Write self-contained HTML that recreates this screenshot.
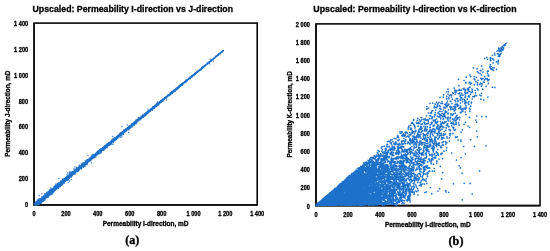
<!DOCTYPE html>
<html lang="en"><head><meta charset="utf-8"><title>Upscaled permeability cross-plots</title>
<style>html,body{margin:0;padding:0;background:#fff}svg{display:block}text{font-family:"Liberation Sans",sans-serif;font-weight:bold;fill:#000;stroke:#000;stroke-width:0.3px}.cap{font-family:"Liberation Serif",serif;font-weight:bold;fill:#000;stroke:#000;stroke-width:0.3px}</style></head><body>
<svg width="550" height="251" viewBox="0 0 550 251">
<rect width="550" height="251" fill="#fff"/>
<defs><clipPath id="ca"><rect x="33.2" y="23.1" width="224.0" height="182.7"/></clipPath><clipPath id="cb"><rect x="315.1" y="23.9" width="224.9" height="182.6"/></clipPath></defs>
<text x="132.8" y="11.6" font-size="9.1" text-anchor="middle" textLength="200.5" lengthAdjust="spacingAndGlyphs">Upscaled: Permeability I-direction vs J-direction</text>
<text x="34.1" y="215.65" font-size="6.4" text-anchor="middle" textLength="3.1" lengthAdjust="spacingAndGlyphs">0</text>
<text x="66.0" y="215.65" font-size="6.4" text-anchor="middle" textLength="9.4" lengthAdjust="spacingAndGlyphs">200</text>
<text x="97.8" y="215.65" font-size="6.4" text-anchor="middle" textLength="9.4" lengthAdjust="spacingAndGlyphs">400</text>
<text x="129.7" y="215.65" font-size="6.4" text-anchor="middle" textLength="9.4" lengthAdjust="spacingAndGlyphs">600</text>
<text x="161.6" y="215.65" font-size="6.4" text-anchor="middle" textLength="9.4" lengthAdjust="spacingAndGlyphs">800</text>
<text x="193.5" y="215.65" font-size="6.4" text-anchor="middle" textLength="14.1" lengthAdjust="spacingAndGlyphs">1 000</text>
<text x="225.3" y="215.65" font-size="6.4" text-anchor="middle" textLength="14.1" lengthAdjust="spacingAndGlyphs">1 200</text>
<text x="257.2" y="215.65" font-size="6.4" text-anchor="middle" textLength="14.1" lengthAdjust="spacingAndGlyphs">1 400</text>
<text x="26.5" y="207.40" font-size="6.4" text-anchor="middle" textLength="3.1" lengthAdjust="spacingAndGlyphs">0</text>
<text x="23.4" y="181.43" font-size="6.4" text-anchor="middle" textLength="9.4" lengthAdjust="spacingAndGlyphs">200</text>
<text x="23.4" y="155.46" font-size="6.4" text-anchor="middle" textLength="9.4" lengthAdjust="spacingAndGlyphs">400</text>
<text x="23.4" y="129.49" font-size="6.4" text-anchor="middle" textLength="9.4" lengthAdjust="spacingAndGlyphs">600</text>
<text x="23.4" y="103.51" font-size="6.4" text-anchor="middle" textLength="9.4" lengthAdjust="spacingAndGlyphs">800</text>
<text x="21.1" y="77.54" font-size="6.4" text-anchor="middle" textLength="14.1" lengthAdjust="spacingAndGlyphs">1 000</text>
<text x="21.1" y="51.57" font-size="6.4" text-anchor="middle" textLength="14.1" lengthAdjust="spacingAndGlyphs">1 200</text>
<text x="21.1" y="25.60" font-size="6.4" text-anchor="middle" textLength="14.1" lengthAdjust="spacingAndGlyphs">1 400</text>
<text x="145.6" y="226.1" font-size="6.8" text-anchor="middle" textLength="85.8" lengthAdjust="spacingAndGlyphs">Permeability I-direction, mD</text>
<text transform="translate(9.7 113.7) rotate(-90)" font-size="6.7" text-anchor="middle" textLength="86.3" lengthAdjust="spacingAndGlyphs">Permeability J-direction, mD</text>
<text class="cap" x="132.3" y="244.0" font-size="12.2" text-anchor="middle">(a)</text>
<rect x="34.1" y="23.1" width="223.1" height="181.8" fill="none" stroke="#000" stroke-width="1.55"/>
<path d="M34.1 23.1V204.9H257.2" fill="none" stroke="#111" stroke-width="1.7"/>
<g clip-path="url(#ca)">
<path d="M34.2 205.1L36.7 201.7L39.8 199.0L43.0 196.4L46.1 193.8L49.2 191.2L52.3 188.5L55.4 185.9L58.6 183.3L61.7 180.7L64.8 178.0L67.9 175.4L71.0 172.8L74.2 170.2L77.4 167.7L80.6 165.1L83.7 162.5L86.9 160.0L90.1 157.4L93.3 154.9L96.4 152.3L99.6 149.8L102.8 147.2L106.0 144.6L109.1 142.1L112.3 139.5L115.5 137.0L118.7 134.4L121.8 131.9L125.0 129.3L128.2 126.7L131.4 124.2L134.5 121.6L137.7 119.1L140.9 116.5L144.1 114.0L147.2 111.4L150.4 108.9L153.6 106.3L156.8 103.7L160.0 101.2L163.1 98.6L166.3 96.1L169.5 93.5L172.7 91.0L175.8 88.4L179.0 85.8L182.2 83.3L185.4 80.7L188.5 78.2L191.7 75.6L194.9 73.1L198.1 70.5L201.2 67.9L204.4 65.4L207.6 62.8L210.8 60.3L213.9 57.7L217.1 55.2L220.3 52.6L223.5 50.0L224.0 50.7L220.9 53.3L217.7 55.9L214.6 58.5L211.4 61.1L208.3 63.7L205.1 66.3L202.0 68.9L198.8 71.4L195.7 74.0L192.5 76.6L189.4 79.2L186.3 81.8L183.1 84.4L180.0 87.0L176.8 89.6L173.7 92.2L170.5 94.8L167.4 97.4L164.2 100.0L161.1 102.6L157.9 105.2L154.8 107.8L151.7 110.4L148.5 113.0L145.4 115.6L142.2 118.1L139.1 120.7L135.9 123.3L132.8 125.9L129.6 128.5L126.5 131.1L123.4 133.7L120.2 136.3L117.1 138.9L113.9 141.5L110.8 144.1L107.6 146.7L104.5 149.3L101.3 151.9L98.2 154.5L95.0 157.1L91.9 159.7L88.8 162.2L85.6 164.8L82.5 167.4L79.3 170.0L76.2 172.6L73.0 175.2L69.9 177.9L66.9 180.5L63.8 183.2L60.7 185.9L57.6 188.5L54.5 191.2L51.4 193.9L48.3 196.5L45.2 199.2L42.2 201.9L39.1 204.5L35.4 206.5Z" fill="#1d71ca"/>
<path d="M128.0 128.7h0M54.4 188.4h0M95.1 155.8h0M58.1 184.5h0M111.5 140.4h0M126.6 128.3h0M47.0 195.9h0M104.0 147.6h0M103.2 146.9h0M52.9 193.2h0M46.0 196.0h0M102.5 147.8h0M154.7 105.5h0M102.4 148.6h0M121.2 132.7h0M68.9 176.4h0M78.8 169.3h0M123.4 132.3h0M44.8 195.4h0M83.1 166.1h0M52.8 189.2h0M188.9 78.5h0M181.6 85.1h0M115.5 138.3h0M203.5 66.7h0M191.7 76.4h0M77.6 168.9h0M36.2 204.6h0M111.5 142.9h0M214.4 57.9h0M107.2 147.8h0M120.2 134.9h0M104.9 147.0h0M45.8 196.5h0M172.6 92.2h0M173.8 91.2h0M168.0 95.7h0M55.1 189.0h0M47.7 192.2h0M116.8 138.3h0M210.5 61.6h0M104.1 147.5h0M155.9 106.5h0M190.0 77.5h0M39.1 204.0h0M210.0 61.6h0M139.4 118.6h0M215.6 56.8h0M51.2 190.5h0M200.0 69.3h0M123.7 133.2h0M135.3 121.8h0M94.4 155.8h0M49.8 193.6h0M160.3 101.2h0M41.5 199.2h0M189.9 77.7h0M36.7 204.2h0M58.3 186.6h0M35.2 203.3h0M139.9 118.6h0M206.6 64.6h0M136.0 123.2h0M116.9 137.9h0M212.8 59.9h0M72.0 175.1h0M128.6 128.7h0M186.2 81.1h0M161.5 101.1h0M116.4 137.7h0M40.7 201.5h0M175.6 89.0h0M150.1 109.7h0M47.1 195.8h0M52.3 188.8h0M78.4 168.8h0M135.5 123.0h0M43.7 197.7h0M76.6 167.5h0M53.1 189.6h0M157.5 103.4h0M38.9 202.5h0M43.9 198.1h0M197.8 71.6h0M178.0 87.2h0M88.4 160.5h0M148.5 113.1h0M164.1 99.5h0M77.1 170.2h0M158.7 102.5h0M109.2 145.0h0M44.2 200.0h0M131.4 123.9h0M206.9 64.5h0M81.3 166.7h0M159.6 102.6h0M90.3 159.0h0M79.6 167.4h0M79.3 169.2h0M79.7 167.5h0M221.7 52.0h0M176.0 88.7h0M41.1 202.7h0M48.2 193.4h0M157.0 104.0h0M53.5 189.5h0M96.0 154.8h0M68.1 179.1h0M200.9 69.9h0M54.0 187.4h0M43.5 199.8h0M97.7 152.5h0M60.5 184.2h0M104.4 147.6h0M81.6 166.8h0M49.0 193.7h0M217.7 54.7h0M215.4 57.4h0M101.4 151.7h0M122.3 133.2h0M94.2 155.9h0M177.3 88.3h0M182.9 84.2h0M66.0 179.9h0M47.1 194.7h0M70.5 176.4h0M104.6 148.5h0M117.0 137.6h0M170.6 94.4h0M209.7 61.5h0M142.5 114.9h0M138.6 120.9h0M161.6 100.2h0M82.7 163.2h0M152.1 107.8h0M112.6 139.8h0M128.9 127.1h0M120.2 133.7h0M190.5 77.9h0M157.1 104.2h0M171.4 92.7h0M174.8 90.5h0M83.5 165.3h0M155.9 105.7h0M158.6 103.5h0M176.7 88.7h0M165.7 96.9h0M117.2 136.1h0M140.1 118.9h0M49.8 193.8h0M87.1 160.5h0M78.2 171.3h0M193.1 75.3h0M192.3 77.0h0M37.7 201.7h0M86.3 163.4h0M95.7 154.3h0M77.7 170.1h0M67.2 176.6h0M36.6 202.7h0M90.2 158.7h0M57.3 186.0h0M130.5 126.3h0M106.1 146.1h0M213.0 59.1h0M58.5 184.6h0M162.3 99.7h0M44.4 197.9h0M98.2 151.6h0M127.0 129.4h0M72.4 173.8h0M98.8 151.8h0M131.2 125.9h0M48.0 193.9h0M35.1 204.6h0M96.2 154.6h0M46.9 195.2h0M48.3 191.8h0M85.4 163.4h0M202.4 67.6h0M37.0 204.2h0M163.2 100.5h0M191.9 75.5h0M124.6 130.6h0M115.9 138.5h0M69.2 172.6h0M143.9 115.8h0M159.0 103.9h0M44.3 198.8h0M91.1 158.9h0M195.4 73.0h0M82.6 165.3h0M57.2 186.1h0M141.0 115.9h0M206.8 64.3h0M44.0 199.0h0M104.7 148.0h0M182.2 84.9h0M161.2 101.9h0M129.1 128.3h0M64.3 180.5h0M154.9 106.4h0M145.5 115.6h0M147.8 111.0h0M61.7 181.8h0M91.3 158.9h0M39.5 203.3h0M47.5 193.5h0M52.8 189.4h0M60.7 182.3h0M39.3 203.3h0M38.9 204.1h0M187.2 80.2h0M76.5 170.2h0M60.5 184.5h0M91.1 156.7h0M36.3 204.3h0M38.9 201.7h0M117.6 136.5h0M115.9 138.2h0M170.4 93.7h0M117.9 135.5h0M126.9 130.2h0M111.5 144.1h0M61.7 184.5h0M141.8 116.7h0M174.5 90.8h0M57.5 185.4h0M198.9 70.8h0M49.3 190.9h0M38.0 202.5h0M106.4 146.8h0M75.2 174.0h0M41.5 198.6h0M165.1 98.2h0M45.9 194.0h0M102.6 148.8h0M62.6 181.1h0M44.9 200.0h0M121.0 137.4h0M158.5 103.5h0M158.3 103.3h0M200.8 68.9h0M58.3 185.3h0M122.2 132.0h0M148.2 112.1h0M215.9 56.5h0M197.9 72.1h0M71.2 176.5h0M124.1 130.1h0M92.6 156.4h0M139.2 117.4h0M172.9 91.4h0M194.2 75.2h0M91.5 157.3h0M77.6 170.1h0M77.6 169.4h0M90.9 158.5h0M45.0 198.0h0M114.7 139.6h0M54.3 187.0h0M66.1 179.3h0M69.1 176.7h0M41.1 200.0h0M65.7 181.1h0M117.4 137.0h0M123.9 130.8h0M147.1 113.5h0M51.7 191.3h0M221.3 52.3h0M221.0 52.4h0M122.3 132.6h0M70.7 177.1h0M37.8 201.4h0M38.4 203.0h0M89.1 161.2h0M130.4 126.7h0M130.3 127.8h0M196.5 72.0h0M40.1 202.4h0M111.8 143.5h0M59.8 185.0h0M174.3 90.9h0M44.1 199.2h0M166.6 97.4h0M35.2 203.7h0M58.6 188.3h0M69.4 181.0h0M52.1 192.5h0M187.7 79.8h0M62.9 182.8h0M40.0 200.5h0M118.0 137.2h0M102.5 150.3h0M209.3 62.0h0M128.1 129.5h0M50.7 187.9h0M51.4 193.0h0M109.4 144.0h0M136.0 122.2h0M101.6 149.3h0M48.4 194.5h0M100.1 151.8h0M64.4 181.6h0M150.6 111.3h0M203.2 67.4h0M109.7 143.2h0M38.1 202.8h0M40.9 201.5h0M218.3 54.8h0M48.1 193.0h0M187.7 79.7h0M106.0 147.4h0M64.0 180.9h0M170.4 94.5h0M50.8 193.6h0M86.9 160.8h0M63.5 180.7h0M197.6 72.5h0M66.6 178.1h0M102.2 149.5h0M40.0 200.9h0M35.2 204.3h0M38.7 200.7h0M69.3 178.5h0M170.5 92.8h0M109.7 143.2h0M186.4 80.9h0M42.4 200.2h0M152.7 108.2h0M149.8 110.4h0M164.3 98.2h0M149.7 110.8h0M94.3 154.5h0M201.5 68.9h0M84.3 165.1h0M34.9 203.9h0M37.5 201.3h0M51.0 194.7h0M123.1 133.2h0M67.6 172.9h0M212.6 59.2h0M64.6 180.6h0M194.9 74.4h0M157.0 104.2h0M103.4 147.4h0M155.9 106.0h0M120.1 133.9h0M41.0 201.6h0M166.3 96.8h0M149.2 111.7h0M68.5 175.4h0M204.5 65.9h0M75.7 171.6h0M103.5 148.2h0M63.1 180.1h0M190.5 77.1h0M89.6 159.9h0M119.0 134.9h0M82.3 163.1h0M146.9 113.5h0M99.2 153.9h0M42.9 198.1h0M182.4 84.8h0M40.0 202.2h0M213.9 58.4h0M43.4 198.6h0M41.9 197.4h0M83.4 164.5h0M169.9 93.9h0M99.0 150.9h0M102.8 147.8h0M60.1 184.9h0M203.0 66.5h0M37.7 199.9h0M196.0 72.8h0M58.9 185.2h0M213.2 58.9h0M145.9 114.0h0M148.8 111.0h0M75.5 172.6h0M44.1 197.6h0M113.6 140.3h0M61.8 180.3h0M43.8 199.4h0M138.4 119.7h0M101.0 150.2h0M153.6 106.9h0M43.3 199.5h0M206.6 64.1h0M111.1 142.8h0M154.4 107.8h0M147.2 113.3h0M49.2 194.8h0M126.1 131.3h0M81.3 167.6h0M84.2 163.6h0M57.1 187.0h0M63.6 179.6h0M71.5 172.8h0M74.5 171.1h0M133.1 123.4h0M213.9 58.2h0M129.9 126.4h0M60.0 184.1h0M52.5 192.5h0M171.9 92.3h0M136.0 123.1h0M117.8 138.2h0M53.9 187.8h0M155.8 105.1h0M110.8 144.3h0M192.7 75.6h0M59.3 184.1h0M67.7 175.4h0M143.9 115.6h0M79.7 168.7h0M123.6 131.4h0M38.7 202.8h0M75.1 173.4h0M43.1 198.4h0M75.7 171.6h0M61.0 182.0h0M75.4 171.0h0M118.1 136.9h0M175.0 89.3h0M63.4 179.6h0M123.9 129.9h0M155.0 106.5h0M75.9 168.9h0M68.2 182.6h0M89.4 158.4h0M135.8 122.3h0M50.4 193.2h0M50.6 193.2h0M55.7 187.5h0M208.0 62.4h0M51.0 194.3h0M156.1 104.6h0M65.7 180.7h0M71.8 175.1h0M99.7 151.9h0M141.4 118.7h0M53.7 189.6h0M79.4 165.2h0M158.8 102.5h0M169.8 95.6h0M103.0 150.1h0M66.8 179.7h0M54.3 187.2h0M214.0 58.1h0M86.5 160.8h0M41.2 200.7h0M109.4 145.3h0M45.8 197.6h0M48.9 191.1h0M93.4 156.4h0M59.3 185.5h0M107.9 143.7h0M221.0 52.8h0M99.3 150.1h0M52.0 193.4h0M183.5 83.2h0M79.6 166.0h0M86.1 162.8h0M61.6 182.3h0M150.7 108.9h0M67.1 178.9h0M221.6 51.6h0M170.8 94.0h0M73.3 173.3h0M186.3 80.6h0M182.8 83.2h0M168.6 95.0h0M82.2 165.4h0M92.0 158.4h0M95.4 156.7h0M38.5 201.4h0M51.8 191.9h0M74.2 169.6h0M171.6 92.5h0M60.8 184.2h0M185.2 82.4h0M134.3 121.7h0M185.5 80.5h0M93.4 156.4h0M71.1 175.0h0M44.4 196.9h0M94.8 157.3h0M214.2 57.7h0M61.0 183.4h0M62.9 184.0h0M71.3 179.4h0M194.8 73.5h0M113.8 140.9h0M159.9 102.3h0M53.5 189.8h0M83.7 165.4h0M78.9 167.6h0M125.8 128.9h0M168.7 95.5h0M148.4 111.8h0M172.5 91.8h0M45.8 195.1h0M57.8 183.3h0M163.6 99.3h0M179.8 86.5h0M61.5 184.9h0M109.7 144.5h0M107.7 145.2h0M146.5 112.6h0M37.5 202.1h0M60.6 182.4h0M104.3 146.8h0M75.9 171.3h0M35.5 203.7h0M109.4 144.7h0M196.0 72.5h0M86.7 164.7h0M135.9 121.4h0M139.4 119.3h0M104.9 148.8h0M91.1 158.3h0M62.4 179.2h0M36.4 203.7h0M46.3 196.6h0M146.3 113.7h0M51.2 190.9h0M59.6 186.3h0M101.4 151.0h0M93.0 155.2h0M92.0 157.2h0M64.7 180.4h0M165.0 97.3h0M105.9 145.1h0M77.4 169.6h0M215.7 56.6h0M91.9 158.3h0M210.1 61.3h0M136.7 122.2h0M206.1 64.8h0M39.8 201.3h0M81.1 166.7h0M197.3 72.3h0M212.6 59.4h0M51.9 191.3h0M38.2 201.8h0M77.2 170.7h0M68.9 175.4h0M126.3 129.0h0M207.5 63.2h0M187.2 79.7h0M115.6 139.6h0M70.0 171.5h0M220.9 53.0h0M215.9 56.8h0M175.8 90.6h0M178.8 87.2h0M112.2 140.4h0M78.6 167.3h0M48.7 194.3h0M75.5 172.1h0M63.1 182.9h0M71.6 173.6h0M64.3 179.1h0M152.9 107.5h0M216.5 55.9h0M62.4 182.7h0M38.4 200.8h0M164.3 98.7h0M57.1 185.5h0M194.8 74.7h0M93.4 155.7h0M171.0 93.1h0M195.1 73.7h0M132.2 127.1h0M123.9 132.4h0M221.0 52.0h0M107.6 145.0h0M86.9 159.4h0M108.8 143.7h0M144.0 115.9h0M165.6 96.8h0M85.4 166.1h0M71.3 176.7h0M87.6 162.5h0M75.1 171.5h0M121.8 134.1h0M195.4 73.6h0M141.9 116.6h0M100.0 149.4h0M173.7 91.0h0M39.5 201.3h0M200.5 69.2h0M80.6 168.2h0M197.5 72.0h0M202.6 67.9h0M94.0 156.1h0M94.1 154.8h0M99.7 153.2h0M176.1 90.0h0M112.1 141.1h0M190.5 77.4h0M130.0 126.6h0M195.1 73.2h0M42.9 198.0h0M67.6 180.6h0M45.1 196.9h0M45.0 196.9h0M199.6 70.7h0M75.8 169.8h0M101.4 152.2h0M79.2 169.3h0M144.1 115.0h0M192.2 76.0h0M90.1 158.8h0M107.4 146.8h0M102.3 148.9h0M177.7 87.8h0M48.8 194.0h0M146.0 113.9h0M54.9 190.4h0M39.0 204.5h0M207.3 63.3h0M104.6 145.7h0M70.3 173.8h0M165.4 97.9h0M36.3 204.0h0M203.5 67.6h0M174.4 90.6h0M47.8 197.4h0M38.6 202.4h0M59.9 184.5h0M102.4 147.8h0M81.3 164.0h0M220.9 52.5h0M55.3 187.1h0M183.1 83.4h0M137.6 120.8h0M154.0 108.0h0M185.4 81.0h0M42.3 199.8h0M48.8 193.5h0M135.5 120.9h0M50.4 190.8h0M60.4 183.0h0M41.3 200.4h0M77.0 170.1h0M105.0 146.0h0M35.9 203.9h0M73.3 174.1h0M134.0 124.0h0M190.3 78.6h0M42.9 198.3h0M71.0 174.9h0M130.2 126.6h0M41.6 197.8h0M179.3 87.5h0M106.8 144.4h0M100.0 150.2h0M53.7 190.1h0M49.3 194.2h0M157.6 104.9h0M93.0 154.3h0M130.2 128.4h0M128.4 128.6h0M60.0 185.8h0M117.0 137.4h0M77.0 168.6h0M149.0 110.1h0M180.2 85.8h0M195.0 74.0h0M110.7 143.5h0M220.4 52.9h0M57.6 187.4h0M46.3 197.7h0M222.3 51.5h0M75.3 170.9h0M163.2 99.9h0M206.1 64.4h0M201.2 68.9h0M145.7 113.2h0M108.6 144.1h0M186.9 80.7h0M162.9 100.2h0M51.7 192.6h0M55.7 185.2h0M163.2 99.5h0M122.7 132.3h0M197.4 71.1h0M47.6 194.4h0M47.1 193.6h0M189.9 77.9h0M196.0 72.6h0M55.1 189.3h0M96.8 152.2h0M64.4 179.4h0M210.6 61.1h0M166.9 96.5h0M53.4 188.4h0M152.9 106.9h0M186.7 80.0h0M60.9 182.0h0M194.5 73.9h0M41.5 200.7h0M50.3 192.8h0M79.3 168.6h0M40.3 203.3h0M142.5 117.4h0M34.8 204.4h0M156.6 104.6h0M39.2 201.8h0M59.9 184.5h0M41.3 203.2h0M171.4 92.5h0M40.9 201.1h0M56.7 188.6h0M72.0 175.9h0M207.8 63.7h0M38.6 204.4h0M85.1 160.6h0M40.3 199.6h0M101.2 151.0h0M205.6 65.1h0M145.8 113.0h0M38.1 201.3h0M84.8 163.8h0M107.7 144.5h0M210.2 61.9h0M107.4 144.7h0M45.4 195.9h0M144.3 114.6h0M126.3 130.9h0M203.5 67.1h0M80.1 167.5h0M188.8 78.6h0M159.1 101.6h0M214.6 57.9h0M44.1 197.7h0M167.2 95.8h0M78.4 170.0h0M43.4 198.1h0M185.5 81.7h0M157.4 105.7h0M196.2 73.6h0M163.6 99.1h0M65.1 180.7h0M93.5 154.9h0M180.2 85.7h0M121.9 134.5h0M51.1 190.9h0M187.4 79.8h0M60.5 185.2h0M183.1 83.6h0M56.0 186.1h0M77.3 171.8h0M114.3 138.3h0M60.5 184.0h0M40.4 200.3h0M90.0 159.0h0M84.2 165.1h0M193.9 74.5h0M178.0 87.0h0M45.5 194.1h0M168.9 94.5h0M178.1 87.4h0M183.2 83.6h0M191.1 77.2h0M106.3 144.9h0M193.5 74.9h0M143.5 115.1h0M97.5 154.2h0M71.4 174.7h0M123.7 131.7h0M137.3 120.9h0M190.3 76.9h0M202.3 68.7h0M86.3 163.9h0M55.1 190.0h0M129.5 126.4h0M135.8 120.2h0M76.8 167.9h0M49.2 193.6h0M184.9 81.3h0M121.2 134.4h0M89.9 158.7h0M148.7 111.5h0M171.1 93.7h0M127.2 124.9h0M147.7 111.9h0M199.7 70.4h0M189.9 77.9h0M146.8 114.0h0M59.5 184.7h0M178.8 87.6h0M57.7 186.4h0M189.3 77.3h0M191.5 76.0h0M211.7 61.0h0M59.0 182.8h0M87.0 164.1h0M126.6 129.6h0M47.1 192.1h0M152.7 106.7h0M49.0 194.0h0M93.4 157.2h0M172.2 92.0h0M185.4 81.4h0M195.5 72.6h0M60.9 182.8h0M86.0 162.1h0M39.3 200.2h0M69.8 177.3h0M127.5 127.5h0M210.9 61.1h0M209.8 62.1h0M50.4 194.1h0M84.2 164.2h0M53.8 189.3h0M55.6 187.6h0M192.5 76.2h0M123.6 132.2h0M122.0 126.6h0M223.2 51.0h0M100.8 153.0h0M68.5 176.5h0M110.9 141.9h0M213.1 59.2h0M95.8 153.3h0M76.9 170.3h0M70.0 176.1h0M67.1 177.3h0M181.7 85.3h0M84.3 166.4h0M93.2 156.9h0M219.6 53.8h0M50.6 192.9h0M190.3 77.8h0M71.3 173.0h0M105.2 147.4h0M42.1 198.2h0M145.8 112.7h0M135.2 123.1h0M150.1 110.6h0M154.6 105.6h0M155.4 106.5h0M59.0 184.1h0M136.2 122.2h0M171.2 93.5h0M187.9 79.8h0M136.7 121.1h0M147.8 112.8h0M95.4 153.6h0M167.0 96.4h0M76.7 169.3h0M83.6 163.4h0M71.0 174.2h0M87.7 161.0h0M216.3 56.0h0M140.8 118.6h0M55.8 184.1h0M114.3 137.6h0M134.6 123.1h0M70.1 174.3h0M108.5 143.3h0M115.0 141.0h0M98.8 150.9h0M68.0 175.6h0M180.5 84.8h0M40.9 200.7h0M62.8 179.4h0M37.0 203.2h0M123.8 130.5h0M34.6 204.2h0M89.6 159.3h0M214.2 57.5h0M118.9 134.6h0M104.4 148.0h0M60.9 183.8h0M40.6 200.0h0M148.1 111.7h0M71.6 174.2h0M136.2 122.2h0M90.6 158.9h0M108.3 145.7h0M127.0 128.4h0M59.4 184.4h0M89.7 159.6h0M147.2 112.2h0M118.6 136.7h0M209.0 62.8h0M40.2 199.2h0M63.5 179.1h0M51.6 190.8h0M87.1 162.9h0M68.3 177.1h0M113.1 139.7h0M124.1 130.4h0M126.9 128.3h0M113.6 140.5h0M66.5 178.6h0M73.4 173.9h0M172.5 91.8h0M143.9 114.8h0M63.8 179.9h0M92.5 157.3h0M179.0 86.4h0M87.6 161.3h0M140.9 118.5h0M161.9 101.3h0M138.0 119.6h0M81.5 166.0h0M37.2 204.2h0M176.3 89.2h0M217.9 55.4h0M138.8 118.6h0M123.1 133.6h0M55.9 186.5h0M162.3 100.6h0M173.5 91.5h0M134.2 124.0h0M176.4 89.3h0M64.6 179.6h0M35.2 202.7h0M40.3 200.4h0M153.7 106.3h0M97.1 154.7h0M75.7 170.7h0M38.6 203.8h0M173.8 91.7h0M194.1 74.6h0M42.9 199.3h0M192.3 75.6h0M134.0 122.9h0M200.4 69.9h0M69.2 175.7h0M42.1 200.4h0M146.8 114.1h0M90.2 160.3h0M173.8 91.9h0M202.9 67.8h0M82.4 165.0h0M120.6 133.2h0M121.9 134.1h0M77.1 167.7h0M151.3 109.7h0M190.5 78.5h0M87.2 161.8h0M90.7 160.1h0M145.8 114.3h0M87.7 159.7h0M100.2 151.4h0M81.3 166.0h0M179.1 86.7h0M161.4 101.4h0M220.9 52.6h0M181.5 84.4h0M120.8 133.7h0M61.8 180.4h0M55.4 188.9h0M41.2 199.1h0M215.9 56.8h0M169.1 94.9h0M129.4 128.1h0M179.6 86.8h0M89.0 160.1h0M87.4 163.2h0M152.4 110.3h0M157.8 104.6h0M54.3 189.2h0M67.0 178.5h0M205.0 65.7h0M40.4 200.7h0M143.8 116.8h0M153.4 108.6h0M66.4 178.8h0M59.9 183.5h0M74.0 169.5h0M108.5 143.2h0M124.5 130.8h0M169.6 94.6h0M103.0 148.9h0M152.7 108.8h0M83.1 164.5h0M132.0 125.5h0M190.2 78.8h0M124.8 132.0h0M138.5 119.7h0M52.0 191.3h0M71.3 177.2h0M52.3 190.9h0M70.2 175.6h0M223.0 51.2h0M55.5 189.7h0M176.2 88.2h0M57.2 186.8h0M101.7 149.8h0M52.0 194.3h0M48.8 191.9h0M43.9 196.9h0M168.3 95.4h0M82.0 164.5h0M170.5 93.5h0M141.6 117.1h0M55.1 188.6h0M196.1 73.4h0M88.7 160.4h0M47.0 194.8h0M126.4 129.7h0M53.6 191.2h0M49.5 194.7h0M212.8 59.2h0M159.8 101.9h0M48.9 193.4h0M158.3 103.0h0M129.3 128.9h0M38.5 203.0h0M87.4 162.6h0M48.8 193.8h0M47.8 192.5h0M79.3 168.4h0M93.9 155.1h0M51.6 191.3h0M98.2 153.3h0M97.5 154.3h0M201.3 69.4h0M134.0 122.7h0M149.5 110.9h0M153.3 107.8h0M64.1 179.4h0M65.6 177.8h0M43.9 198.4h0M208.3 63.0h0M217.0 55.5h0M40.5 201.1h0M191.8 76.6h0M39.5 200.7h0M97.9 152.4h0M48.6 196.2h0M181.3 85.4h0M69.8 174.0h0M44.0 197.8h0M114.9 138.6h0M49.4 195.4h0M51.8 190.4h0M128.8 129.2h0M167.4 95.8h0M157.5 101.9h0M49.4 192.4h0M155.7 106.8h0M140.1 118.4h0M89.2 160.4h0M39.0 199.0h0M156.6 105.4h0M152.2 108.3h0M182.6 83.3h0M169.5 94.3h0M219.7 53.1h0M77.6 168.5h0M93.8 155.7h0M77.7 169.5h0M40.2 201.1h0M101.5 148.9h0M183.4 83.3h0M146.9 113.2h0M211.8 60.0h0M138.4 120.0h0M42.1 197.8h0M37.2 202.1h0M109.3 145.3h0M190.2 77.0h0M79.5 168.5h0M145.0 114.9h0M127.4 128.7h0M81.4 166.5h0M182.3 85.4h0M36.4 204.0h0M61.5 183.4h0M146.4 114.0h0M199.5 70.2h0M78.5 170.1h0M97.4 153.1h0M112.1 139.8h0M177.6 87.4h0M58.1 186.1h0M43.9 197.2h0M64.8 181.1h0M122.8 132.3h0M108.5 144.6h0M107.4 145.4h0M219.9 54.0h0M128.5 132.3h0M56.8 187.5h0M215.0 57.2h0M155.5 105.3h0M215.4 57.7h0M57.6 188.4h0M207.5 63.6h0M48.4 196.3h0M220.2 53.0h0M64.6 178.5h0M60.0 184.2h0M83.1 164.4h0M122.2 136.1h0M42.8 198.5h0M82.6 165.9h0M57.7 185.5h0M71.3 176.4h0M151.4 109.0h0M85.8 162.6h0M74.3 172.6h0M177.1 87.5h0M209.3 62.3h0M166.7 96.4h0M37.5 200.6h0M191.2 77.3h0M217.1 55.9h0M142.5 116.8h0M43.1 198.7h0M205.2 66.2h0M44.6 194.0h0M49.4 190.1h0M167.6 95.6h0M66.0 180.2h0M85.2 165.7h0M65.8 179.1h0M190.1 78.0h0M94.5 157.2h0M127.0 128.3h0M49.8 193.9h0M172.0 91.8h0M60.5 182.6h0M62.8 182.2h0M182.2 84.0h0M135.5 121.9h0M166.5 97.0h0M98.1 152.0h0M177.5 87.3h0M42.1 199.8h0M39.5 203.3h0M223.4 50.5h0M165.7 98.2h0M42.7 197.2h0M59.6 185.6h0M137.6 120.7h0M35.0 204.1h0M72.6 173.3h0M71.3 173.1h0M92.6 157.0h0M79.1 167.7h0M103.3 147.9h0M173.1 91.9h0M205.7 64.5h0M85.8 162.4h0M134.4 122.5h0M42.2 199.5h0M38.7 201.4h0M56.4 187.0h0M63.8 182.2h0M104.2 146.8h0M38.7 204.2h0M209.2 62.7h0M136.3 121.9h0M89.8 159.5h0M51.3 192.4h0M67.9 179.1h0M141.3 118.1h0M87.3 160.7h0M40.2 200.3h0M181.6 84.4h0M74.8 170.6h0M157.9 103.4h0M95.7 153.1h0M62.9 183.9h0M97.1 154.2h0M186.2 81.9h0M163.3 99.3h0M223.1 50.8h0M60.0 184.2h0M122.9 132.0h0M209.7 61.6h0M124.6 131.7h0M102.6 150.2h0M207.0 63.7h0M191.9 76.8h0M210.8 61.3h0M144.0 115.6h0M218.5 53.7h0M117.2 137.9h0M51.8 191.5h0M94.6 155.6h0M100.6 151.9h0M63.2 179.5h0M49.5 194.5h0M187.5 79.7h0M69.8 176.0h0M97.5 153.6h0M145.9 114.2h0M95.2 155.1h0M96.5 152.3h0M56.2 184.7h0M165.9 97.2h0M74.9 171.1h0M57.2 186.9h0M80.5 167.4h0M53.5 191.4h0M213.2 58.8h0M109.4 144.1h0M35.3 204.6h0M135.4 122.0h0M38.4 202.2h0M47.7 195.7h0M88.6 159.6h0M109.0 143.3h0M118.5 135.4h0M109.2 143.5h0M40.5 201.6h0M60.3 181.1h0M60.3 186.0h0M37.2 201.2h0M170.7 93.3h0M118.4 135.8h0M104.1 148.4h0M220.0 53.2h0M193.1 75.8h0M167.2 96.6h0M45.0 198.4h0M113.4 142.5h0M82.7 165.4h0M60.6 184.6h0M70.2 174.2h0M49.9 190.4h0M40.6 200.5h0M56.7 188.8h0M146.9 113.3h0M66.3 176.9h0M130.4 127.0h0M80.3 168.5h0M121.7 134.8h0M151.8 109.2h0M201.5 69.2h0M51.1 192.6h0M195.2 74.3h0M107.1 144.7h0M116.8 138.4h0M42.0 202.2h0M199.4 70.6h0M61.8 180.4h0M72.3 173.6h0M210.8 60.7h0M138.9 119.3h0M51.1 191.1h0M173.0 90.5h0M118.9 135.4h0M71.0 176.1h0M99.4 153.2h0M44.8 196.0h0M184.2 81.8h0M186.0 80.7h0M54.1 189.4h0M113.2 141.5h0M158.8 105.0h0M189.8 78.4h0M44.4 199.0h0M162.7 100.2h0M121.7 134.2h0M95.6 155.6h0M92.0 155.4h0M127.0 128.2h0M119.8 136.7h0M45.7 194.3h0M92.0 156.9h0M137.1 121.2h0M197.8 71.1h0M218.8 54.1h0M90.9 158.4h0M91.2 159.0h0M54.4 189.1h0M64.8 180.4h0M123.6 134.4h0M154.1 108.1h0M38.0 202.8h0M63.0 181.0h0M153.1 107.6h0M57.7 186.3h0M197.5 71.7h0M150.4 108.9h0M64.8 180.7h0M43.3 199.3h0M64.5 179.1h0M106.9 145.8h0M163.6 99.9h0M167.3 96.6h0M89.9 160.1h0M128.8 129.9h0M136.0 123.9h0M61.0 183.8h0M61.9 185.2h0M142.9 116.7h0M93.9 156.0h0M47.6 191.8h0M77.7 171.1h0M120.8 135.9h0M66.6 179.9h0M150.4 110.3h0M69.6 175.3h0M50.6 190.1h0M57.0 187.7h0M57.5 184.7h0M52.1 192.1h0M113.1 140.9h0M186.9 79.7h0M91.5 162.9h0M72.3 174.8h0M179.9 86.6h0M113.0 144.4h0M95.7 153.7h0M110.4 143.3h0M54.8 189.2h0M79.0 166.5h0M52.4 191.2h0M180.7 86.0h0M40.2 198.7h0M99.6 151.1h0M37.0 204.6h0M38.7 204.0h0M37.2 202.9h0M51.5 188.8h0M88.9 160.3h0M44.0 199.0h0M36.8 202.1h0M122.5 132.7h0M61.3 182.0h0M66.0 180.8h0M153.7 107.6h0M55.8 187.3h0M81.7 168.3h0M194.8 73.6h0M83.3 164.9h0M75.1 166.9h0M54.5 188.3h0M47.7 194.2h0M47.5 195.8h0M43.8 195.7h0M132.5 125.6h0M69.7 173.1h0M179.9 86.4h0M44.4 198.7h0M83.1 165.2h0M200.1 70.3h0M103.6 147.6h0M180.7 85.3h0M41.4 199.2h0M155.0 107.0h0M57.1 188.0h0M39.5 202.9h0M182.7 83.0h0M113.6 138.8h0M117.1 137.4h0M75.7 170.1h0M165.0 98.2h0M195.7 74.1h0M48.4 192.5h0M198.7 70.7h0M183.6 83.6h0M43.3 198.6h0M177.8 87.4h0M74.1 172.2h0M134.3 122.3h0M175.1 89.3h0M64.5 181.0h0M57.6 183.8h0M162.1 101.1h0M163.3 100.2h0M141.7 117.9h0M121.6 133.5h0M73.0 172.7h0M49.7 194.7h0M61.2 184.2h0M71.2 175.0h0M38.8 202.2h0M61.7 184.7h0M41.4 198.5h0M67.3 178.7h0M132.9 124.6h0M203.4 66.4h0M204.6 65.4h0M54.2 188.9h0M110.1 142.9h0M190.3 78.1h0M66.6 179.0h0M65.5 178.0h0M59.5 183.4h0M88.0 155.6h0M210.2 60.8h0M104.9 147.5h0M124.7 132.2h0M109.7 144.4h0M39.2 204.3h0M69.7 175.8h0M208.8 61.8h0M93.3 157.2h0M128.6 126.7h0M85.5 163.3h0M87.9 161.6h0M66.9 176.6h0M202.8 67.5h0M37.5 202.5h0M37.9 200.8h0M58.7 182.9h0M190.2 78.5h0M142.6 114.9h0M63.8 181.5h0M140.2 119.9h0M148.0 111.4h0M70.7 174.3h0M125.4 129.6h0M209.6 63.9h0M143.3 115.8h0M107.7 144.5h0M119.2 135.0h0M98.1 150.3h0M73.0 172.4h0M90.2 157.9h0M76.9 170.9h0M148.3 111.7h0M208.9 62.3h0M130.9 125.4h0M106.8 144.1h0M114.8 138.4h0M184.5 82.3h0M69.3 173.7h0M155.3 105.2h0M196.3 73.0h0M97.4 153.1h0M98.7 153.8h0M66.9 176.8h0M74.9 170.6h0M192.0 75.3h0M218.7 55.1h0M39.4 200.9h0M156.5 105.8h0M39.1 195.7h0M56.0 187.1h0M179.8 86.7h0M166.3 97.2h0M74.3 172.2h0M163.9 98.6h0M42.0 198.3h0M58.8 178.7h0M61.7 183.4h0M48.5 195.3h0M52.8 191.4h0M188.5 79.4h0M60.4 183.0h0M116.6 139.4h0M185.5 82.2h0M58.9 185.8h0M47.0 194.2h0M208.2 62.7h0M76.9 169.4h0M49.9 193.6h0M64.4 183.1h0M59.4 183.3h0M47.1 194.7h0M172.2 91.9h0M69.9 175.0h0M177.3 88.8h0M79.1 165.6h0M211.5 60.5h0M60.4 183.6h0M106.3 145.8h0M38.6 203.5h0M59.7 187.1h0M133.2 125.7h0M66.9 174.6h0M35.9 203.1h0M44.3 196.8h0M35.3 203.7h0M44.6 198.5h0M50.3 190.5h0M178.2 88.0h0M66.3 177.2h0M198.3 71.5h0M44.7 197.7h0M133.5 124.9h0M163.4 99.7h0M90.6 157.8h0M186.4 81.6h0M56.3 188.9h0M146.1 112.5h0M47.6 195.7h0M45.4 195.8h0M123.0 132.4h0M55.7 187.2h0M152.7 109.6h0M71.2 175.0h0M54.6 189.7h0M216.6 56.3h0M162.0 101.4h0M76.8 170.3h0M199.8 69.3h0M116.5 136.7h0M50.7 191.8h0M181.9 83.3h0M203.9 66.8h0M162.9 99.0h0M133.7 123.0h0M40.5 199.1h0M198.0 70.8h0M179.3 86.9h0M164.2 97.3h0M62.2 183.6h0M205.8 65.3h0M66.1 179.7h0M112.8 141.6h0M60.5 183.7h0M122.7 133.6h0M203.8 66.7h0M47.9 195.2h0M45.9 195.9h0M38.1 204.3h0M63.2 182.1h0M70.8 172.6h0M34.8 204.6h0M138.7 119.7h0M90.7 160.3h0M55.4 188.7h0M68.2 178.7h0M146.4 113.9h0M55.5 185.2h0M136.3 120.4h0M55.8 189.8h0M207.0 64.5h0M43.2 199.1h0M34.5 204.6h0M211.0 60.8h0M161.7 100.8h0M195.7 73.2h0M91.5 157.3h0M136.8 120.1h0M179.0 86.3h0M47.2 196.3h0M163.7 100.8h0M62.8 180.3h0M110.5 143.3h0M89.2 160.8h0M194.9 73.7h0M79.9 166.7h0M57.6 187.4h0M139.3 119.1h0M160.9 100.9h0M221.7 51.9h0M40.3 200.4h0M215.9 56.9h0M125.0 130.7h0M129.7 126.5h0M147.9 113.2h0M153.8 106.6h0M126.7 129.2h0M215.8 57.1h0M85.9 163.2h0M122.1 132.9h0M70.4 176.4h0M114.0 139.0h0M115.5 139.6h0M43.9 198.0h0M142.6 116.8h0M201.6 67.5h0M93.3 156.6h0M111.3 141.7h0M41.0 200.6h0M107.7 144.6h0M189.3 77.9h0M71.4 174.2h0M101.4 149.2h0M176.2 89.8h0M185.5 82.1h0M185.5 81.7h0M57.2 183.5h0M64.7 181.0h0M87.5 163.3h0M215.4 57.5h0M135.8 121.4h0M121.2 133.8h0M106.5 146.5h0M104.8 149.0h0M140.4 118.3h0M127.1 128.0h0M48.4 196.0h0M162.8 100.7h0M167.1 95.9h0M133.8 122.9h0M222.2 50.9h0M49.4 195.5h0M41.8 200.0h0M40.3 202.8h0M46.5 195.4h0M39.8 201.1h0M35.3 202.8h0M53.0 189.9h0M34.7 204.5h0M46.1 193.7h0M178.2 88.6h0M167.4 96.3h0M79.3 170.1h0M154.9 107.3h0M178.7 87.5h0M120.7 135.2h0M138.6 120.0h0M131.8 126.2h0M37.5 202.7h0M197.7 72.3h0M71.2 174.4h0M39.4 201.7h0M74.5 173.0h0M39.3 200.4h0M39.3 202.3h0M60.5 186.4h0M177.1 88.0h0M156.9 104.1h0M57.6 188.6h0M61.9 182.7h0M139.7 118.5h0M46.7 195.4h0M184.0 83.1h0M146.2 114.6h0M129.7 126.0h0M43.8 198.4h0M48.5 196.1h0M218.3 54.9h0M181.3 85.5h0M37.7 203.4h0M195.1 73.8h0M50.9 190.4h0M210.2 61.1h0M150.1 110.6h0M157.2 105.0h0M75.0 172.4h0M38.8 203.5h0M181.7 83.9h0M98.4 151.4h0M161.4 101.5h0M74.6 171.9h0M148.3 113.1h0M136.6 123.1h0M56.1 187.4h0M152.1 109.0h0M47.7 194.4h0M54.0 186.5h0M71.8 175.9h0M43.3 200.5h0M172.3 91.7h0M147.8 111.3h0M85.8 164.1h0M54.2 191.4h0M63.8 180.9h0M82.3 164.3h0M189.0 78.7h0M213.4 59.1h0M176.2 89.2h0M163.4 99.5h0M72.0 174.6h0M201.9 68.1h0M82.3 165.6h0M138.7 119.9h0M104.9 149.1h0M181.7 85.3h0M208.2 63.0h0M105.7 145.5h0M76.5 170.7h0M43.3 197.1h0M179.9 85.0h0M58.0 185.2h0M100.1 150.7h0M176.6 88.6h0M58.3 184.2h0M55.1 186.5h0M109.6 144.3h0M84.2 164.1h0M215.4 56.9h0M116.9 136.5h0M82.3 165.1h0M175.9 90.1h0M44.0 196.9h0M172.4 92.3h0M104.3 147.9h0M210.1 61.5h0M177.4 89.2h0M221.9 51.6h0M145.6 114.0h0M68.4 178.2h0M128.7 127.0h0M46.0 197.8h0M156.3 104.9h0M38.8 200.6h0M45.9 198.0h0M39.9 200.0h0M49.1 191.1h0M105.3 145.5h0M85.5 163.7h0M182.0 83.7h0M45.7 198.8h0M167.6 95.9h0M211.8 60.1h0M137.4 120.4h0M187.3 80.4h0M95.8 155.3h0M45.6 195.3h0M207.0 63.7h0M101.0 149.9h0M68.1 177.4h0M133.2 123.6h0M164.4 99.3h0M119.0 135.7h0M146.3 112.6h0M37.6 200.6h0M175.1 91.3h0M132.1 124.0h0M35.3 204.3h0M35.6 202.1h0M156.9 104.7h0M96.0 156.9h0M208.8 62.3h0M125.7 131.3h0M132.9 124.0h0M47.5 193.9h0M166.9 96.1h0M63.0 182.5h0M153.0 108.4h0M66.7 176.4h0M44.8 197.8h0M92.8 158.1h0M66.0 178.1h0M212.4 59.4h0M82.9 163.0h0M83.0 164.3h0M77.0 170.9h0M59.3 182.9h0M85.1 165.4h0M74.1 174.2h0M54.0 190.1h0M214.3 57.6h0M39.0 201.5h0M131.9 124.9h0M156.3 103.6h0M50.8 193.3h0M221.2 52.2h0M52.0 191.1h0M156.3 104.9h0M56.3 186.6h0M175.3 90.9h0M102.1 150.4h0M183.8 82.9h0M198.0 71.3h0M84.2 162.9h0M200.5 69.2h0M201.5 68.6h0M89.0 161.1h0M44.0 199.2h0M217.5 55.6h0M135.4 122.3h0M222.4 51.0h0M223.2 50.8h0M182.6 83.4h0M74.1 168.6h0M164.2 99.4h0M138.3 120.4h0M101.0 151.0h0M73.9 172.7h0M217.5 55.9h0M94.1 154.8h0M91.8 155.2h0M190.9 77.1h0M63.4 179.8h0M137.7 119.4h0M143.3 115.3h0M43.6 199.4h0M141.8 116.8h0M210.2 59.2h0M96.9 154.8h0M62.1 181.7h0M198.4 70.9h0M204.9 65.6h0M46.2 196.1h0M185.8 81.6h0M198.3 70.9h0M108.5 145.0h0M109.1 144.7h0M152.1 109.5h0M53.3 191.2h0M43.4 198.6h0M157.5 104.1h0M189.1 78.8h0M183.4 83.5h0M38.6 201.3h0M125.2 130.7h0M51.9 190.7h0M47.5 194.2h0M161.4 102.3h0M103.7 147.1h0M37.4 200.2h0M76.0 170.8h0M48.3 194.2h0M136.2 121.3h0M179.2 85.7h0M141.5 117.4h0M95.5 155.0h0M119.6 134.7h0M217.8 55.3h0M43.1 197.5h0M160.0 101.7h0M67.1 177.7h0M90.5 159.7h0M138.3 118.0h0M109.9 144.1h0M158.1 104.3h0M42.8 199.9h0M68.9 178.8h0M222.3 52.0h0M94.3 157.9h0M147.6 113.3h0M162.9 100.0h0M208.3 62.7h0M124.2 130.8h0M166.7 96.4h0M68.2 179.8h0M50.5 194.1h0M47.6 195.8h0M160.6 101.5h0M134.5 122.0h0M101.9 149.8h0M173.8 90.6h0M38.2 199.4h0M144.2 113.6h0M50.5 191.7h0M154.4 107.6h0M52.0 190.0h0M34.8 203.7h0M54.4 186.9h0M36.0 202.5h0M81.5 168.9h0M185.9 81.4h0M42.6 199.1h0M194.2 75.3h0M94.9 154.9h0M49.5 192.7h0M148.8 110.9h0M59.2 185.5h0M71.6 174.2h0M211.4 60.0h0M91.1 157.8h0M145.1 115.9h0M135.6 124.1h0M202.1 68.1h0M37.2 204.3h0M162.9 100.8h0M112.6 140.4h0M46.4 192.9h0M140.4 118.1h0M123.8 131.4h0M180.9 85.1h0M102.7 148.9h0M43.7 196.4h0M108.3 144.3h0M53.7 192.1h0M134.3 123.1h0M55.0 189.3h0M221.3 52.5h0M149.0 111.3h0M119.2 135.0h0M87.6 162.6h0M89.6 158.5h0M97.9 152.8h0M97.6 153.7h0M131.7 125.4h0M116.6 138.7h0M203.1 67.2h0M57.3 187.2h0M167.8 95.0h0M195.3 73.4h0M179.5 86.7h0M204.2 66.4h0M64.0 178.5h0M216.4 56.6h0M182.3 84.2h0M57.3 186.9h0M160.2 102.9h0M134.6 121.6h0M136.3 123.3h0M129.2 128.6h0M43.3 198.8h0M168.5 95.7h0M74.5 172.3h0M45.7 194.9h0M71.9 171.3h0M64.5 180.1h0M65.7 179.1h0M43.9 200.3h0M91.4 159.5h0M113.8 139.3h0M35.0 203.1h0M139.6 118.4h0M202.7 67.2h0M65.3 177.9h0M211.7 60.8h0M178.3 87.5h0M152.5 107.3h0M103.1 148.6h0M83.3 166.1h0M90.4 160.9h0M203.0 67.4h0M87.0 164.7h0M200.9 70.0h0M67.7 178.4h0M37.5 204.3h0M145.4 114.8h0M72.2 173.6h0M139.4 119.5h0M36.6 204.1h0M41.2 202.4h0M128.7 126.3h0M39.9 200.9h0M219.4 53.9h0M217.4 55.0h0M136.4 122.1h0M132.4 124.0h0M45.7 198.1h0M79.4 168.4h0M40.4 203.5h0M43.8 198.6h0M114.4 139.9h0M108.5 142.3h0M144.7 115.4h0M124.0 131.8h0M172.5 91.5h0M150.0 110.3h0M57.5 187.0h0M125.4 131.8h0M97.5 151.7h0M119.4 135.0h0M201.7 68.4h0M132.6 125.7h0M99.0 151.7h0M48.8 194.6h0M72.4 172.1h0M126.8 128.6h0M48.2 197.3h0M144.7 113.9h0M61.2 183.3h0M62.4 182.5h0M78.8 168.9h0M147.1 112.4h0M73.1 173.5h0M196.3 73.0h0M186.8 81.5h0M61.7 184.8h0M208.4 62.7h0M113.3 140.5h0M59.2 186.5h0M131.8 126.8h0M57.1 186.4h0M103.1 148.9h0M165.1 97.7h0M42.6 199.1h0M93.1 155.4h0M48.8 194.3h0M173.8 90.1h0M84.0 165.2h0M81.3 166.8h0M43.9 197.5h0M51.2 189.1h0M162.7 100.2h0M161.7 100.6h0M158.0 103.6h0M120.4 133.5h0M93.5 157.0h0M195.0 73.3h0M222.3 51.6h0M52.0 190.3h0M55.0 185.3h0M178.9 85.9h0M199.5 69.7h0M98.3 152.8h0M143.5 115.1h0M185.5 80.4h0M114.4 137.8h0M134.4 125.2h0M173.0 91.2h0M47.2 194.1h0M48.0 192.2h0M176.2 90.3h0M206.3 64.4h0M215.6 56.2h0M112.8 136.5h0M112.7 141.3h0M54.3 190.2h0M147.9 109.1h0M89.6 160.7h0M139.6 119.4h0M49.5 193.9h0M44.7 198.8h0M220.6 53.1h0M92.9 158.6h0M74.0 171.5h0M45.8 197.3h0M106.4 147.1h0M133.7 124.4h0M124.7 130.1h0M92.9 156.0h0M185.8 80.1h0M75.6 171.2h0M154.5 108.5h0M54.6 190.3h0M220.7 53.3h0M79.1 167.8h0M143.4 116.4h0M61.0 181.4h0M40.7 199.7h0M216.0 56.8h0M50.0 189.4h0M95.9 155.4h0M51.5 192.7h0M64.1 181.2h0M152.0 109.5h0M53.0 188.2h0M113.5 140.8h0M112.8 140.3h0M72.4 172.2h0M125.7 129.0h0M74.4 172.6h0M100.7 148.7h0M174.4 91.6h0M173.0 92.0h0M113.6 139.3h0M182.7 83.4h0M101.3 149.3h0M75.3 170.0h0M201.0 69.4h0M161.6 100.5h0M194.6 74.1h0M141.6 118.6h0M121.0 135.2h0M158.0 104.4h0M88.5 159.3h0M39.9 200.9h0M111.3 141.0h0M208.7 63.1h0M112.0 139.6h0M145.3 114.0h0M112.1 140.0h0M205.9 64.6h0M130.9 125.9h0M130.4 126.6h0M87.0 162.3h0M185.4 81.1h0M36.0 204.6h0M143.2 117.5h0M112.4 140.9h0M207.2 64.1h0M173.0 91.9h0M36.8 203.9h0M110.3 144.7h0M62.6 184.4h0M36.8 201.9h0M164.6 98.9h0M191.6 76.2h0M214.0 58.3h0M69.7 175.3h0M91.6 156.6h0M179.9 86.0h0M215.9 56.6h0M211.8 60.0h0M185.4 82.1h0M63.0 181.0h0M166.3 98.6h0M110.6 141.9h0M137.8 120.1h0M137.0 122.1h0M201.8 68.0h0M179.1 86.1h0M93.3 155.9h0M163.8 99.1h0M40.2 201.7h0M134.0 124.5h0M119.2 134.8h0M164.8 97.8h0M165.4 98.1h0M174.9 90.0h0M42.0 196.4h0M204.6 66.5h0M149.3 111.7h0M143.2 115.8h0M37.5 202.5h0M182.8 83.7h0M127.0 128.1h0M77.4 168.1h0M59.6 185.9h0M85.8 162.8h0M159.8 102.9h0M60.2 182.3h0M121.0 134.2h0M51.7 190.8h0M80.8 167.6h0M118.5 136.7h0M147.1 111.9h0M135.5 121.3h0M171.7 91.5h0M192.0 76.3h0M57.9 186.1h0M175.0 90.0h0M109.8 142.6h0M156.9 105.1h0M50.3 193.8h0M125.0 130.7h0M176.3 89.1h0M116.7 137.7h0M80.6 168.5h0M201.6 68.2h0M79.8 165.9h0M175.3 89.2h0M216.1 56.7h0M133.5 123.0h0M161.5 100.7h0M73.3 172.2h0M187.5 79.5h0M111.6 141.5h0M69.2 175.0h0M123.6 133.2h0M84.9 164.1h0M119.7 133.6h0M47.1 196.1h0M36.5 204.1h0M88.8 160.4h0M211.1 60.3h0M39.2 202.4h0M58.1 186.2h0M63.0 180.5h0M157.4 103.4h0M64.6 181.7h0M181.3 85.8h0M129.4 125.9h0M107.5 145.3h0M130.9 126.2h0M220.5 53.7h0M104.0 149.2h0M153.9 107.1h0M103.8 150.6h0M114.2 139.1h0M37.9 202.8h0M54.2 188.7h0M211.6 59.9h0M46.1 193.5h0M115.1 138.2h0M105.7 146.0h0M36.7 203.6h0M47.2 194.3h0M129.0 127.5h0M143.8 117.1h0M126.3 131.0h0M79.5 167.1h0M40.9 201.3h0M155.3 105.8h0M106.1 146.8h0M57.3 185.8h0M101.4 149.6h0M205.0 65.8h0M161.1 100.3h0M112.9 141.0h0M63.4 180.7h0M137.9 119.3h0M112.4 140.0h0M137.2 120.1h0M191.0 77.4h0M175.1 90.4h0M185.4 82.2h0M131.3 127.1h0M38.5 201.3h0M180.9 84.5h0M39.4 201.3h0M146.0 112.9h0M141.1 118.2h0M136.7 120.0h0M49.2 193.9h0M51.8 190.4h0M115.9 139.9h0M34.7 204.2h0M142.2 117.0h0M68.7 177.2h0M71.0 174.6h0M153.7 108.1h0M171.7 92.4h0M112.8 138.8h0M63.2 182.8h0M42.8 200.2h0M38.6 203.8h0M66.6 180.4h0M62.3 181.2h0M164.3 98.3h0M35.2 204.2h0M157.0 105.4h0M80.9 167.0h0M35.7 202.8h0M105.6 148.3h0M173.0 91.5h0M42.2 200.3h0M203.1 67.1h0M103.0 147.8h0M208.9 62.6h0M102.7 150.4h0M132.3 123.5h0M213.6 61.1h0M108.6 142.8h0M119.7 136.8h0M157.0 104.5h0M80.8 168.2h0M42.6 198.9h0M48.7 193.3h0M175.1 90.5h0M61.0 185.6h0M118.2 135.6h0M128.2 129.2h0M46.5 195.0h0M59.5 184.7h0M129.3 127.8h0M218.5 55.1h0M64.7 178.1h0M192.8 76.0h0M72.3 175.7h0M211.9 60.4h0M137.0 120.6h0M48.9 191.4h0M60.8 183.9h0M144.2 115.0h0M41.6 200.6h0M214.7 57.7h0M114.5 138.5h0M186.2 81.0h0M42.2 201.5h0M54.0 190.5h0M53.6 191.4h0M41.0 199.7h0M35.5 204.4h0M67.8 178.0h0M56.5 185.5h0M55.9 186.1h0M38.4 201.1h0M35.7 204.4h0M113.8 140.4h0M203.2 66.7h0M202.8 67.9h0M180.0 86.8h0M172.2 92.5h0M146.5 113.0h0M52.4 191.5h0M158.6 103.4h0M175.6 88.8h0M63.5 180.4h0M72.1 175.0h0M204.0 67.0h0M75.5 171.6h0M38.5 204.0h0M46.1 193.8h0M105.4 145.3h0M66.8 178.2h0M37.8 200.9h0M45.7 197.8h0M75.1 171.4h0M95.7 156.6h0M35.1 203.9h0M217.9 55.5h0M194.2 73.3h0M122.4 131.6h0M163.7 99.9h0M60.1 183.5h0M162.5 100.7h0M202.4 67.0h0M60.8 185.1h0M202.5 68.3h0M191.6 76.5h0M53.2 189.8h0M39.3 201.5h0M66.5 179.2h0M36.0 202.9h0M213.6 58.7h0M49.6 193.4h0M42.2 200.4h0M154.2 106.0h0M98.5 151.5h0M41.0 199.5h0M141.2 118.8h0M218.2 55.0h0M166.4 97.8h0M142.6 115.9h0M39.0 202.3h0M96.8 153.1h0M207.4 62.9h0M91.6 158.9h0M117.9 135.6h0M192.4 75.2h0M84.5 163.4h0M186.9 79.9h0M60.6 183.5h0M38.8 203.2h0M53.2 191.1h0M207.6 63.2h0M147.3 113.1h0M92.5 157.3h0M219.1 54.1h0M189.5 77.7h0M69.0 177.3h0M98.9 152.3h0M130.2 125.8h0M157.0 104.8h0M54.7 187.4h0M44.7 197.2h0M42.3 197.3h0M109.2 143.9h0M116.6 138.0h0M88.7 161.0h0M92.6 158.3h0M196.8 72.0h0M69.0 176.7h0M51.6 192.1h0M87.2 161.9h0M49.3 194.0h0M141.5 117.4h0M218.9 54.0h0M108.8 144.3h0M137.2 121.0h0M168.2 95.5h0M41.0 202.4h0M72.6 173.5h0M206.6 64.6h0M123.9 132.8h0M45.3 196.7h0M196.3 73.0h0M71.9 172.9h0M160.5 100.7h0M170.6 93.2h0M216.7 56.1h0M60.0 183.9h0M36.4 201.3h0M129.3 127.4h0M64.5 180.2h0M67.7 178.2h0M223.1 50.7h0M190.2 77.2h0M71.2 174.4h0M77.1 170.2h0M44.8 195.9h0M141.5 117.4h0M42.0 199.3h0M209.3 62.3h0M106.7 144.2h0M124.0 132.1h0M109.2 143.6h0M105.2 147.2h0M116.6 138.2h0M156.3 105.3h0M57.4 187.3h0M151.8 108.1h0M102.9 150.3h0M93.9 154.9h0M57.6 188.4h0M114.0 140.2h0M140.6 118.0h0M84.7 163.6h0M53.5 189.2h0M90.8 157.1h0M56.4 189.1h0M45.3 197.7h0M61.7 183.2h0M131.7 124.4h0M217.8 55.4h0M110.3 142.2h0M163.8 99.2h0M68.5 176.3h0M69.0 176.9h0M210.4 61.1h0M104.7 146.1h0M120.1 133.0h0M61.3 184.9h0M63.3 181.2h0M145.3 114.2h0M89.9 158.7h0M146.5 113.5h0M166.6 99.9h0M125.3 130.8h0M190.4 78.7h0M51.9 189.9h0M87.9 161.7h0M139.0 119.6h0M218.3 55.1h0M62.9 182.6h0M114.4 138.4h0M156.8 103.9h0M35.2 203.4h0M38.6 201.7h0M206.3 64.3h0M36.6 202.2h0M163.7 99.1h0M39.3 202.4h0M146.9 113.1h0M48.2 193.1h0M48.4 194.6h0M174.6 90.5h0M74.8 170.7h0M35.5 203.9h0M38.1 200.4h0M79.3 168.2h0M132.9 123.5h0M130.3 126.1h0M67.2 177.6h0M113.8 139.5h0M207.8 62.7h0M172.1 93.7h0M213.2 59.6h0M35.4 204.5h0M72.6 174.0h0M159.7 102.8h0M171.1 93.1h0M43.3 201.4h0M67.9 178.6h0M200.7 69.1h0M48.4 192.3h0M79.2 166.9h0M176.4 89.8h0M113.4 140.1h0M104.0 149.5h0M41.4 203.1h0M212.4 59.5h0M43.6 198.8h0M203.7 66.3h0M83.4 167.3h0M172.4 92.2h0M118.2 136.5h0M51.1 192.8h0M218.2 55.4h0M193.9 75.6h0M96.0 154.3h0M73.1 171.3h0M62.3 182.4h0M105.9 146.3h0M79.0 169.9h0M203.6 66.2h0M50.3 194.4h0M71.2 177.1h0M155.4 105.6h0M190.2 77.5h0M51.4 189.3h0M37.5 202.5h0M218.6 54.8h0M42.0 193.7h0M69.1 176.6h0M52.5 191.4h0M95.0 154.7h0M67.6 178.0h0M35.4 202.8h0M159.4 102.4h0M172.5 93.3h0M146.5 114.7h0M59.4 183.2h0M158.1 103.5h0M181.0 84.5h0M179.5 86.2h0M106.5 146.5h0M137.0 119.4h0M195.4 73.5h0M40.5 202.2h0M145.5 114.9h0M213.1 59.7h0M175.5 89.5h0M170.9 93.3h0M47.7 196.7h0M103.3 148.2h0M60.2 184.2h0M198.8 70.6h0M72.4 174.9h0M58.4 186.0h0M102.3 150.4h0M63.6 180.8h0M38.1 203.7h0M51.4 190.4h0M56.6 187.4h0M104.5 148.3h0M161.4 100.3h0M90.7 157.8h0M62.6 183.5h0M156.6 106.5h0M178.4 87.4h0M100.2 151.6h0M93.1 156.3h0M65.2 177.9h0M118.9 136.7h0M48.4 195.2h0M41.4 201.7h0M170.3 92.7h0M113.8 140.8h0" fill="none" stroke="#1d71ca" stroke-width="1.3" stroke-linecap="round"/>
</g>
<text x="415.0" y="11.6" font-size="9.1" text-anchor="middle" textLength="203.3" lengthAdjust="spacingAndGlyphs">Upscaled: Permeability I-direction vs K-direction</text>
<text x="316.0" y="216.90" font-size="6.4" text-anchor="middle" textLength="3.1" lengthAdjust="spacingAndGlyphs">0</text>
<text x="348.0" y="216.90" font-size="6.4" text-anchor="middle" textLength="9.4" lengthAdjust="spacingAndGlyphs">200</text>
<text x="380.0" y="216.90" font-size="6.4" text-anchor="middle" textLength="9.4" lengthAdjust="spacingAndGlyphs">400</text>
<text x="412.0" y="216.90" font-size="6.4" text-anchor="middle" textLength="9.4" lengthAdjust="spacingAndGlyphs">600</text>
<text x="444.0" y="216.90" font-size="6.4" text-anchor="middle" textLength="9.4" lengthAdjust="spacingAndGlyphs">800</text>
<text x="476.0" y="216.90" font-size="6.4" text-anchor="middle" textLength="14.1" lengthAdjust="spacingAndGlyphs">1 000</text>
<text x="508.0" y="216.90" font-size="6.4" text-anchor="middle" textLength="14.1" lengthAdjust="spacingAndGlyphs">1 200</text>
<text x="540.0" y="216.90" font-size="6.4" text-anchor="middle" textLength="14.1" lengthAdjust="spacingAndGlyphs">1 400</text>
<text x="308.4" y="208.50" font-size="6.4" text-anchor="middle" textLength="3.1" lengthAdjust="spacingAndGlyphs">0</text>
<text x="305.3" y="190.33" font-size="6.4" text-anchor="middle" textLength="9.4" lengthAdjust="spacingAndGlyphs">200</text>
<text x="305.3" y="172.16" font-size="6.4" text-anchor="middle" textLength="9.4" lengthAdjust="spacingAndGlyphs">400</text>
<text x="305.3" y="153.99" font-size="6.4" text-anchor="middle" textLength="9.4" lengthAdjust="spacingAndGlyphs">600</text>
<text x="305.3" y="135.82" font-size="6.4" text-anchor="middle" textLength="9.4" lengthAdjust="spacingAndGlyphs">800</text>
<text x="302.9" y="117.65" font-size="6.4" text-anchor="middle" textLength="14.1" lengthAdjust="spacingAndGlyphs">1 000</text>
<text x="302.9" y="99.48" font-size="6.4" text-anchor="middle" textLength="14.1" lengthAdjust="spacingAndGlyphs">1 200</text>
<text x="302.9" y="81.31" font-size="6.4" text-anchor="middle" textLength="14.1" lengthAdjust="spacingAndGlyphs">1 400</text>
<text x="302.9" y="63.14" font-size="6.4" text-anchor="middle" textLength="14.1" lengthAdjust="spacingAndGlyphs">1 600</text>
<text x="302.9" y="44.97" font-size="6.4" text-anchor="middle" textLength="14.1" lengthAdjust="spacingAndGlyphs">1 800</text>
<text x="302.9" y="26.80" font-size="6.4" text-anchor="middle" textLength="14.1" lengthAdjust="spacingAndGlyphs">2 000</text>
<text x="427.8" y="226.8" font-size="6.8" text-anchor="middle" textLength="85.8" lengthAdjust="spacingAndGlyphs">Permeability I-direction, mD</text>
<text transform="translate(291.6 114.4) rotate(-90)" font-size="6.7" text-anchor="middle" textLength="86.3" lengthAdjust="spacingAndGlyphs">Permeability K-direction, mD</text>
<text class="cap" x="456.0" y="245.0" font-size="12.2" text-anchor="middle">(b)</text>
<rect x="316.0" y="23.9" width="224.0" height="181.7" fill="none" stroke="#000" stroke-width="1.55"/>
<path d="M316.0 23.9V205.6H540.0" fill="none" stroke="#111" stroke-width="1.7"/>
<g clip-path="url(#cb)">
<path d="M319.7 201.8h0M331.1 200.8h0M328.2 204.4h0M329.4 199.0h0M321.3 204.9h0M330.9 197.1h0M326.6 196.9h0M324.8 197.4h0M321.0 204.2h0M320.6 202.8h0M330.5 205.2h0M331.7 194.8h0M324.9 202.9h0M328.9 197.1h0M328.6 194.8h0M326.0 203.5h0M325.8 199.0h0M326.8 203.5h0M323.8 199.4h0M329.2 200.8h0M324.9 203.5h0M326.1 197.5h0M320.8 204.9h0M331.7 196.4h0M318.4 204.1h0M328.9 194.5h0M328.2 198.6h0M323.7 203.1h0M331.8 196.4h0M317.2 204.6h0M322.5 200.1h0M323.6 201.9h0M328.0 196.0h0M327.3 204.8h0M328.8 200.3h0M330.5 192.8h0M316.7 205.4h0M326.9 197.4h0M324.6 203.4h0M328.5 203.8h0M326.4 202.2h0M323.8 202.1h0M316.2 205.4h0M323.2 204.0h0M325.3 203.0h0M323.6 202.7h0M324.3 205.3h0M328.1 204.2h0M323.6 199.8h0M330.4 201.0h0M324.0 203.9h0M325.1 201.0h0M325.1 204.4h0M331.0 203.3h0M327.5 199.6h0M331.6 195.5h0M331.5 203.8h0M321.0 202.3h0M330.9 195.1h0M317.4 204.5h0M330.5 203.9h0M327.8 195.0h0M328.5 197.9h0M324.5 204.5h0M324.4 204.6h0M320.2 205.5h0M319.9 202.4h0M327.7 203.7h0M323.7 199.1h0M317.0 204.4h0M320.5 201.3h0M320.5 201.7h0M321.0 204.1h0M325.4 201.1h0M331.1 196.0h0M327.2 201.1h0M329.1 199.4h0M319.1 205.2h0M328.6 199.2h0M330.6 199.2h0M331.9 192.9h0M328.8 200.7h0M327.5 204.3h0M331.6 199.6h0M319.6 205.4h0M329.8 201.4h0M328.9 204.4h0M329.0 203.1h0M323.9 199.0h0M318.4 202.8h0M319.9 203.2h0M328.4 203.5h0M323.2 198.9h0M331.5 195.4h0M319.5 205.3h0M330.0 203.5h0M325.8 196.6h0M322.9 200.8h0M322.2 200.6h0M323.9 201.1h0M324.1 203.3h0M321.6 205.1h0M321.5 203.1h0M331.7 198.0h0M324.9 201.4h0M327.7 199.3h0M328.7 197.7h0M323.5 200.5h0M331.3 195.0h0M322.9 199.3h0M321.0 202.2h0M317.4 204.5h0M322.3 199.6h0M317.9 204.7h0M327.8 204.8h0M327.1 203.7h0M316.8 205.0h0M331.5 201.5h0M329.0 195.0h0M326.8 197.2h0M331.4 193.6h0M326.5 195.9h0M320.7 201.2h0M329.6 193.1h0M331.5 191.5h0M317.9 205.2h0M326.1 199.2h0M321.7 203.6h0M331.0 193.1h0M318.8 205.0h0M329.9 205.2h0M321.3 201.7h0M327.9 194.9h0M328.6 204.2h0M329.4 196.0h0M317.7 203.5h0M325.8 203.6h0M319.5 202.6h0M319.6 204.4h0M320.3 202.9h0M320.0 202.8h0M331.3 202.7h0M326.9 196.7h0M322.2 200.0h0M325.9 201.5h0M317.7 203.4h0M321.5 201.7h0M327.8 202.0h0M328.6 198.8h0M327.6 200.2h0M331.8 201.4h0M331.8 194.3h0M330.2 198.0h0M325.6 200.4h0M329.3 195.2h0M322.1 205.2h0M330.6 194.4h0M322.0 204.8h0M331.9 204.8h0M316.5 205.3h0M329.8 196.8h0M326.1 204.6h0M330.0 203.3h0M326.4 205.2h0M330.2 196.5h0M328.8 204.3h0M327.9 202.9h0M331.5 203.6h0M319.4 203.0h0M331.2 205.5h0M326.4 203.6h0M328.8 194.2h0M328.3 196.0h0M324.5 203.7h0M326.4 204.7h0M331.7 201.0h0M325.9 198.7h0M331.1 194.8h0M316.3 204.8h0M327.1 202.2h0M328.5 196.5h0M324.5 198.3h0M318.5 203.0h0M329.7 200.9h0M329.3 195.3h0M324.3 204.2h0M318.9 203.6h0M330.3 202.2h0M329.6 197.1h0M330.2 196.0h0M330.1 195.6h0M322.3 203.6h0M327.7 198.0h0M325.6 198.0h0M324.5 204.1h0M324.8 200.4h0M328.3 204.0h0M332.0 193.9h0M325.7 199.6h0M324.1 202.7h0M327.8 202.6h0M327.8 203.8h0M324.7 202.8h0M328.0 203.5h0M328.1 198.6h0M329.2 199.4h0M320.5 203.0h0M328.1 203.4h0M324.9 198.2h0M330.7 203.2h0M327.7 202.1h0M330.0 198.8h0M330.0 196.2h0M321.4 205.6h0M318.4 205.2h0M329.4 197.5h0M317.8 204.1h0M331.5 197.4h0M328.5 197.3h0M325.0 200.9h0M328.3 196.7h0M319.7 203.4h0M327.9 198.4h0M331.2 204.9h0M331.4 195.7h0M323.2 200.5h0M324.6 198.0h0M331.4 201.3h0M329.8 198.3h0M324.4 200.9h0M331.8 191.9h0M317.1 204.5h0M328.2 196.6h0M326.2 202.6h0M330.8 205.1h0M316.6 205.3h0M323.4 205.4h0M325.8 198.5h0M318.2 205.0h0M328.0 203.6h0M330.4 205.0h0M331.0 199.9h0M320.0 204.1h0M326.2 202.3h0M331.8 203.1h0M318.2 204.7h0M328.7 196.0h0M322.7 202.0h0M331.0 196.2h0M327.5 196.8h0M330.9 203.3h0M317.6 203.9h0M327.5 195.6h0M324.9 199.4h0M319.1 205.1h0M324.7 204.3h0M329.2 204.6h0M327.2 199.4h0M327.3 204.6h0M322.6 199.8h0M326.2 201.8h0M325.3 199.3h0M331.1 197.2h0M330.7 198.3h0M325.2 202.3h0M326.1 198.3h0M322.9 205.2h0M327.0 196.9h0M319.7 202.1h0M331.6 192.9h0M324.8 205.4h0M316.3 205.5h0M322.9 199.2h0M331.5 204.2h0M323.2 201.7h0M324.4 201.8h0M331.7 200.8h0M329.7 197.9h0M324.0 199.0h0M320.4 205.3h0M324.5 198.7h0M324.2 203.2h0M330.9 204.3h0M326.6 200.9h0M331.2 200.3h0M331.9 191.3h0M330.6 203.0h0M324.7 198.1h0M324.5 201.9h0M326.7 198.1h0M328.4 200.5h0M330.4 201.0h0M330.0 199.1h0M323.2 199.5h0M329.1 195.7h0M324.2 202.6h0M329.6 194.6h0M316.5 205.2h0M330.4 201.1h0M328.6 197.9h0M320.0 201.9h0M322.1 199.9h0M323.2 202.5h0M326.3 198.4h0M331.0 197.0h0M331.7 192.7h0M327.5 200.0h0M319.2 203.1h0M331.8 202.2h0M331.6 193.2h0M318.6 203.1h0M328.2 200.3h0M328.3 205.1h0M328.2 196.6h0M329.0 196.1h0M316.2 204.8h0M323.1 203.7h0M323.6 202.8h0M328.0 195.9h0M318.8 202.6h0M322.6 199.5h0M320.6 202.0h0M317.5 204.3h0M325.7 196.7h0M321.2 203.8h0M325.8 198.1h0M321.3 204.0h0M329.7 195.5h0M319.2 202.4h0M329.5 201.0h0M328.1 195.6h0M320.3 204.1h0M324.3 198.9h0M324.3 202.1h0M325.4 198.8h0M328.4 202.5h0M316.5 204.8h0M320.4 202.7h0M328.6 198.7h0M318.8 205.0h0M330.3 201.8h0M324.1 197.9h0M317.2 204.3h0M329.5 194.4h0M322.0 204.8h0M332.0 197.0h0M331.2 201.8h0M330.8 196.2h0M330.8 194.1h0M318.3 203.1h0M316.9 204.2h0M324.6 203.8h0M324.9 205.0h0M324.7 197.8h0M327.4 195.7h0M329.7 199.3h0M329.7 204.9h0M331.3 200.8h0M328.4 199.7h0M330.7 198.0h0M318.7 204.4h0M316.9 204.6h0M325.4 199.6h0M330.8 194.1h0M324.4 201.3h0M319.2 203.7h0M319.6 203.1h0M321.7 204.8h0M330.6 199.6h0M323.6 202.7h0M330.5 201.7h0M331.4 201.7h0M329.5 199.9h0M331.2 198.4h0M322.2 201.5h0M321.0 204.7h0M321.9 201.5h0M316.6 204.8h0M331.3 202.9h0M321.3 204.4h0M327.8 198.2h0M322.7 200.7h0M326.6 198.5h0M325.1 205.5h0M328.9 201.8h0M321.2 204.9h0M322.8 200.4h0M319.8 205.4h0M323.4 202.1h0M330.2 195.4h0M331.6 199.6h0M316.5 205.1h0M330.3 194.0h0M329.1 201.8h0M318.4 204.2h0M320.3 203.8h0M330.6 194.9h0M321.0 203.8h0M331.0 195.8h0M326.6 198.1h0M331.8 203.6h0M326.1 204.4h0M319.7 203.3h0M327.5 199.2h0M325.3 203.4h0M318.2 205.3h0M330.0 204.1h0M330.9 204.2h0M331.6 194.9h0M328.0 197.1h0M327.2 201.4h0M321.0 200.9h0M331.6 192.4h0M329.1 197.3h0M328.3 197.3h0M328.6 200.9h0M330.3 193.6h0M323.7 203.9h0M334.4 191.9h0M347.9 205.2h0M332.7 195.2h0M337.4 202.6h0M341.0 190.4h0M332.9 195.3h0M338.0 204.4h0M346.3 195.1h0M343.0 188.1h0M342.4 204.4h0M332.4 193.7h0M340.0 198.3h0M334.6 194.5h0M339.3 185.2h0M339.4 193.9h0M339.9 194.7h0M338.1 187.8h0M345.2 180.3h0M340.6 194.9h0M346.8 181.9h0M338.6 195.0h0M335.0 196.2h0M338.8 188.1h0M346.4 203.6h0M338.9 201.1h0M345.7 183.4h0M344.0 198.6h0M337.1 190.0h0M335.9 188.3h0M334.4 193.0h0M340.3 204.3h0M344.0 188.5h0M337.8 202.5h0M347.4 199.5h0M332.3 198.0h0M345.2 182.1h0M335.5 192.8h0M348.0 184.9h0M334.1 189.8h0M347.0 189.0h0M339.6 202.7h0M337.6 193.7h0M332.9 201.6h0M336.4 203.5h0M339.3 186.8h0M347.2 178.6h0M347.6 198.9h0M333.7 202.6h0M342.1 193.7h0M332.7 197.5h0M334.2 199.5h0M342.9 188.7h0M341.5 199.0h0M346.7 178.8h0M346.8 182.1h0M335.3 194.2h0M343.1 205.0h0M345.5 185.1h0M345.0 195.9h0M342.1 189.1h0M341.3 192.9h0M342.2 200.6h0M339.8 186.0h0M342.1 182.9h0M346.6 187.4h0M338.7 191.1h0M340.2 192.8h0M340.2 198.9h0M346.3 188.9h0M336.9 203.8h0M340.2 193.7h0M344.8 202.2h0M339.4 188.5h0M346.2 186.0h0M341.7 185.9h0M334.1 196.1h0M339.0 197.9h0M335.0 202.7h0M340.2 186.6h0M339.0 199.5h0M338.5 200.2h0M345.8 182.6h0M346.7 199.7h0M344.8 185.5h0M345.0 201.5h0M346.6 180.6h0M347.0 184.6h0M335.6 202.8h0M346.7 203.0h0M335.3 190.0h0M337.4 193.8h0M345.3 204.2h0M335.0 202.6h0M347.6 195.0h0M347.1 197.9h0M332.0 191.7h0M343.1 201.8h0M347.1 204.5h0M341.7 186.6h0M341.7 186.5h0M342.4 205.1h0M341.9 191.3h0M342.4 184.3h0M343.8 185.7h0M347.5 201.9h0M333.8 195.3h0M336.7 196.8h0M332.1 194.7h0M333.4 202.5h0M336.1 194.3h0M346.8 199.5h0M338.1 201.3h0M342.6 198.4h0M338.1 197.0h0M347.8 187.7h0M335.9 199.8h0M339.5 194.3h0M339.0 201.6h0M336.3 204.7h0M333.6 202.7h0M339.4 188.6h0M336.1 197.1h0M332.5 202.2h0M346.5 190.3h0M338.6 199.7h0M332.3 203.2h0M342.9 198.6h0M340.8 191.8h0M343.9 202.5h0M338.9 188.0h0M334.9 198.9h0M343.2 188.7h0M339.5 187.6h0M346.4 185.8h0M338.3 195.3h0M336.5 200.5h0M335.8 189.8h0M337.1 200.9h0M336.8 201.8h0M341.5 200.3h0M339.1 191.0h0M347.6 188.3h0M336.1 203.0h0M347.2 200.7h0M338.5 200.6h0M340.9 195.0h0M347.5 190.2h0M345.2 185.1h0M347.3 178.0h0M341.7 185.5h0M338.2 194.5h0M343.7 199.2h0M343.8 201.5h0M332.9 204.0h0M334.3 199.4h0M347.3 190.9h0M344.3 181.3h0M345.7 198.6h0M335.8 198.7h0M347.7 199.7h0M337.9 198.5h0M334.9 191.0h0M338.9 203.7h0M338.7 185.3h0M333.3 204.5h0M346.0 201.0h0M346.3 191.2h0M336.0 195.1h0M341.9 204.9h0M346.4 202.8h0M339.2 195.2h0M341.3 197.4h0M336.9 196.2h0M340.6 197.7h0M338.1 200.2h0M345.7 199.9h0M335.3 200.9h0M332.7 192.0h0M346.7 183.1h0M335.5 188.8h0M341.9 183.2h0M344.2 196.9h0M338.3 190.2h0M347.1 201.3h0M338.5 203.2h0M336.0 188.7h0M333.4 202.5h0M346.7 188.7h0M336.4 205.3h0M346.7 200.7h0M340.4 190.8h0M347.2 193.0h0M333.9 203.3h0M346.2 183.1h0M347.7 203.1h0M344.2 204.5h0M334.8 197.2h0M348.0 177.2h0M345.4 199.7h0M336.3 200.2h0M347.6 193.1h0M333.8 203.9h0M334.7 188.6h0M332.3 202.8h0M342.5 190.9h0M339.6 194.4h0M333.8 202.4h0M341.0 202.0h0M346.5 189.2h0M334.0 200.1h0M343.2 187.0h0M335.5 196.4h0M341.3 188.1h0M338.6 198.4h0M337.4 200.6h0M332.3 204.9h0M342.3 198.2h0M340.2 191.7h0M343.9 195.7h0M335.8 200.1h0M347.8 194.1h0M332.4 193.8h0M336.0 203.1h0M343.2 204.3h0M334.8 189.9h0M337.2 195.6h0M341.1 204.6h0M344.8 184.0h0M346.3 191.5h0M338.2 186.6h0M343.5 185.4h0M332.5 195.4h0M346.6 182.8h0M343.7 198.9h0M346.8 186.5h0M336.3 199.5h0M341.1 191.2h0M344.7 186.9h0M332.6 192.9h0M346.0 202.7h0M344.2 188.2h0M345.3 204.2h0M335.4 205.1h0M345.1 179.9h0M342.1 185.4h0M335.1 200.8h0M334.8 200.6h0M346.2 179.0h0M339.5 190.3h0M337.4 199.8h0M339.0 198.2h0M343.8 191.7h0M334.9 192.8h0M335.3 191.4h0M343.3 186.4h0M346.7 182.9h0M343.7 181.4h0M347.3 201.3h0M337.6 202.8h0M338.8 186.6h0M339.1 196.8h0M338.9 205.0h0M337.3 200.4h0M345.3 196.8h0M337.6 199.7h0M339.8 190.1h0M340.7 192.8h0M348.0 199.5h0M338.4 203.9h0M343.9 183.3h0M338.3 197.8h0M345.4 186.3h0M339.3 187.5h0M332.5 200.8h0M341.5 198.9h0M338.5 196.5h0M337.2 194.5h0M337.7 202.2h0M332.0 205.2h0M344.5 182.0h0M341.8 186.5h0M343.1 183.8h0M342.2 191.1h0M339.2 189.4h0M340.5 183.9h0M340.8 184.2h0M347.0 196.9h0M338.7 186.8h0M335.2 201.4h0M333.8 202.3h0M338.5 189.2h0M342.2 195.3h0M342.4 192.7h0M344.4 203.6h0M343.5 181.8h0M333.8 192.1h0M339.4 192.1h0M339.1 185.7h0M334.4 200.7h0M342.5 190.0h0M345.1 195.6h0M332.9 204.9h0M341.6 186.6h0M334.5 198.3h0M345.1 191.9h0M342.0 189.3h0M333.4 204.3h0M341.4 198.9h0M336.8 190.1h0M336.2 203.9h0M343.6 198.5h0M339.6 193.9h0M347.1 197.5h0M346.9 182.5h0M346.1 196.4h0M339.7 184.3h0M346.8 179.3h0M333.6 194.5h0M345.1 197.2h0M338.9 196.7h0M346.3 200.7h0M332.7 201.1h0M342.3 186.5h0M333.5 190.0h0M337.8 188.5h0M342.1 200.8h0M334.9 191.3h0M344.0 184.3h0M341.3 204.0h0M336.5 200.9h0M341.7 189.2h0M340.3 196.6h0M332.7 193.7h0M344.2 187.7h0M344.3 203.9h0M346.9 192.0h0M347.3 196.9h0M339.1 186.0h0M343.2 182.5h0M342.7 187.1h0M333.1 193.9h0M344.4 195.6h0M337.4 190.2h0M339.9 186.1h0M342.9 183.6h0M341.2 204.2h0M337.5 190.2h0M346.4 191.0h0M334.0 200.2h0M342.7 193.6h0M335.8 191.9h0M347.1 188.8h0M347.2 196.0h0M344.2 183.5h0M346.5 186.0h0M345.0 196.4h0M343.4 187.5h0M344.7 181.8h0M346.9 201.1h0M336.4 196.0h0M344.5 199.4h0M335.7 194.1h0M340.5 184.9h0M338.5 193.4h0M343.1 185.2h0M343.2 200.2h0M346.8 198.6h0M345.9 188.3h0M333.4 195.7h0M335.6 203.5h0M333.0 194.1h0M344.2 191.8h0M338.7 187.1h0M347.7 200.5h0M336.3 188.0h0M347.5 184.0h0M344.8 198.3h0M344.9 203.9h0M342.7 201.3h0M346.5 181.4h0M336.7 197.0h0M346.3 194.0h0M346.5 189.8h0M342.7 201.1h0M343.5 192.4h0M336.6 201.6h0M341.0 195.3h0M342.4 193.2h0M338.1 198.3h0M332.9 194.0h0M347.4 188.8h0M345.5 202.6h0M339.0 185.5h0M341.6 184.4h0M342.5 200.0h0M347.5 204.3h0M342.0 195.4h0M344.4 183.9h0M345.5 199.4h0M334.1 192.9h0M342.4 196.2h0M347.1 186.5h0M345.7 180.5h0M347.0 196.8h0M335.4 195.7h0M345.1 198.5h0M337.5 188.6h0M346.4 190.9h0M345.2 193.9h0M339.1 200.2h0M342.3 198.4h0M340.6 197.0h0M347.3 202.4h0M341.9 204.4h0M333.7 200.8h0M341.7 187.1h0M332.4 205.1h0M334.8 204.9h0M341.0 202.3h0M340.5 187.6h0M333.5 200.0h0M338.6 202.9h0M337.6 189.5h0M337.6 190.0h0M340.2 202.4h0M332.8 201.5h0M332.7 205.4h0M336.7 194.7h0M344.3 187.1h0M347.2 199.4h0M344.8 199.9h0M333.7 202.1h0M345.8 183.2h0M345.7 188.4h0M346.0 202.7h0M344.4 196.0h0M337.2 187.0h0M341.0 199.5h0M340.2 192.7h0M332.8 195.1h0M341.7 196.3h0M337.2 201.8h0M347.4 183.3h0M343.6 195.0h0M345.6 182.8h0M332.7 200.6h0M344.2 202.4h0M345.5 182.5h0M340.5 194.1h0M337.0 197.8h0M340.9 188.4h0M341.9 194.3h0M340.1 201.4h0M338.2 190.0h0M343.6 197.6h0M346.6 193.1h0M337.3 192.2h0M346.5 199.1h0M333.2 190.1h0M343.9 197.9h0M338.6 187.3h0M341.5 203.5h0M338.8 199.3h0M333.7 201.1h0M335.4 194.9h0M347.8 203.1h0M339.8 185.5h0M347.4 205.1h0M341.4 194.5h0M346.7 200.3h0M340.3 186.5h0M347.9 194.4h0M340.8 190.8h0M337.1 202.3h0M335.6 188.4h0M333.6 205.3h0M334.3 203.1h0M343.8 186.5h0M338.9 190.0h0M346.4 192.3h0M336.0 192.8h0M347.2 186.5h0M335.9 204.1h0M337.3 201.9h0M338.5 189.2h0M337.2 200.0h0M339.8 204.3h0M345.5 181.1h0M333.5 197.2h0M336.9 198.3h0M333.2 193.9h0M345.1 196.1h0M334.5 195.6h0M341.3 203.4h0M346.3 199.6h0M338.1 195.1h0M334.4 198.3h0M337.3 203.7h0M347.2 181.1h0M334.0 194.7h0M346.3 200.5h0M334.5 204.7h0M335.4 190.0h0M345.0 195.8h0M343.2 201.3h0M338.2 194.1h0M344.1 195.2h0M335.1 190.4h0M346.5 184.4h0M342.3 200.7h0M347.3 198.0h0M342.6 195.3h0M342.2 190.4h0M346.2 198.3h0M342.4 188.3h0M333.9 191.1h0M342.8 191.5h0M337.8 189.2h0M343.2 204.6h0M348.0 192.0h0M342.8 183.8h0M345.9 186.7h0M338.8 188.2h0M332.3 197.1h0M333.0 200.9h0M332.4 196.4h0M336.4 190.7h0M337.4 200.9h0M338.2 205.0h0M343.4 186.1h0M344.7 195.2h0M345.0 189.9h0M344.8 186.4h0M346.1 195.6h0M344.3 203.5h0M340.5 194.1h0M339.8 185.1h0M333.8 201.6h0M332.3 198.7h0M346.2 182.2h0M335.1 199.3h0M346.3 186.2h0M339.5 200.1h0M333.3 191.5h0M345.8 195.7h0M344.3 184.0h0M348.0 197.9h0M341.8 198.1h0M347.1 189.8h0M341.2 190.9h0M337.2 203.5h0M339.6 203.3h0M343.5 203.3h0M346.6 180.6h0M345.6 192.3h0M347.1 194.6h0M341.7 196.9h0M340.5 202.6h0M341.5 192.7h0M347.2 187.8h0M339.0 191.0h0M333.3 192.0h0M339.4 194.1h0M343.3 186.7h0M345.9 180.1h0M347.3 197.3h0M343.9 197.5h0M345.6 199.4h0M345.6 197.9h0M345.5 188.9h0M342.6 181.9h0M347.3 195.4h0M346.6 182.9h0M332.2 198.7h0M334.6 198.9h0M347.9 200.6h0M343.6 183.1h0M334.9 190.7h0M346.9 192.9h0M333.9 196.0h0M341.7 201.9h0M339.3 205.0h0M337.7 193.2h0M336.8 187.8h0M333.9 196.4h0M339.2 198.8h0M334.1 190.6h0M343.0 198.1h0M338.2 187.1h0M345.0 185.8h0M347.2 194.6h0M346.6 204.1h0M344.6 203.9h0M345.2 190.0h0M334.0 191.2h0M347.7 186.4h0M342.3 198.4h0M341.8 198.7h0M343.7 195.6h0M335.8 190.2h0M340.7 199.0h0M334.6 201.4h0M347.0 183.2h0M341.1 202.0h0M334.8 194.2h0M347.6 186.9h0M342.3 189.7h0M344.8 198.7h0M345.5 202.1h0M344.0 204.5h0M340.2 187.5h0M337.5 193.2h0M333.1 191.1h0M343.0 203.5h0M334.3 198.1h0M339.0 193.2h0M346.6 194.1h0M346.8 188.8h0M345.7 202.3h0M335.9 201.2h0M347.3 201.9h0M334.9 197.6h0M347.0 197.5h0M344.7 184.4h0M347.6 193.3h0M347.8 178.3h0M341.5 191.1h0M338.1 200.6h0M347.0 186.0h0M338.1 191.7h0M338.4 194.4h0M342.2 203.0h0M335.0 195.7h0M340.4 187.0h0M334.9 198.0h0M340.4 196.3h0M346.8 179.4h0M347.0 182.2h0M347.5 201.0h0M344.4 189.3h0M344.7 185.4h0M340.0 191.7h0M346.7 186.3h0M334.8 189.4h0M335.4 191.2h0M334.5 190.9h0M339.7 198.6h0M333.3 202.2h0M344.1 191.6h0M335.7 199.4h0M343.9 194.7h0M342.1 204.6h0M343.9 188.4h0M344.1 193.7h0M345.2 189.7h0M340.8 186.1h0M342.2 196.1h0M337.0 190.8h0M341.1 186.9h0M333.9 204.8h0M347.4 187.9h0M347.1 182.8h0M333.6 193.8h0M332.2 205.3h0M339.5 200.2h0M341.5 200.8h0M340.8 183.6h0M338.5 198.5h0M342.9 196.6h0M339.6 195.4h0M339.6 189.0h0M332.7 191.1h0M342.5 188.8h0M333.8 198.4h0M346.2 194.2h0M340.8 186.3h0M338.8 204.8h0M343.5 190.7h0M346.5 204.3h0M335.5 190.1h0M339.6 186.0h0M347.7 193.2h0M346.3 204.0h0M339.4 204.6h0M338.9 193.6h0M345.6 204.6h0M333.8 196.1h0M334.5 193.7h0M342.2 196.0h0M342.2 190.6h0M342.2 195.8h0M344.9 202.8h0M346.5 182.4h0M339.5 196.2h0M338.3 203.5h0M346.1 189.1h0M336.9 204.7h0M346.4 187.4h0M344.2 203.5h0M346.0 190.0h0M343.2 193.2h0M334.3 195.9h0M344.3 190.6h0M341.1 192.4h0M335.8 202.4h0M334.2 205.3h0M337.2 192.1h0M334.6 193.6h0M334.8 196.0h0M346.0 184.9h0M347.4 190.8h0M347.9 183.1h0M342.0 189.8h0M342.1 182.3h0M333.3 204.3h0M334.5 203.4h0M345.0 198.9h0M342.2 188.5h0M342.1 197.7h0M344.8 202.0h0M345.6 182.5h0M344.2 186.8h0M332.2 192.7h0M341.8 193.2h0M345.9 181.1h0M345.7 200.3h0M347.4 183.4h0M341.4 185.1h0M341.5 191.9h0M332.5 198.6h0M341.3 203.6h0M342.1 185.7h0M347.0 196.0h0M346.5 180.6h0M333.4 205.0h0M335.0 202.1h0M339.3 193.0h0M345.1 201.3h0M335.4 203.4h0M345.1 189.6h0M342.5 193.3h0M346.4 187.1h0M338.6 200.9h0M339.6 196.6h0M333.3 197.2h0M341.4 185.0h0M345.1 184.3h0M341.3 201.7h0M341.5 195.3h0M346.9 203.0h0M345.0 202.4h0M338.1 203.5h0M347.3 199.3h0M344.4 195.4h0M337.9 190.1h0M336.3 201.7h0M343.7 184.9h0M341.2 185.6h0M342.6 193.8h0M334.7 198.1h0M345.0 183.1h0M346.2 194.1h0M339.9 185.2h0M337.9 193.3h0M347.7 181.3h0M347.7 177.4h0M334.6 203.5h0M341.7 192.3h0M340.1 196.3h0M337.5 190.2h0M341.4 189.4h0M343.6 183.9h0M339.0 185.0h0M338.0 201.1h0M346.3 187.9h0M343.5 184.6h0M338.0 194.6h0M335.2 203.5h0M339.3 204.5h0M347.2 194.3h0M345.8 193.6h0M336.3 203.3h0M342.7 191.3h0M332.1 203.1h0M346.8 198.8h0M347.3 194.4h0M336.4 190.2h0M338.6 196.3h0M337.9 186.0h0M335.8 193.4h0M343.8 201.3h0M339.2 188.5h0M332.1 204.0h0M336.4 203.4h0M343.5 183.5h0M344.1 186.6h0M332.4 203.8h0M341.9 187.1h0M343.2 188.7h0M343.2 200.0h0M343.4 191.3h0M345.2 195.1h0M338.5 205.0h0M346.1 196.7h0M340.2 203.4h0M333.3 203.2h0M343.4 202.1h0M338.6 187.4h0M343.1 188.6h0M339.1 202.7h0M341.1 184.6h0M342.0 191.0h0M344.2 204.5h0M337.8 199.7h0M343.6 190.6h0M336.7 194.3h0M345.3 188.9h0M336.6 191.9h0M333.6 195.8h0M332.8 191.8h0M342.6 205.0h0M338.3 186.7h0M342.2 197.0h0M338.0 186.8h0M340.2 196.6h0M346.3 190.3h0M347.0 195.4h0M332.9 196.4h0M347.3 179.9h0M341.2 184.8h0M344.6 190.8h0M347.1 185.6h0M335.9 189.6h0M339.2 198.4h0M346.6 178.2h0M341.4 187.3h0M346.7 181.0h0M345.9 201.2h0M348.0 181.5h0M343.5 193.4h0M333.5 190.9h0M346.8 202.9h0M335.8 197.5h0M335.2 192.2h0M339.0 199.5h0M336.2 192.4h0M334.9 197.4h0M343.2 190.8h0M346.9 200.8h0M337.2 197.3h0M339.1 199.0h0M343.2 198.7h0M337.9 203.6h0M341.0 203.2h0M346.9 199.2h0M334.5 190.3h0M341.7 185.9h0M336.3 204.7h0M345.1 191.9h0M336.2 204.2h0M345.6 188.7h0M339.6 188.6h0M347.1 195.9h0M338.9 186.4h0M341.0 185.9h0M334.3 198.5h0M337.5 203.8h0M339.8 188.6h0M346.6 183.6h0M342.4 196.5h0M345.5 205.3h0M346.1 183.4h0M333.9 201.2h0M338.1 199.8h0M345.8 199.6h0M344.8 188.1h0M342.1 204.7h0M339.6 203.3h0M341.1 197.5h0M332.3 205.1h0M334.7 201.0h0M338.8 197.3h0M334.9 205.2h0M336.6 194.4h0M345.5 201.1h0M345.0 184.5h0M344.5 202.5h0M342.1 204.9h0M347.0 196.7h0M336.6 193.9h0M342.9 189.6h0M339.9 191.6h0M347.3 199.1h0M338.6 203.7h0M336.8 204.8h0M345.0 198.0h0M345.6 203.2h0M344.3 202.2h0M345.2 183.0h0M335.9 197.3h0M342.7 183.2h0M341.7 191.8h0M346.9 186.4h0M339.5 190.3h0M336.9 194.8h0M338.0 193.6h0M341.3 186.5h0M347.8 179.0h0M344.0 185.6h0M344.3 204.8h0M340.6 200.6h0M339.5 193.2h0M347.1 185.1h0M340.4 193.1h0M334.6 196.9h0M345.2 188.6h0M336.1 197.8h0M339.4 185.8h0M342.8 197.0h0M345.8 187.9h0M332.2 203.1h0M343.4 195.1h0M334.9 199.6h0M343.1 195.7h0M342.7 197.5h0M341.4 195.7h0M340.0 204.2h0M341.7 184.8h0M347.5 188.8h0M338.8 185.4h0M340.7 190.2h0M335.1 194.2h0M339.4 194.7h0M333.1 192.6h0M346.9 187.7h0M338.6 186.8h0M347.2 184.6h0M334.8 195.6h0M343.5 195.5h0M342.7 193.9h0M343.5 182.7h0M345.4 205.4h0M333.6 194.7h0M344.6 186.0h0M332.6 193.7h0M337.9 196.2h0M346.0 189.7h0M342.2 204.3h0M347.1 185.1h0M346.2 202.9h0M339.9 185.0h0M337.5 197.8h0M336.1 198.2h0M332.9 202.8h0M344.3 199.9h0M345.5 201.9h0M333.0 192.6h0M341.0 190.6h0M345.8 205.1h0M343.2 196.5h0M339.8 196.2h0M347.4 189.2h0M339.9 201.6h0M338.1 191.7h0M341.1 197.6h0M338.7 197.5h0M339.4 197.0h0M341.1 193.3h0M333.7 196.6h0M342.7 204.3h0M342.4 183.1h0M344.2 190.4h0M336.9 204.4h0M332.9 201.5h0M344.2 185.2h0M339.0 198.6h0M342.6 193.9h0M337.4 190.2h0M338.7 199.1h0M337.2 200.8h0M341.0 199.4h0M343.3 184.3h0M336.7 195.6h0M338.1 189.5h0M340.5 193.6h0M344.0 197.7h0M339.0 192.2h0M333.3 198.3h0M341.4 186.4h0M340.4 186.9h0M348.0 186.6h0M342.3 201.0h0M333.0 204.4h0M343.3 195.5h0M333.8 189.8h0M339.1 192.4h0M332.8 199.7h0M342.6 184.8h0M335.6 199.8h0M347.3 183.7h0M335.9 188.2h0M347.6 184.4h0M346.9 199.2h0M341.4 186.0h0M340.6 189.7h0M339.4 186.1h0M344.7 184.3h0M335.8 193.3h0M338.8 186.8h0M333.3 190.6h0M340.0 193.6h0M335.9 195.1h0M347.0 178.0h0M340.4 205.3h0M336.5 205.3h0M337.4 192.8h0M335.7 197.5h0M333.9 193.0h0M333.2 199.1h0M344.3 199.9h0M334.2 203.4h0M346.0 183.8h0M347.6 205.2h0M346.9 200.6h0M335.6 201.5h0M345.3 204.7h0M342.6 190.9h0M347.3 180.9h0M337.7 192.2h0M342.7 187.0h0M342.9 202.9h0M335.9 200.7h0M342.6 194.7h0M344.4 202.5h0M345.5 204.1h0M346.2 205.3h0M332.6 200.6h0M344.9 199.0h0M338.3 200.2h0M345.0 183.5h0M335.1 189.6h0M339.2 187.8h0M339.6 187.4h0M344.0 187.1h0M342.9 182.8h0M345.6 202.5h0M332.1 195.2h0M337.6 189.5h0M344.5 200.5h0M336.8 204.0h0M361.6 179.5h0M353.1 175.2h0M358.8 187.3h0M348.9 203.7h0M362.7 182.7h0M349.9 194.4h0M354.7 193.4h0M354.4 180.8h0M353.0 198.1h0M356.7 197.5h0M356.5 177.1h0M360.8 200.1h0M363.6 200.7h0M360.9 200.4h0M359.7 178.3h0M351.3 183.3h0M351.5 199.6h0M348.2 184.1h0M349.5 182.0h0M360.6 201.9h0M348.9 204.9h0M352.4 192.4h0M354.3 186.6h0M350.6 182.6h0M353.6 196.5h0M352.1 176.2h0M354.7 179.5h0M350.9 182.8h0M348.4 201.4h0M362.6 185.9h0M360.0 181.0h0M360.4 189.9h0M352.2 175.1h0M363.1 189.9h0M361.4 177.1h0M354.7 184.6h0M352.8 202.6h0M360.8 184.6h0M348.3 184.8h0M357.3 194.5h0M362.0 197.6h0M362.6 180.0h0M362.8 204.1h0M355.0 198.5h0M348.3 197.4h0M353.7 189.0h0M352.4 186.5h0M357.4 172.7h0M359.7 205.4h0M363.7 168.2h0M353.2 203.2h0M353.9 183.9h0M349.4 176.5h0M361.4 181.8h0M356.1 189.7h0M351.8 192.5h0M356.2 198.6h0M355.9 176.5h0M361.2 202.1h0M351.8 191.6h0M356.3 196.3h0M355.3 171.1h0M349.7 197.0h0M350.3 189.0h0M352.0 188.4h0M355.1 201.8h0M357.0 203.1h0M360.0 200.3h0M362.6 187.5h0M349.5 189.9h0M363.6 176.2h0M354.7 185.4h0M360.6 176.1h0M353.4 177.7h0M359.8 181.0h0M359.1 172.6h0M348.3 177.6h0M362.0 166.3h0M348.7 184.1h0M356.0 199.8h0M351.6 194.0h0M357.6 189.9h0M351.0 192.6h0M357.9 205.0h0M360.4 182.8h0M357.6 199.0h0M361.5 173.8h0M354.2 202.2h0M358.8 182.2h0M355.3 174.2h0M362.7 167.4h0M349.6 191.6h0M362.0 190.0h0M348.2 198.9h0M361.8 195.3h0M349.4 188.6h0M359.3 171.3h0M349.7 191.8h0M360.6 202.6h0M351.7 180.1h0M349.2 200.3h0M362.0 201.4h0M357.4 196.4h0M361.6 186.9h0M360.8 185.1h0M349.6 192.0h0M349.6 203.6h0M359.6 179.8h0M361.6 191.2h0M351.0 180.9h0M362.2 192.8h0M348.4 205.2h0M360.4 197.6h0M358.2 187.4h0M354.3 195.3h0M354.3 203.3h0M353.0 177.1h0M355.8 193.6h0M356.2 174.4h0M350.7 200.4h0M348.2 183.2h0M356.6 170.9h0M351.1 202.4h0M349.6 184.7h0M352.1 197.6h0M350.4 184.3h0M361.9 196.6h0M352.8 189.4h0M358.5 175.6h0M348.2 198.9h0M358.7 191.6h0M363.3 187.2h0M360.2 170.1h0M360.3 188.8h0M354.8 187.2h0M355.8 185.6h0M362.5 178.3h0M351.9 183.9h0M356.2 204.5h0M359.8 190.4h0M353.5 189.0h0M355.7 199.0h0M348.6 199.4h0M359.0 186.5h0M350.8 195.9h0M352.3 183.3h0M351.7 173.6h0M359.6 175.0h0M354.5 178.5h0M363.9 162.9h0M360.9 187.8h0M362.8 201.2h0M359.1 189.7h0M351.8 202.3h0M353.3 199.6h0M354.0 193.1h0M351.3 192.0h0M355.6 184.2h0M360.8 174.3h0M356.5 170.8h0M350.7 199.9h0M359.8 203.2h0M363.5 193.9h0M355.7 202.5h0M350.3 181.0h0M359.8 183.4h0M356.8 197.8h0M361.0 189.4h0M357.8 180.0h0M362.0 181.5h0M348.2 186.7h0M358.5 195.4h0M357.8 202.4h0M360.6 170.7h0M351.6 175.9h0M357.5 192.8h0M352.4 186.9h0M360.2 186.8h0M349.3 181.8h0M350.6 198.6h0M363.2 165.2h0M359.9 205.0h0M352.1 203.5h0M353.1 193.8h0M355.1 196.2h0M351.8 187.4h0M350.3 181.7h0M363.5 165.5h0M351.5 201.8h0M360.1 177.5h0M359.6 172.7h0M359.9 184.5h0M353.0 198.7h0M351.7 187.9h0M358.0 193.7h0M363.9 189.1h0M354.4 186.6h0M351.6 194.4h0M356.3 183.5h0M351.1 186.5h0M353.7 190.5h0M359.9 183.5h0M352.0 193.3h0M355.3 184.9h0M358.4 192.9h0M350.6 201.8h0M350.4 199.9h0M363.5 170.0h0M361.9 177.2h0M362.2 198.4h0M357.3 174.4h0M356.2 185.3h0M349.8 192.7h0M351.9 177.8h0M349.9 189.6h0M356.7 202.1h0M355.1 196.5h0M350.8 177.0h0M349.6 193.5h0M357.3 198.5h0M350.3 186.5h0M348.2 177.3h0M351.7 195.4h0M360.9 171.9h0M358.7 184.4h0M356.4 171.5h0M351.7 197.8h0M355.6 184.1h0M348.2 190.1h0M353.3 196.7h0M355.8 199.5h0M349.5 186.6h0M357.4 192.1h0M355.2 191.7h0M348.9 180.6h0M350.4 175.1h0M356.0 202.0h0M362.4 178.3h0M348.9 177.3h0M357.1 200.2h0M352.7 186.2h0M354.4 204.0h0M362.8 182.3h0M358.2 194.6h0M352.7 192.6h0M355.4 171.6h0M363.7 169.9h0M361.9 202.1h0M355.0 192.3h0M356.6 182.5h0M355.5 173.4h0M350.5 199.3h0M363.5 193.8h0M351.8 202.3h0M351.6 195.0h0M349.8 184.6h0M363.1 191.4h0M362.7 177.7h0M358.3 182.6h0M356.6 186.7h0M357.4 189.4h0M354.1 182.3h0M362.3 195.6h0M357.1 174.3h0M361.8 198.4h0M359.2 172.5h0M359.0 176.8h0M358.9 186.4h0M360.5 200.3h0M361.1 193.2h0M359.1 182.6h0M353.3 197.3h0M352.3 199.1h0M351.2 203.5h0M361.8 204.5h0M355.9 203.3h0M348.0 180.0h0M357.7 197.0h0M361.9 181.0h0M362.7 181.8h0M363.0 183.0h0M362.0 182.6h0M350.9 204.7h0M356.4 203.5h0M359.5 179.9h0M358.4 194.9h0M353.9 183.5h0M348.6 187.6h0M362.3 181.8h0M360.5 180.7h0M361.9 201.3h0M354.3 194.2h0M352.1 196.1h0M361.6 187.8h0M358.6 194.5h0M358.8 203.9h0M348.6 200.3h0M349.8 188.1h0M360.4 203.5h0M362.2 184.2h0M353.8 204.1h0M362.0 205.2h0M351.0 193.3h0M357.4 178.0h0M353.7 198.4h0M356.7 179.2h0M351.2 190.6h0M354.3 189.9h0M355.5 175.6h0M357.4 192.3h0M351.4 186.5h0M357.8 199.6h0M351.5 190.8h0M363.6 200.8h0M352.0 187.3h0M349.8 181.3h0M352.5 191.7h0M357.2 176.5h0M355.3 186.8h0M358.7 181.2h0M349.8 184.5h0M354.7 175.9h0M357.0 199.9h0M363.6 200.9h0M362.2 191.9h0M357.3 195.6h0M352.9 188.3h0M349.9 189.5h0M358.3 186.7h0M357.2 181.0h0M355.7 173.9h0M359.6 179.5h0M355.6 182.5h0M360.6 183.0h0M352.7 200.2h0M353.4 189.8h0M362.6 187.9h0M357.4 187.7h0M363.3 202.6h0M349.0 181.8h0M362.8 198.4h0M349.0 190.7h0M360.1 187.4h0M357.4 175.9h0M350.0 191.8h0M353.0 176.3h0M355.8 204.5h0M357.1 202.3h0M355.9 190.8h0M348.5 181.3h0M363.9 188.7h0M353.8 172.6h0M359.7 184.3h0M362.9 170.5h0M363.6 179.9h0M351.0 198.8h0M362.3 191.8h0M356.3 197.8h0M358.6 202.4h0M352.0 204.9h0M350.4 195.5h0M357.4 177.0h0M362.5 190.4h0M354.8 180.8h0M363.3 192.6h0M359.4 191.4h0M348.3 204.0h0M363.0 186.4h0M349.9 185.2h0M351.7 175.5h0M357.1 180.0h0M363.1 199.9h0M350.2 180.6h0M352.9 193.0h0M348.8 190.2h0M349.5 176.1h0M355.0 174.0h0M357.4 192.0h0M356.3 170.1h0M348.8 181.2h0M355.0 193.0h0M355.2 176.4h0M363.0 168.9h0M353.4 194.7h0M358.3 192.5h0M356.0 194.3h0M360.6 178.4h0M357.8 184.5h0M363.9 197.9h0M358.3 204.8h0M353.6 178.2h0M354.9 187.6h0M361.8 189.0h0M354.0 195.7h0M362.9 179.0h0M355.2 198.4h0M363.1 199.3h0M350.5 190.7h0M360.6 184.9h0M355.3 180.7h0M351.7 178.0h0M357.6 174.0h0M349.0 184.4h0M351.3 194.9h0M361.6 167.1h0M356.5 202.7h0M353.5 201.2h0M350.4 197.9h0M350.6 184.7h0M351.8 176.2h0M355.5 175.3h0M348.3 199.3h0M351.4 187.9h0M355.0 200.7h0M362.2 199.0h0M361.9 202.8h0M363.0 195.5h0M351.7 175.8h0M350.1 177.2h0M361.7 180.9h0M359.3 202.0h0M352.1 187.7h0M355.1 183.6h0M362.8 171.7h0M361.2 205.2h0M363.0 187.9h0M356.0 190.4h0M351.2 201.4h0M356.8 176.2h0M349.9 186.4h0M349.9 175.9h0M349.5 203.4h0M352.1 199.0h0M350.7 184.8h0M352.2 179.0h0M359.2 174.6h0M358.9 204.5h0M348.4 181.8h0M361.8 201.6h0M361.2 175.8h0M363.1 202.4h0M351.6 205.3h0M359.8 184.3h0M357.1 172.8h0M359.4 179.5h0M362.5 191.5h0M349.3 189.1h0M361.5 203.8h0M361.8 201.9h0M358.5 193.0h0M354.6 191.6h0M356.8 204.6h0M350.3 182.2h0M360.0 186.0h0M357.0 183.2h0M357.3 195.3h0M359.5 176.1h0M349.7 200.4h0M348.8 199.3h0M350.0 200.6h0M349.3 178.3h0M360.9 191.7h0M350.2 186.3h0M354.2 179.7h0M358.6 175.9h0M352.2 178.9h0M362.6 202.4h0M362.7 201.4h0M354.4 195.1h0M357.5 204.1h0M360.7 180.4h0M363.7 190.3h0M359.2 199.5h0M355.3 175.3h0M348.7 176.4h0M358.4 170.5h0M358.7 194.0h0M359.2 194.5h0M353.7 193.4h0M361.9 203.8h0M357.6 194.9h0M354.2 198.6h0M352.0 183.6h0M348.5 179.2h0M359.5 195.6h0M353.2 173.2h0M361.7 203.2h0M353.3 203.9h0M353.0 180.2h0M360.6 191.3h0M354.2 189.7h0M363.8 197.3h0M357.2 192.7h0M363.0 183.0h0M350.0 193.7h0M348.8 179.5h0M348.2 177.1h0M362.1 176.8h0M355.8 203.0h0M359.8 188.6h0M356.5 200.4h0M363.5 183.9h0M361.0 168.7h0M355.8 196.3h0M351.0 180.3h0M354.3 173.6h0M354.4 195.8h0M353.9 196.9h0M359.6 203.7h0M361.5 194.6h0M361.4 196.4h0M351.2 192.8h0M350.8 183.3h0M358.9 193.1h0M359.8 188.9h0M360.6 173.3h0M362.5 204.9h0M353.5 194.8h0M349.1 190.1h0M354.1 175.6h0M353.3 202.3h0M349.8 203.0h0M359.0 177.7h0M356.3 199.7h0M358.1 190.9h0M362.0 194.2h0M357.4 181.9h0M362.3 185.4h0M361.1 197.2h0M356.6 192.4h0M358.0 182.0h0M355.7 180.3h0M354.3 184.4h0M359.8 204.6h0M357.8 198.4h0M354.1 195.4h0M358.6 172.1h0M356.7 202.1h0M349.8 189.1h0M360.0 167.7h0M356.1 186.8h0M362.9 198.0h0M362.4 189.8h0M349.9 175.9h0M352.4 192.4h0M359.3 188.9h0M351.3 201.7h0M361.3 177.8h0M358.9 190.1h0M363.2 197.4h0M353.8 193.7h0M359.1 172.2h0M357.8 190.4h0M359.0 174.8h0M363.2 177.7h0M353.8 187.0h0M351.8 180.9h0M361.0 201.3h0M350.5 187.3h0M357.0 171.0h0M362.9 182.9h0M361.6 185.3h0M359.2 187.8h0M348.2 183.6h0M363.7 176.8h0M355.4 203.5h0M352.8 193.3h0M349.1 176.6h0M350.4 179.1h0M348.8 198.6h0M357.1 195.8h0M354.2 176.8h0M352.8 182.7h0M361.2 196.5h0M349.3 202.8h0M354.9 203.9h0M360.9 169.7h0M361.4 178.5h0M359.5 194.5h0M356.5 200.5h0M350.6 202.2h0M354.5 187.9h0M359.8 177.8h0M360.6 169.0h0M357.9 184.1h0M362.4 179.2h0M357.2 175.5h0M361.6 181.0h0M362.5 175.9h0M350.8 197.5h0M350.4 187.1h0M363.8 195.6h0M352.9 175.5h0M355.3 196.0h0M354.9 185.6h0M361.6 174.5h0M348.2 190.3h0M356.0 193.4h0M355.5 204.5h0M349.6 202.7h0M355.3 171.2h0M362.1 196.1h0M348.9 192.3h0M352.1 176.7h0M357.9 200.3h0M356.8 181.7h0M360.3 185.3h0M353.6 179.5h0M350.0 188.8h0M354.1 186.9h0M361.4 187.5h0M355.1 192.2h0M354.5 194.8h0M360.6 187.4h0M357.5 171.8h0M350.3 194.9h0M354.2 193.5h0M362.6 195.2h0M348.5 189.2h0M360.3 188.9h0M353.1 184.6h0M360.1 185.6h0M350.7 192.4h0M358.6 180.9h0M361.8 204.4h0M349.1 205.1h0M363.3 168.4h0M349.8 193.7h0M348.2 200.5h0M361.2 191.2h0M356.3 197.3h0M348.6 181.3h0M358.6 193.7h0M356.3 197.8h0M363.9 173.4h0M363.6 197.7h0M362.1 180.9h0M356.5 176.4h0M361.2 177.0h0M359.9 181.0h0M352.5 185.6h0M360.1 189.2h0M352.9 183.4h0M354.9 203.9h0M349.3 192.9h0M350.3 194.6h0M356.2 179.1h0M361.5 186.1h0M360.8 166.4h0M350.6 175.6h0M356.8 195.7h0M353.0 183.1h0M351.4 193.0h0M354.0 204.7h0M359.0 187.0h0M362.8 192.5h0M349.6 198.6h0M352.8 174.9h0M360.1 187.8h0M356.1 203.3h0M354.3 197.0h0M360.9 169.1h0M348.3 185.9h0M363.2 194.8h0M352.5 199.5h0M361.6 176.5h0M361.4 192.9h0M361.5 200.1h0M358.0 183.6h0M358.5 188.5h0M348.8 183.2h0M355.0 172.2h0M358.1 188.7h0M352.5 178.3h0M359.0 188.2h0M357.0 204.5h0M358.8 202.4h0M361.8 204.6h0M353.5 201.2h0M358.1 188.5h0M348.8 204.7h0M360.9 178.1h0M361.1 193.4h0M359.1 195.7h0M359.2 192.2h0M357.1 176.4h0M353.3 186.2h0M360.8 180.4h0M350.2 201.7h0M357.4 168.5h0M349.8 183.2h0M360.0 179.1h0M356.2 202.5h0M358.3 181.8h0M350.8 194.9h0M354.8 172.6h0M358.7 202.8h0M355.2 174.2h0M359.7 201.3h0M349.4 199.8h0M353.9 179.0h0M349.8 199.9h0M359.9 198.7h0M354.5 194.3h0M360.1 193.4h0M360.2 177.8h0M348.6 193.4h0M358.1 184.0h0M361.0 177.1h0M362.7 172.4h0M349.5 190.5h0M349.5 182.1h0M355.2 202.2h0M360.1 168.4h0M349.8 186.4h0M364.0 186.8h0M359.5 193.1h0M348.2 179.1h0M360.0 190.7h0M355.0 195.9h0M350.9 193.3h0M358.7 184.1h0M359.6 175.1h0M358.1 178.6h0M352.2 198.5h0M351.0 188.5h0M349.0 181.0h0M350.8 187.5h0M353.9 178.1h0M353.5 196.0h0M349.2 203.5h0M361.6 181.0h0M351.1 192.5h0M349.3 193.2h0M351.4 189.4h0M355.2 178.4h0M358.1 186.2h0M349.3 190.9h0M350.5 202.1h0M348.4 176.6h0M354.5 184.9h0M364.0 177.8h0M360.6 194.6h0M361.7 200.2h0M362.7 186.4h0M351.6 186.5h0M358.5 196.8h0M354.8 199.9h0M353.9 176.3h0M360.2 168.7h0M357.1 183.5h0M358.1 177.6h0M352.4 177.3h0M363.1 177.4h0M358.6 186.5h0M358.2 175.9h0M360.3 196.2h0M362.7 191.3h0M350.9 204.4h0M352.3 186.0h0M363.6 187.3h0M358.9 174.3h0M362.3 191.4h0M353.4 180.1h0M363.8 182.7h0M355.0 202.3h0M361.0 175.3h0M362.6 191.9h0M356.4 177.4h0M354.8 186.6h0M356.1 187.5h0M350.1 188.2h0M349.2 190.4h0M363.2 187.2h0M358.6 190.5h0M349.4 199.7h0M357.6 199.5h0M352.1 184.5h0M361.5 187.7h0M353.9 182.0h0M348.3 186.2h0M358.8 176.6h0M363.9 176.2h0M359.9 197.8h0M363.4 199.0h0M349.7 182.3h0M352.8 190.1h0M360.5 203.9h0M355.5 179.3h0M350.9 202.6h0M353.6 205.1h0M352.7 195.8h0M359.4 185.8h0M360.5 170.2h0M359.9 169.9h0M358.8 202.7h0M360.1 169.2h0M362.8 190.8h0M352.3 192.8h0M352.6 183.3h0M363.7 182.9h0M362.1 197.5h0M358.8 178.5h0M360.8 177.5h0M358.4 184.9h0M353.1 204.7h0M357.2 178.9h0M352.0 192.7h0M349.6 187.4h0M353.6 199.8h0M361.0 169.7h0M350.3 197.9h0M348.8 195.8h0M351.9 177.5h0M360.6 203.8h0M362.2 176.3h0M352.5 194.4h0M363.4 198.2h0M355.8 181.2h0M359.1 189.6h0M358.8 182.0h0M355.3 197.1h0M361.5 195.1h0M362.4 198.1h0M355.7 195.8h0M352.9 192.0h0M363.0 178.2h0M359.3 175.2h0M354.0 179.9h0M350.7 199.4h0M354.5 186.5h0M355.2 181.0h0M361.1 201.7h0M359.3 177.2h0M356.3 201.5h0M362.6 169.5h0M357.5 194.3h0M361.9 198.1h0M349.1 201.0h0M349.3 178.5h0M361.8 171.8h0M359.9 180.3h0M352.3 200.8h0M350.0 191.5h0M349.2 187.2h0M353.2 187.0h0M362.2 185.8h0M351.2 192.5h0M352.1 191.6h0M361.4 199.1h0M351.0 201.0h0M351.9 189.0h0M360.1 180.7h0M361.8 188.3h0M363.1 180.3h0M348.7 177.5h0M353.4 174.2h0M357.9 170.4h0M353.4 179.3h0M360.0 175.3h0M351.7 204.3h0M357.8 201.2h0M350.7 196.2h0M350.5 189.5h0M360.9 171.0h0M358.2 182.4h0M357.2 191.8h0M354.2 180.3h0M358.9 183.0h0M363.3 193.8h0M354.1 203.7h0M348.8 183.6h0M352.2 190.7h0M360.6 189.7h0M352.9 197.4h0M360.2 192.9h0M351.4 195.2h0M357.7 173.4h0M354.0 185.9h0M356.7 196.4h0M354.1 178.8h0M357.6 177.8h0M359.9 184.2h0M359.3 167.9h0M355.0 175.3h0M348.6 180.0h0M361.3 189.2h0M349.8 204.0h0M354.2 178.4h0M360.7 190.6h0M363.7 175.6h0M359.7 189.2h0M349.9 178.9h0M363.5 176.1h0M348.8 201.6h0M348.6 193.1h0M359.9 205.3h0M362.7 166.8h0M358.4 181.2h0M362.1 179.2h0M358.5 193.8h0M349.4 186.3h0M358.0 191.7h0M360.4 194.9h0M356.0 188.4h0M359.5 172.0h0M355.6 174.5h0M349.7 182.2h0M361.9 182.4h0M351.4 198.0h0M351.4 175.9h0M350.1 190.0h0M353.7 191.4h0M354.6 183.4h0M351.3 183.0h0M350.7 200.0h0M355.4 172.0h0M348.2 187.8h0M356.0 183.1h0M349.8 178.0h0M350.2 185.5h0M350.0 180.9h0M361.6 170.7h0M361.1 174.5h0M363.8 190.7h0M361.0 172.4h0M356.2 184.5h0M354.4 197.0h0M357.5 192.9h0M358.2 181.0h0M363.8 173.8h0M353.5 194.7h0M362.5 204.1h0M363.2 182.5h0M363.3 191.2h0M358.1 185.8h0M358.0 188.8h0M363.9 169.6h0M354.8 194.9h0M360.5 202.1h0M349.3 185.2h0M351.9 179.8h0M356.2 202.7h0M359.9 177.3h0M351.0 189.3h0M361.2 188.0h0M357.3 178.4h0M350.2 189.3h0M348.6 192.8h0M354.5 198.7h0M361.2 198.7h0M363.6 203.8h0M360.3 192.1h0M351.7 182.3h0M362.4 188.6h0M350.6 182.5h0M354.5 186.4h0M358.8 180.6h0M353.5 175.8h0M353.4 189.8h0M355.1 184.5h0M362.5 198.8h0M355.6 177.1h0M349.4 193.4h0M353.8 175.0h0M357.5 198.6h0M356.8 189.7h0M363.3 165.9h0M356.3 184.5h0M360.7 197.4h0M360.1 181.8h0M355.6 183.0h0M354.8 185.0h0M355.5 176.8h0M350.0 183.8h0M349.4 196.8h0M349.9 187.4h0M350.2 204.2h0M349.4 188.7h0M354.5 190.3h0M350.5 182.2h0M363.7 201.3h0M354.6 178.5h0M348.1 198.4h0M358.7 182.3h0M359.6 205.4h0M363.2 200.3h0M352.0 177.4h0M353.2 193.3h0M360.1 178.7h0M358.1 195.5h0M358.1 200.6h0M363.0 180.9h0M363.9 175.1h0M348.1 180.5h0M354.3 192.5h0M363.1 195.2h0M348.3 195.2h0M353.6 203.6h0M360.3 186.1h0M349.2 184.8h0M357.5 187.6h0M362.8 180.9h0M356.7 189.6h0M348.1 187.1h0M349.9 188.6h0M354.7 198.3h0M348.2 188.6h0M358.7 182.4h0M352.4 193.8h0M353.6 176.7h0M360.6 175.0h0M359.9 200.6h0M360.9 202.6h0M351.1 203.1h0M353.6 188.0h0M358.3 168.2h0M356.2 194.5h0M361.0 199.2h0M354.8 192.6h0M362.6 185.2h0M351.6 204.3h0M358.6 184.4h0M360.9 178.0h0M363.8 192.4h0M354.2 188.6h0M362.2 184.2h0M357.8 173.1h0M358.4 185.3h0M352.2 203.4h0M362.1 183.8h0M349.1 193.7h0M363.9 194.4h0M357.2 188.1h0M357.5 191.1h0M350.9 175.5h0M358.9 186.2h0M350.6 191.3h0M361.4 168.5h0M360.1 167.5h0M350.8 196.0h0M360.7 179.9h0M358.3 187.6h0M352.9 197.1h0M358.7 176.6h0M359.2 171.6h0M356.1 203.0h0M359.2 181.8h0M360.8 203.8h0M362.3 186.8h0M361.4 188.3h0M349.8 194.1h0M361.8 188.6h0M363.2 189.4h0M355.9 202.0h0M362.5 204.6h0M351.7 178.8h0M348.7 188.7h0M355.3 191.1h0M350.0 199.9h0M350.2 190.2h0M355.2 175.4h0M363.6 186.8h0M356.5 201.8h0M363.8 204.4h0M356.3 198.0h0M355.6 197.2h0M348.3 203.5h0M349.4 195.0h0M362.0 200.4h0M359.1 182.5h0M357.2 199.9h0M362.3 191.6h0M358.5 188.2h0M352.6 175.3h0M361.9 174.0h0M359.8 171.0h0M349.3 202.4h0M361.4 169.3h0M354.0 200.7h0M361.6 201.0h0M361.3 201.1h0M362.6 168.8h0M349.9 175.3h0M359.9 174.1h0M353.1 189.3h0M361.8 178.1h0M349.9 200.2h0M362.1 204.3h0M363.6 189.1h0M356.4 181.7h0M356.9 197.4h0M357.9 203.3h0M362.4 199.2h0M349.5 193.1h0M361.7 183.0h0M353.7 177.0h0M354.6 180.0h0M362.0 182.1h0M350.0 203.2h0M350.4 175.2h0M359.0 180.1h0M359.8 204.5h0M351.7 202.0h0M359.2 170.9h0M353.8 200.9h0M348.5 184.4h0M352.3 203.0h0M350.7 192.4h0M355.4 198.5h0M355.4 198.5h0M354.3 176.9h0M362.6 203.0h0M354.3 188.0h0M351.2 202.4h0M363.2 204.3h0M358.4 198.0h0M363.3 199.7h0M355.4 195.3h0M357.8 180.9h0M353.4 188.0h0M363.4 178.8h0M352.5 204.5h0M362.9 165.4h0M353.6 172.6h0M360.4 174.9h0M358.5 199.5h0M360.5 189.8h0M351.4 203.4h0M364.0 185.9h0M356.1 184.5h0M349.2 185.1h0M359.0 180.5h0M349.3 177.4h0M358.5 178.7h0M359.6 199.5h0M351.4 176.3h0M349.9 182.6h0M350.2 205.0h0M358.6 177.1h0M360.1 183.6h0M362.8 193.3h0M353.3 189.9h0M349.6 189.3h0M358.2 173.6h0M361.5 175.3h0M359.7 200.0h0M356.0 174.6h0M352.4 179.3h0M359.8 182.6h0M361.8 167.9h0M351.6 178.6h0M359.5 204.4h0M360.4 178.1h0M364.0 199.8h0M354.1 200.6h0M354.4 177.2h0M348.7 200.2h0M350.6 200.7h0M360.0 192.6h0M352.5 187.8h0M362.6 188.3h0M353.2 178.1h0M360.8 183.6h0M353.9 196.8h0M360.2 203.9h0M355.2 184.5h0M351.5 200.6h0M351.4 175.5h0M352.7 181.6h0M350.0 202.8h0M361.9 182.7h0M362.8 191.1h0M360.8 179.6h0M348.1 188.3h0M362.2 204.2h0M360.8 194.2h0M361.5 195.7h0M358.2 199.9h0M351.4 203.5h0M352.9 190.3h0M354.4 197.9h0M351.0 177.6h0M348.5 202.1h0M363.3 170.7h0M354.4 187.2h0M357.9 200.9h0M349.8 194.8h0M361.8 173.8h0M360.1 190.4h0M348.7 183.6h0M351.3 200.1h0M360.0 169.0h0M348.9 202.4h0M348.4 179.5h0M350.0 195.3h0M350.3 205.1h0M360.5 204.6h0M360.6 199.3h0M357.3 204.0h0M353.0 177.3h0M360.6 177.3h0M358.3 198.0h0M349.0 199.8h0M351.1 194.7h0M359.2 197.0h0M357.2 192.1h0M354.4 190.7h0M356.6 195.7h0M352.0 179.1h0M357.5 183.5h0M350.3 185.6h0M363.8 203.9h0M361.3 186.8h0M356.1 176.3h0M363.7 194.7h0M359.0 184.2h0M357.4 204.3h0M358.5 180.3h0M359.4 182.3h0M363.8 195.7h0M360.6 171.5h0M351.9 176.2h0M349.0 204.9h0M362.8 196.8h0M359.9 176.4h0M357.5 179.1h0M356.0 192.1h0M363.2 176.9h0M348.7 182.1h0M350.6 199.8h0M353.2 196.4h0M364.0 201.8h0M359.2 196.4h0M357.8 185.7h0M353.6 191.8h0M350.6 202.7h0M348.3 200.1h0M350.3 185.7h0M350.9 188.0h0M356.3 181.8h0M354.0 201.9h0M363.7 200.0h0M362.8 172.3h0M357.0 194.5h0M350.7 179.1h0M353.2 182.3h0M348.4 188.6h0M358.7 182.5h0M354.3 179.5h0M362.9 180.4h0M353.2 184.6h0M361.7 182.9h0M354.4 185.9h0M358.6 169.4h0M353.8 191.8h0M361.0 202.7h0M351.7 204.9h0M350.6 185.6h0M348.9 188.8h0M354.2 181.5h0M359.9 203.5h0M355.5 179.5h0M361.6 171.5h0M357.5 196.1h0M356.7 174.4h0M356.1 191.0h0M348.7 190.2h0M357.6 180.4h0M351.1 198.3h0M349.4 176.6h0M349.7 198.0h0M350.7 192.7h0M358.1 178.3h0M352.7 184.9h0M352.8 202.1h0M354.8 178.9h0M363.3 168.8h0M352.2 204.7h0M352.9 188.8h0M352.1 192.1h0M353.2 191.5h0M352.9 177.1h0M361.4 178.2h0M363.7 181.5h0M354.4 194.4h0M361.9 176.0h0M349.8 203.9h0M355.9 199.2h0M361.2 196.6h0M349.5 195.0h0M364.0 200.2h0M354.5 180.8h0M356.1 201.6h0M363.2 169.5h0M362.8 196.3h0M351.4 194.7h0M355.4 199.2h0M359.9 199.6h0M355.5 196.3h0M363.1 165.7h0M351.3 191.9h0M363.6 178.6h0M358.1 183.4h0M358.0 173.4h0M359.1 191.9h0M352.4 204.9h0M355.2 173.4h0M351.6 191.6h0M361.0 170.4h0M353.4 200.8h0M350.4 186.1h0M362.3 197.8h0M353.6 175.2h0M363.2 172.1h0M355.3 204.6h0M358.5 197.1h0M360.7 181.6h0M356.4 188.1h0M363.1 189.5h0M361.0 173.1h0M362.3 204.0h0M356.7 197.8h0M350.1 190.9h0M350.9 199.1h0M350.4 176.3h0M356.7 176.5h0M363.2 175.6h0M357.0 200.8h0M355.0 177.2h0M349.9 190.6h0M354.1 187.6h0M351.0 200.3h0M355.4 196.1h0M355.5 181.0h0M363.0 175.6h0M354.5 193.6h0M362.2 200.8h0M348.7 196.0h0M353.7 202.3h0M359.7 179.6h0M355.3 187.4h0M349.3 182.1h0M353.8 173.1h0M357.0 184.5h0M363.3 180.6h0M351.9 183.3h0M349.5 177.1h0M360.2 201.2h0M358.0 190.3h0M353.7 175.3h0M354.4 196.4h0M353.4 197.8h0M358.7 185.7h0M361.9 188.7h0M352.9 180.5h0M362.6 182.1h0M354.8 172.3h0M356.0 174.3h0M352.2 190.3h0M349.4 176.6h0M351.3 180.8h0M352.1 175.8h0M355.1 200.6h0M356.0 187.6h0M361.6 203.3h0M353.9 196.2h0M360.4 182.2h0M352.2 199.1h0M355.8 187.4h0M349.3 176.6h0M362.3 203.8h0M353.8 177.2h0M358.4 198.1h0M357.1 201.2h0M356.0 183.8h0M351.9 204.2h0M361.3 169.9h0M355.7 184.5h0M350.2 201.9h0M349.7 196.8h0M356.2 175.0h0M357.2 186.7h0M352.5 185.1h0M351.9 202.6h0M361.4 177.3h0M359.1 175.1h0M350.4 200.8h0M361.0 169.7h0M349.0 203.8h0M361.6 174.9h0M361.5 173.1h0M350.0 177.2h0M363.9 166.1h0M362.5 192.8h0M350.9 192.9h0M358.6 203.8h0M355.6 171.7h0M350.4 199.5h0M351.4 202.8h0M351.4 194.4h0M358.9 202.8h0M357.3 177.7h0M363.5 197.3h0M353.0 185.6h0M355.8 205.3h0M354.1 195.7h0M354.3 205.0h0M357.5 185.5h0M360.7 173.0h0M359.1 191.4h0M349.9 197.3h0M352.5 204.5h0M358.2 173.0h0M360.3 185.7h0M361.9 183.5h0M353.9 175.2h0M355.5 181.6h0M348.8 180.9h0M356.4 191.7h0M353.0 203.0h0M356.6 184.4h0M357.7 173.3h0M350.8 175.6h0M349.3 177.9h0M359.5 202.4h0M359.7 185.4h0M363.8 199.6h0M356.2 197.3h0M349.1 189.0h0M349.3 203.9h0M363.5 196.6h0M359.9 198.5h0M350.7 179.1h0M354.9 190.9h0M351.2 180.0h0M360.5 169.6h0M359.8 173.8h0M362.9 182.1h0M358.6 172.1h0M354.6 181.0h0M362.6 196.3h0M354.3 202.2h0M359.9 180.4h0M351.6 176.5h0M352.5 198.0h0M357.8 177.5h0M352.8 183.9h0M361.8 190.5h0M356.4 180.1h0M362.9 185.0h0M357.8 200.4h0M357.4 203.7h0M356.3 189.0h0M351.2 195.9h0M353.7 176.6h0M362.4 183.9h0M359.0 190.6h0M360.4 190.8h0M354.8 185.8h0M351.3 199.9h0M360.8 194.5h0M354.8 175.8h0M360.6 187.6h0M349.1 197.4h0M353.8 203.0h0M358.5 178.8h0M362.9 198.3h0M351.3 197.0h0M363.7 194.0h0M358.9 191.5h0M351.3 203.3h0M348.2 189.5h0M362.9 186.8h0M358.9 172.1h0M359.7 171.1h0M354.8 183.8h0M349.5 197.3h0M355.8 203.2h0M358.4 200.7h0M352.6 192.6h0M363.4 184.5h0M360.5 182.1h0M348.3 181.6h0M352.8 185.5h0M362.5 193.5h0M360.1 186.7h0M360.9 170.2h0M351.1 195.0h0M362.2 203.9h0M358.7 180.2h0M354.6 182.0h0M359.1 170.4h0M352.0 204.4h0M362.4 182.3h0M349.3 193.5h0M352.4 174.9h0M359.6 201.1h0M354.8 182.4h0M362.2 194.1h0M361.3 198.4h0M359.0 191.0h0M353.9 201.4h0M355.2 180.3h0M353.4 196.6h0M353.1 183.5h0M348.2 197.9h0M352.3 199.3h0M359.3 182.1h0M356.8 176.8h0M353.4 185.9h0M353.3 195.1h0M351.0 191.8h0M349.3 189.0h0M350.6 202.2h0M358.1 183.2h0M362.9 171.8h0M359.1 194.1h0M353.7 202.4h0M357.1 202.2h0M350.2 178.9h0M349.4 204.1h0M349.0 187.1h0M357.2 183.2h0M357.5 172.0h0M350.6 201.6h0M363.1 200.8h0M350.3 182.8h0M356.3 193.7h0M358.5 192.4h0M348.5 189.4h0M352.5 189.4h0M356.7 183.7h0M359.0 181.5h0M359.0 192.1h0M358.7 196.4h0M349.2 176.3h0M349.0 199.1h0M361.8 178.9h0M350.4 183.8h0M353.9 199.5h0M361.5 173.9h0M348.7 190.3h0M361.8 195.4h0M358.6 199.2h0M354.3 176.0h0M352.0 193.0h0M356.5 195.2h0M361.3 186.2h0M351.3 193.2h0M352.1 196.3h0M356.1 201.2h0M361.0 169.6h0M354.8 189.8h0M354.7 187.2h0M363.4 201.0h0M356.7 191.4h0M360.7 190.1h0M358.9 169.9h0M356.9 182.3h0M355.1 188.6h0M358.6 198.8h0M361.4 173.3h0M350.4 178.2h0M352.4 186.0h0M351.5 200.6h0M361.1 168.0h0M353.3 193.6h0M355.3 195.4h0M356.4 172.3h0M363.3 177.8h0M348.1 196.5h0M351.0 181.5h0M362.0 175.5h0M355.5 181.1h0M354.0 178.3h0M363.1 174.0h0M349.8 198.9h0M348.3 190.8h0M362.6 178.9h0M361.2 191.7h0M356.7 190.8h0M352.4 187.5h0M360.5 199.8h0M350.6 195.6h0M355.0 183.9h0M350.8 182.3h0M354.7 199.8h0M348.1 185.7h0M355.5 180.7h0M355.4 188.0h0M363.7 198.1h0M354.2 176.2h0M356.7 183.1h0M350.5 191.9h0M352.6 188.6h0M351.8 179.7h0M363.6 194.3h0M350.1 177.4h0M358.4 170.8h0M377.0 186.4h0M379.0 156.7h0M374.8 177.9h0M366.6 200.3h0M378.6 200.5h0M371.7 194.3h0M371.9 170.1h0M378.1 199.0h0M364.2 190.5h0M375.1 187.5h0M375.8 189.1h0M374.2 204.1h0M366.8 203.3h0M378.4 162.6h0M367.5 181.1h0M368.8 200.4h0M377.0 188.5h0M378.6 200.0h0M367.8 190.3h0M371.2 189.3h0M377.3 202.3h0M372.1 194.5h0M367.3 195.3h0M369.5 160.9h0M373.6 174.4h0M375.1 187.9h0M368.5 203.4h0M366.7 166.1h0M376.1 202.8h0M368.4 178.1h0M367.6 201.2h0M368.2 186.9h0M367.4 195.6h0M365.9 190.2h0M369.7 167.5h0M366.7 190.1h0M373.9 178.6h0M365.5 202.4h0M369.3 204.6h0M379.1 174.9h0M370.8 176.6h0M378.1 201.1h0M367.3 164.0h0M376.2 172.0h0M365.2 186.6h0M379.1 184.2h0M379.3 203.5h0M374.6 181.8h0M366.9 171.7h0M375.7 165.2h0M376.5 190.8h0M374.0 175.9h0M376.0 160.0h0M367.7 201.0h0M376.1 189.1h0M367.3 182.5h0M371.6 169.9h0M369.8 180.1h0M367.1 184.9h0M367.8 169.1h0M377.9 196.1h0M364.9 198.9h0M371.4 179.0h0M371.2 183.0h0M365.6 171.6h0M365.2 184.9h0M370.5 177.3h0M369.3 178.0h0M367.8 203.3h0M367.7 195.2h0M367.3 196.6h0M373.7 200.5h0M379.6 188.7h0M368.5 201.3h0M369.9 171.3h0M374.7 202.8h0M368.5 199.9h0M365.8 191.2h0M373.9 200.6h0M369.2 199.8h0M364.1 181.8h0M368.8 188.4h0M377.8 178.4h0M364.8 192.3h0M378.0 153.4h0M373.3 164.8h0M377.0 171.4h0M372.5 180.5h0M374.9 183.2h0M378.0 192.2h0M366.5 186.3h0M365.6 174.3h0M372.6 187.0h0M371.2 204.1h0M371.8 160.2h0M369.3 182.6h0M379.6 196.8h0M373.2 189.0h0M373.3 174.8h0M364.4 203.5h0M368.0 197.9h0M368.1 192.1h0M379.9 185.6h0M366.0 170.3h0M371.6 200.8h0M375.3 196.5h0M373.4 204.9h0M375.8 166.6h0M369.3 202.6h0M366.3 198.7h0M367.3 198.6h0M372.3 158.0h0M371.8 166.8h0M370.0 173.1h0M378.5 194.3h0M369.9 159.3h0M367.1 166.4h0M373.1 177.3h0M372.8 201.5h0M376.2 159.8h0M372.4 180.2h0M364.1 179.0h0M371.2 202.4h0M366.7 162.0h0M367.4 178.2h0M375.9 160.9h0M379.3 203.1h0M377.7 186.3h0M367.4 172.5h0M370.3 201.3h0M377.5 163.2h0M377.2 163.8h0M364.8 191.4h0M368.1 174.4h0M373.0 166.9h0M366.8 167.5h0M364.3 195.9h0M367.2 172.2h0M372.1 176.4h0M375.0 203.4h0M375.4 202.3h0M372.5 170.5h0M373.1 166.4h0M371.8 177.5h0M376.3 197.5h0M373.9 166.9h0M374.5 198.1h0M378.2 177.7h0M365.7 176.8h0M364.5 198.6h0M372.0 183.6h0M370.6 203.2h0M378.3 170.7h0M368.5 184.6h0M374.4 186.6h0M374.7 198.7h0M367.5 182.7h0M364.1 178.8h0M370.2 197.4h0M366.9 179.4h0M366.8 182.0h0M370.9 191.5h0M366.6 179.7h0M372.4 181.9h0M373.4 182.5h0M371.0 204.6h0M372.5 197.5h0M366.9 200.6h0M372.7 187.5h0M377.4 201.0h0M377.3 198.5h0M365.6 189.8h0M368.8 178.3h0M375.0 197.8h0M372.9 161.0h0M369.7 175.6h0M377.0 182.5h0M378.1 203.1h0M372.5 169.3h0M367.6 186.5h0M379.3 191.9h0M371.2 173.3h0M369.1 182.6h0M365.8 182.2h0M379.0 190.9h0M374.6 187.0h0M365.0 165.3h0M366.6 175.5h0M378.6 197.7h0M365.1 204.3h0M374.3 155.9h0M372.6 198.3h0M371.5 202.6h0M374.6 159.1h0M368.9 168.5h0M373.5 170.7h0M377.8 202.5h0M372.6 178.3h0M371.9 179.6h0M373.3 177.2h0M366.7 203.4h0M368.9 172.8h0M375.0 190.6h0M372.6 191.9h0M365.7 192.8h0M377.6 174.5h0M370.1 199.4h0M367.6 199.6h0M366.2 189.6h0M378.6 184.6h0M375.3 179.6h0M368.5 163.8h0M366.8 199.1h0M377.3 197.8h0M366.1 174.3h0M371.8 194.7h0M374.2 194.5h0M378.9 159.4h0M374.5 183.8h0M365.5 184.3h0M371.8 164.2h0M378.4 162.9h0M367.9 185.7h0M365.3 173.8h0M364.8 174.9h0M377.0 169.6h0M378.8 191.3h0M370.9 202.7h0M368.5 176.5h0M369.9 180.0h0M366.6 203.8h0M370.5 167.7h0M371.0 196.7h0M372.0 173.6h0M365.5 187.5h0M379.5 194.0h0M373.5 194.3h0M372.7 178.2h0M376.9 189.3h0M364.7 203.6h0M372.9 163.4h0M369.4 196.1h0M373.8 198.9h0M378.9 177.7h0M365.0 189.4h0M366.5 194.2h0M369.2 200.1h0M372.0 173.8h0M376.9 187.8h0M375.3 185.7h0M372.3 162.9h0M366.8 189.4h0M371.5 192.3h0M370.5 203.7h0M365.6 184.6h0M378.5 178.3h0M377.2 199.5h0M373.3 180.0h0M367.6 199.4h0M372.7 184.3h0M368.7 192.0h0M373.9 201.2h0M364.5 163.3h0M373.1 197.4h0M372.4 203.5h0M378.6 198.4h0M372.6 200.5h0M376.1 196.3h0M367.2 169.5h0M372.3 182.5h0M368.8 202.0h0M379.7 199.1h0M379.2 182.6h0M367.6 174.1h0M373.5 190.1h0M365.0 197.4h0M372.3 190.0h0M379.7 187.8h0M366.0 192.0h0M375.2 165.3h0M371.7 195.5h0M379.9 174.8h0M370.1 190.5h0M376.9 183.6h0M373.0 170.1h0M376.4 197.8h0M377.4 152.7h0M373.9 201.0h0M369.1 201.9h0M373.0 179.7h0M376.3 195.4h0M376.8 198.1h0M373.6 173.2h0M370.8 186.8h0M365.2 195.3h0M365.7 181.4h0M373.8 171.9h0M369.9 181.8h0M374.4 204.1h0M371.8 166.1h0M369.9 177.6h0M367.0 204.5h0M377.3 195.6h0M368.0 183.5h0M373.6 163.9h0M365.5 179.3h0M379.3 190.9h0M366.2 192.1h0M371.5 175.8h0M376.7 200.5h0M367.4 187.1h0M373.8 186.0h0M370.0 195.6h0M379.3 168.5h0M365.9 193.9h0M366.8 163.0h0M372.2 189.8h0M374.4 188.7h0M372.7 203.3h0M366.6 186.8h0M371.3 186.2h0M364.9 184.5h0M374.3 201.4h0M368.8 197.8h0M379.3 193.2h0M369.9 195.2h0M364.7 180.5h0M364.2 204.0h0M368.8 168.5h0M367.8 175.3h0M379.1 169.6h0M376.1 188.8h0M369.4 190.0h0M367.8 178.7h0M365.0 189.6h0M365.8 193.7h0M375.5 180.2h0M364.8 200.0h0M376.2 204.6h0M369.8 195.0h0M374.5 197.4h0M373.4 201.6h0M365.6 195.6h0M375.7 166.4h0M377.8 201.5h0M365.6 187.5h0M379.5 191.1h0M376.6 167.9h0M373.2 197.6h0M374.7 175.2h0M364.7 199.4h0M367.3 202.4h0M378.3 171.5h0M377.5 191.7h0M367.2 178.1h0M372.2 191.9h0M369.1 195.8h0M366.7 199.4h0M376.1 198.9h0M374.3 203.3h0M365.0 170.8h0M374.2 169.3h0M364.2 200.5h0M365.4 192.0h0M370.1 195.2h0M364.5 190.7h0M371.8 171.3h0M374.5 181.0h0M367.8 181.5h0M374.7 198.6h0M365.0 191.6h0M365.3 197.1h0M371.5 170.2h0M364.4 193.5h0M375.7 195.1h0M378.0 202.6h0M364.1 191.4h0M376.4 190.1h0M372.6 197.5h0M379.5 172.9h0M376.5 190.0h0M378.3 168.9h0M377.4 192.3h0M377.4 199.8h0M375.7 201.3h0M378.3 185.8h0M365.2 185.8h0M376.5 155.0h0M374.4 194.8h0M369.3 200.4h0M370.5 198.1h0M365.6 180.4h0M368.6 201.8h0M375.0 201.4h0M372.3 187.0h0M378.7 175.3h0M367.7 172.9h0M367.3 184.2h0M375.4 200.3h0M379.2 155.1h0M369.4 164.0h0M369.8 168.2h0M364.8 164.9h0M367.4 185.7h0M378.4 191.0h0M379.6 202.2h0M371.3 180.7h0M377.4 187.9h0M367.1 187.4h0M373.9 167.9h0M378.4 158.4h0M369.1 166.2h0M373.7 183.5h0M375.5 180.7h0M366.0 181.2h0M367.8 168.7h0M373.0 187.7h0M367.8 170.1h0M366.3 178.3h0M366.3 200.2h0M376.1 168.7h0M370.9 157.3h0M372.4 177.0h0M373.7 179.1h0M368.8 200.0h0M374.0 190.4h0M370.7 186.6h0M365.3 203.8h0M371.9 176.8h0M371.5 179.0h0M374.6 196.2h0M379.3 156.9h0M364.7 204.4h0M373.4 197.2h0M374.8 179.4h0M371.2 168.6h0M370.4 183.5h0M374.9 175.6h0M372.1 192.3h0M370.2 185.2h0M374.0 199.8h0M373.2 184.5h0M365.3 197.5h0M369.3 205.3h0M378.1 150.4h0M366.3 195.6h0M371.8 180.4h0M373.7 168.5h0M365.7 183.1h0M366.9 188.8h0M368.7 187.3h0M373.1 179.4h0M365.8 190.9h0M375.9 180.0h0M374.4 177.9h0M376.5 203.3h0M367.5 200.1h0M372.2 181.1h0M377.5 199.9h0M370.5 162.4h0M372.6 184.8h0M370.1 187.0h0M375.4 179.7h0M373.6 188.7h0M375.6 162.5h0M379.4 178.6h0M376.1 170.1h0M372.6 176.3h0M367.7 175.2h0M371.7 171.1h0M379.0 182.2h0M379.7 173.5h0M365.8 168.7h0M374.3 170.0h0M364.3 166.1h0M365.5 171.8h0M369.5 170.6h0M365.4 181.9h0M373.9 202.1h0M371.5 201.6h0M369.7 192.9h0M377.3 195.2h0M369.2 166.5h0M367.6 202.0h0M368.1 184.4h0M364.3 199.7h0M375.1 196.5h0M373.8 190.9h0M370.2 180.9h0M376.7 180.7h0M368.9 197.3h0M367.1 171.7h0M364.5 176.6h0M366.6 200.3h0M370.7 170.1h0M368.9 189.9h0M370.6 200.5h0M364.8 198.7h0M364.4 193.8h0M374.3 195.8h0M370.2 185.6h0M376.2 203.8h0M377.2 204.8h0M369.3 196.4h0M370.8 198.3h0M375.8 175.6h0M365.9 180.4h0M376.5 189.7h0M369.4 184.0h0M367.6 172.7h0M371.0 173.4h0M373.9 199.5h0M377.1 194.3h0M376.8 194.6h0M364.5 200.4h0M366.4 176.0h0M369.0 199.9h0M364.9 177.9h0M370.7 161.4h0M370.7 186.3h0M371.9 159.7h0M369.1 161.1h0M367.5 197.9h0M372.9 182.4h0M364.8 203.6h0M364.6 196.1h0M375.5 163.7h0M366.8 182.0h0M366.3 199.4h0M367.6 202.8h0M372.7 177.7h0M367.5 164.5h0M374.1 182.4h0M373.7 186.8h0M370.0 202.4h0M378.7 180.0h0M375.7 185.2h0M366.0 177.4h0M367.3 166.8h0M365.6 171.2h0M374.9 190.0h0M366.8 178.2h0M370.7 179.5h0M365.3 164.9h0M377.8 203.1h0M375.5 192.2h0M374.2 168.7h0M374.7 194.1h0M369.3 169.5h0M366.7 204.4h0M364.3 168.8h0M370.1 186.4h0M378.3 186.0h0M364.4 167.9h0M366.8 168.4h0M371.9 167.6h0M365.1 179.1h0M368.3 192.7h0M375.6 193.9h0M367.1 193.1h0M368.5 181.2h0M368.1 160.4h0M367.0 193.6h0M376.6 165.0h0M379.1 201.5h0M372.9 193.6h0M367.7 169.1h0M367.5 201.2h0M374.6 187.0h0M375.1 187.7h0M376.7 159.8h0M366.0 191.0h0M366.9 190.9h0M369.0 173.1h0M370.4 198.1h0M376.7 165.8h0M365.2 179.6h0M368.4 176.5h0M365.7 180.3h0M376.5 180.9h0M374.9 177.1h0M376.6 169.0h0M368.7 166.4h0M371.9 186.4h0M378.0 183.0h0M364.3 188.7h0M376.4 161.7h0M375.9 198.0h0M370.5 188.0h0M376.0 192.5h0M375.7 196.1h0M366.6 164.1h0M379.4 185.0h0M378.9 181.7h0M367.7 166.2h0M379.2 191.5h0M372.2 204.3h0M371.6 186.4h0M376.0 184.2h0M378.5 202.2h0M367.7 192.7h0M365.7 175.5h0M377.1 171.5h0M370.6 195.3h0M372.3 195.1h0M371.2 159.5h0M377.8 183.6h0M372.6 188.9h0M374.8 184.7h0M375.9 176.0h0M364.0 169.6h0M372.5 202.4h0M373.2 193.9h0M365.5 181.2h0M366.4 197.9h0M365.0 189.3h0M370.1 177.8h0M376.0 156.2h0M367.6 180.4h0M377.7 177.2h0M365.0 198.8h0M369.1 182.4h0M367.4 202.3h0M379.2 179.0h0M366.4 179.2h0M377.3 192.9h0M371.8 176.1h0M367.9 192.3h0M370.2 162.6h0M365.9 188.0h0M373.2 176.7h0M374.2 181.4h0M370.6 202.1h0M376.3 181.6h0M375.9 162.7h0M374.3 166.0h0M375.6 178.3h0M370.4 171.2h0M366.2 189.0h0M371.9 188.5h0M370.9 175.4h0M366.1 187.8h0M374.7 200.5h0M370.6 178.6h0M374.3 170.6h0M366.8 204.3h0M367.4 170.7h0M365.3 194.4h0M378.3 187.2h0M374.6 194.7h0M368.5 173.9h0M364.7 163.4h0M368.9 197.2h0M376.1 202.2h0M378.2 176.0h0M366.4 189.8h0M378.6 204.3h0M366.9 183.8h0M364.5 174.0h0M365.9 184.6h0M364.3 205.1h0M367.5 189.9h0M375.9 156.6h0M371.2 188.5h0M376.3 172.0h0M365.3 195.8h0M375.6 166.7h0M366.0 197.6h0M368.7 162.9h0M378.8 189.2h0M375.3 172.1h0M375.3 191.5h0M373.8 172.2h0M369.4 174.1h0M373.5 186.9h0M370.4 178.6h0M376.3 183.4h0M374.3 181.9h0M378.0 156.2h0M377.1 191.4h0M377.1 203.7h0M365.4 198.0h0M364.3 179.8h0M369.6 183.7h0M379.0 174.1h0M373.2 171.9h0M372.7 192.7h0M376.9 179.0h0M373.6 172.1h0M365.6 192.5h0M371.1 198.3h0M377.6 193.7h0M376.6 162.7h0M364.9 198.4h0M380.0 200.6h0M371.8 199.3h0M368.2 178.8h0M370.4 204.5h0M379.0 172.6h0M378.1 174.3h0M369.2 174.0h0M373.7 158.4h0M365.0 199.6h0M376.3 191.3h0M365.1 204.7h0M375.0 176.5h0M368.6 194.3h0M366.2 184.6h0M366.1 180.6h0M379.5 201.7h0M367.2 185.5h0M371.0 198.8h0M366.2 189.1h0M371.3 196.0h0M376.8 186.6h0M367.6 170.9h0M375.0 199.3h0M369.2 166.8h0M365.8 181.7h0M376.7 199.3h0M369.1 169.3h0M373.7 201.4h0M379.1 166.7h0M375.1 198.1h0M368.9 189.8h0M373.3 191.8h0M375.6 178.8h0M367.1 184.8h0M379.2 174.6h0M367.3 176.2h0M364.5 189.8h0M372.0 161.9h0M371.1 176.4h0M366.2 189.0h0M371.2 176.2h0M368.0 170.4h0M376.7 174.2h0M371.4 203.6h0M371.9 190.8h0M366.1 200.7h0M379.0 168.3h0M367.7 179.1h0M372.8 203.8h0M376.0 157.0h0M371.8 189.5h0M368.7 170.2h0M373.8 168.5h0M375.0 174.0h0M366.0 201.5h0M367.7 190.6h0M366.6 192.6h0M364.3 183.2h0M373.4 158.3h0M380.0 190.4h0M368.0 181.6h0M378.9 159.8h0M369.7 189.8h0M378.4 175.6h0M365.3 194.9h0M368.7 197.3h0M377.3 174.7h0M378.3 193.3h0M376.5 198.8h0M374.4 193.7h0M368.5 201.4h0M379.7 177.7h0M372.7 161.3h0M376.8 170.0h0M369.9 191.3h0M378.9 196.2h0M373.5 204.3h0M374.9 181.5h0M366.1 167.4h0M370.1 200.0h0M365.4 188.0h0M369.2 184.5h0M372.6 197.7h0M368.2 170.0h0M364.1 197.8h0M370.4 189.6h0M375.7 184.9h0M369.6 169.4h0M376.1 199.4h0M369.7 164.4h0M372.3 202.5h0M368.4 168.5h0M365.2 168.3h0M376.1 178.9h0M371.7 197.9h0M376.3 173.7h0M376.2 187.7h0M376.1 195.4h0M369.6 170.2h0M368.3 171.3h0M367.3 190.4h0M371.0 187.4h0M373.1 195.8h0M377.5 159.1h0M380.0 188.2h0M375.2 198.0h0M372.6 173.0h0M368.2 186.5h0M372.8 195.7h0M368.1 167.8h0M377.7 192.1h0M367.3 169.4h0M370.1 188.6h0M367.3 185.8h0M367.2 181.5h0M375.8 162.3h0M366.9 174.2h0M368.7 191.1h0M364.6 190.1h0M378.4 186.3h0M378.2 200.2h0M369.5 168.3h0M378.6 182.0h0M367.3 177.0h0M367.7 184.0h0M372.4 205.1h0M367.1 184.9h0M378.3 154.7h0M379.5 169.9h0M365.8 198.9h0M370.7 182.1h0M370.3 183.6h0M379.8 173.5h0M379.7 196.8h0M364.9 164.2h0M379.2 151.4h0M373.9 199.0h0M371.0 201.6h0M370.5 183.8h0M377.4 179.8h0M365.8 187.3h0M369.9 192.2h0M365.4 175.8h0M369.9 169.3h0M376.4 186.8h0M377.0 197.0h0M366.0 185.0h0M367.6 196.2h0M374.8 170.4h0M366.5 193.4h0M364.7 199.2h0M377.6 176.1h0M364.3 185.9h0M378.0 161.8h0M373.1 195.3h0M369.8 163.7h0M368.4 201.3h0M369.8 190.8h0M378.1 186.4h0M372.8 167.8h0M366.1 186.9h0M372.5 175.3h0M368.6 191.4h0M378.2 191.7h0M366.3 184.6h0M371.4 182.7h0M364.3 190.1h0M367.8 187.7h0M374.9 168.3h0M373.3 199.3h0M378.5 203.5h0M366.2 194.0h0M370.9 169.2h0M365.5 200.9h0M374.7 188.4h0M365.5 194.6h0M378.6 166.6h0M371.3 162.2h0M372.1 203.8h0M369.4 198.2h0M369.9 181.0h0M377.7 199.2h0M375.7 183.9h0M369.7 168.2h0M376.7 197.5h0M369.6 171.7h0M365.2 203.1h0M367.3 193.7h0M370.3 174.0h0M370.6 192.3h0M366.5 204.6h0M374.8 174.8h0M367.5 201.1h0M373.9 190.8h0M371.9 192.5h0M373.9 162.3h0M378.1 170.0h0M374.9 156.3h0M373.3 186.7h0M374.5 165.0h0M371.8 181.1h0M379.9 198.9h0M376.7 203.0h0M366.3 195.1h0M366.2 185.4h0M370.5 178.6h0M378.6 189.9h0M366.1 168.3h0M367.5 202.5h0M380.0 176.0h0M375.5 173.3h0M372.2 191.7h0M366.4 183.3h0M364.5 178.0h0M368.9 169.5h0M366.7 189.3h0M377.9 160.6h0M371.8 200.0h0M371.6 179.3h0M373.3 165.8h0M371.4 203.0h0M367.5 192.5h0M375.3 204.3h0M375.4 203.1h0M378.4 164.6h0M371.3 180.8h0M365.9 178.8h0M379.3 191.1h0M364.2 165.4h0M366.3 186.9h0M374.9 169.7h0M377.5 191.4h0M379.0 170.4h0M373.0 194.5h0M368.0 162.9h0M364.4 201.2h0M375.3 167.7h0M373.8 187.0h0M365.7 171.9h0M375.5 190.4h0M379.1 202.9h0M366.7 189.9h0M373.1 178.8h0M370.2 187.9h0M373.3 178.1h0M365.7 182.0h0M378.2 204.3h0M368.3 196.3h0M373.8 185.0h0M367.4 189.0h0M366.6 176.0h0M379.2 167.8h0M367.8 190.4h0M379.2 199.2h0M377.5 185.0h0M372.4 201.1h0M372.5 201.5h0M364.4 169.2h0M375.9 202.3h0M374.5 195.7h0M372.9 180.1h0M376.7 189.9h0M371.0 189.5h0M369.6 176.7h0M375.4 168.7h0M371.4 203.0h0M373.2 176.8h0M366.2 176.1h0M366.9 172.1h0M366.6 202.9h0M376.5 194.5h0M379.9 197.2h0M379.5 173.2h0M372.3 164.4h0M376.2 175.5h0M365.7 197.2h0M368.8 161.7h0M378.9 172.7h0M368.3 179.2h0M366.3 179.3h0M370.4 170.5h0M375.9 193.9h0M379.8 175.7h0M364.5 200.0h0M373.7 162.2h0M377.1 174.9h0M376.7 199.2h0M378.5 191.0h0M373.9 186.8h0M377.3 195.6h0M370.0 165.6h0M372.9 181.3h0M372.3 199.6h0M370.6 202.0h0M370.7 174.9h0M374.9 202.4h0M366.2 194.6h0M377.0 172.4h0M374.9 204.0h0M366.9 182.4h0M369.1 175.9h0M377.2 187.9h0M370.3 177.0h0M377.3 202.4h0M369.9 178.5h0M379.9 192.3h0M369.8 184.7h0M379.7 166.0h0M369.7 174.6h0M370.2 177.9h0M366.5 178.8h0M376.2 204.3h0M365.1 162.5h0M376.1 173.4h0M371.5 183.8h0M377.5 200.3h0M373.4 169.4h0M379.0 194.3h0M371.7 200.4h0M367.3 199.4h0M378.6 184.8h0M378.1 203.9h0M377.1 194.1h0M373.1 175.7h0M367.8 187.3h0M364.2 196.9h0M376.7 197.9h0M374.1 202.6h0M370.6 202.5h0M371.7 167.7h0M376.2 171.3h0M367.4 162.8h0M364.3 183.8h0M365.4 193.3h0M379.8 181.2h0M367.0 163.4h0M379.6 193.1h0M364.4 166.0h0M374.3 172.7h0M371.9 201.0h0M371.4 193.5h0M364.0 188.5h0M372.6 184.3h0M373.4 184.8h0M377.0 177.8h0M377.0 197.7h0M376.6 195.1h0M364.8 197.0h0M377.8 203.6h0M371.9 188.6h0M377.6 184.5h0M378.3 201.6h0M365.2 202.8h0M370.1 191.9h0M371.6 164.9h0M373.1 196.3h0M378.9 169.4h0M364.5 192.0h0M373.1 200.3h0M371.4 190.4h0M365.9 194.7h0M374.5 175.9h0M375.2 166.6h0M365.6 171.7h0M365.5 182.4h0M371.3 201.9h0M379.2 179.3h0M377.0 163.1h0M374.2 188.4h0M369.9 158.6h0M379.1 171.1h0M371.1 182.4h0M366.0 191.3h0M373.1 170.5h0M365.3 181.8h0M377.6 190.1h0M371.5 188.0h0M375.4 177.8h0M377.3 189.7h0M376.3 202.9h0M376.3 156.1h0M376.2 157.0h0M369.7 181.1h0M364.4 175.4h0M367.7 202.0h0M373.9 203.4h0M368.6 182.7h0M379.7 195.2h0M368.6 192.3h0M374.9 187.6h0M365.8 169.7h0M370.8 204.7h0M376.5 180.5h0M378.4 171.0h0M365.0 200.2h0M376.5 197.4h0M379.4 203.5h0M364.3 201.1h0M376.7 164.8h0M364.6 192.5h0M374.4 180.4h0M379.8 174.4h0M365.2 188.5h0M375.5 163.6h0M365.6 177.7h0M372.8 197.0h0M369.1 197.5h0M372.4 193.0h0M375.7 203.7h0M366.8 204.5h0M368.4 202.6h0M365.7 177.9h0M370.0 174.1h0M365.2 181.4h0M364.4 181.5h0M375.3 191.3h0M374.8 203.0h0M364.4 182.2h0M374.0 199.8h0M374.3 162.9h0M369.1 161.4h0M368.3 173.8h0M367.3 167.2h0M373.1 204.8h0M365.9 194.4h0M372.3 165.4h0M370.0 186.7h0M371.7 173.9h0M375.7 181.3h0M367.3 201.5h0M368.6 204.8h0M371.2 171.9h0M368.8 181.2h0M374.5 186.6h0M366.0 202.3h0M378.5 187.9h0M379.0 172.9h0M365.8 181.0h0M371.3 204.5h0M369.1 182.7h0M369.1 190.6h0M366.9 181.4h0M372.1 157.6h0M376.5 191.3h0M367.4 190.0h0M376.2 160.4h0M375.6 196.8h0M373.6 187.6h0M378.0 200.9h0M373.1 194.8h0M376.4 196.7h0M379.2 158.2h0M377.4 184.8h0M372.7 168.1h0M368.3 185.5h0M373.2 188.0h0M375.1 158.2h0M375.1 179.6h0M369.9 187.9h0M375.6 191.1h0M368.9 167.8h0M365.8 184.2h0M379.2 201.0h0M378.5 198.8h0M370.3 201.5h0M372.3 205.1h0M364.2 166.8h0M379.1 164.2h0M369.2 173.8h0M373.3 182.3h0M365.9 164.6h0M366.0 180.4h0M372.9 172.5h0M374.3 199.8h0M379.6 192.1h0M374.7 183.0h0M373.3 190.6h0M373.2 174.7h0M368.0 204.6h0M369.5 180.2h0M373.5 168.3h0M366.0 162.4h0M368.4 181.9h0M366.4 175.1h0M364.5 201.3h0M370.7 174.6h0M369.5 170.7h0M372.4 197.2h0M369.9 198.0h0M365.0 195.5h0M377.5 163.6h0M364.6 174.2h0M364.3 164.4h0M364.3 184.8h0M376.3 194.5h0M369.4 184.5h0M379.0 177.4h0M368.6 170.8h0M370.1 167.9h0M374.7 204.9h0M379.0 195.9h0M378.4 193.7h0M369.5 189.1h0M374.4 166.9h0M364.9 180.8h0M372.6 176.8h0M373.8 186.9h0M368.0 166.3h0M374.0 196.2h0M368.5 201.5h0M375.9 174.7h0M365.0 180.6h0M371.8 190.0h0M379.1 180.5h0M373.6 172.0h0M378.9 180.1h0M379.0 180.2h0M375.8 179.7h0M376.5 196.6h0M375.3 189.1h0M371.7 171.9h0M376.3 164.8h0M376.2 188.2h0M377.5 188.5h0M364.1 176.8h0M364.5 199.9h0M370.9 186.8h0M375.0 187.3h0M370.2 178.9h0M369.6 187.2h0M364.3 196.0h0M373.2 157.4h0M379.2 171.4h0M373.4 173.7h0M367.6 192.1h0M373.7 189.1h0M369.5 162.9h0M369.4 178.1h0M364.8 199.5h0M375.0 199.4h0M364.0 181.0h0M377.1 197.7h0M364.1 166.3h0M376.1 174.6h0M369.1 189.9h0M369.1 179.7h0M371.3 185.7h0M366.7 198.9h0M367.0 200.0h0M375.0 176.7h0M378.3 178.2h0M366.0 196.1h0M368.0 191.0h0M379.7 162.5h0M374.5 168.6h0M378.5 201.9h0M385.6 184.8h0M391.9 200.2h0M390.9 142.4h0M391.4 142.9h0M387.1 193.4h0M384.2 170.6h0M385.3 183.5h0M382.0 151.2h0M381.1 170.2h0M385.6 150.6h0M393.4 178.6h0M384.8 195.9h0M388.4 174.7h0M392.8 197.2h0M381.5 192.7h0M385.4 197.2h0M385.4 197.6h0M390.9 152.6h0M394.2 162.5h0M380.1 201.6h0M388.1 196.1h0M380.0 188.0h0M384.4 198.5h0M385.9 194.4h0M384.1 151.7h0M386.1 184.3h0M385.3 172.3h0M387.4 153.2h0M383.6 171.7h0M385.7 193.1h0M383.1 175.0h0M386.2 202.1h0M390.8 185.3h0M380.4 199.8h0M396.0 190.0h0M382.1 204.6h0M392.3 166.4h0M384.2 192.4h0M381.0 198.3h0M392.2 149.5h0M388.5 187.1h0M383.8 176.0h0M385.6 189.7h0M393.5 194.9h0M390.8 193.3h0M384.0 193.4h0M383.4 177.4h0M388.5 196.3h0M381.7 173.6h0M383.3 203.5h0M392.5 152.0h0M391.1 193.2h0M380.4 198.4h0M386.6 169.1h0M385.8 169.9h0M391.3 174.3h0M386.3 196.8h0M383.3 180.3h0M393.1 177.4h0M382.8 194.3h0M389.8 177.9h0M384.1 192.3h0M389.3 188.2h0M382.5 184.8h0M393.7 180.3h0M385.4 187.8h0M390.4 179.0h0M391.5 202.0h0M386.9 180.6h0M388.1 174.7h0M381.7 185.0h0M388.1 170.3h0M387.9 178.1h0M394.1 168.7h0M385.1 204.4h0M382.2 181.5h0M386.0 195.9h0M392.1 177.2h0M380.2 164.8h0M380.5 171.4h0M396.0 183.9h0M388.3 180.6h0M391.0 164.5h0M386.9 144.3h0M382.8 159.1h0M390.1 179.6h0M383.5 203.4h0M386.7 195.8h0M383.0 196.5h0M394.3 193.1h0M385.8 148.5h0M390.6 182.2h0M382.6 168.4h0M389.2 197.1h0M384.3 173.7h0M381.7 181.0h0M384.6 167.6h0M380.9 176.4h0M389.1 170.9h0M388.3 199.5h0M393.3 162.1h0M380.4 170.4h0M386.0 180.3h0M395.7 158.1h0M385.1 180.9h0M380.8 181.2h0M392.4 147.7h0M381.3 178.4h0M390.9 200.1h0M387.8 175.0h0M393.8 203.5h0M387.6 156.5h0M390.3 201.9h0M383.7 169.3h0M395.7 182.2h0M383.0 181.6h0M393.0 182.2h0M390.4 143.0h0M387.1 197.2h0M385.5 150.1h0M381.2 186.7h0M392.3 146.2h0M383.3 189.0h0M393.7 201.6h0M394.0 179.3h0M383.0 152.9h0M384.2 182.7h0M390.9 190.3h0M391.8 178.5h0M380.7 155.7h0M392.9 171.9h0M392.7 192.5h0M389.4 198.2h0M394.0 167.6h0M395.6 166.5h0M382.9 172.1h0M394.9 179.6h0M393.5 184.3h0M388.8 178.6h0M381.6 191.5h0M395.3 166.4h0M391.4 194.5h0M385.4 180.9h0M384.7 168.1h0M395.1 191.5h0M383.3 172.5h0M392.8 174.9h0M386.5 152.8h0M390.6 140.2h0M392.8 197.5h0M381.4 202.7h0M383.8 178.2h0M381.6 169.2h0M385.9 177.8h0M382.0 181.5h0M394.4 176.8h0M392.2 189.9h0M388.7 186.2h0M382.7 191.1h0M383.0 168.7h0M388.9 200.5h0M394.3 144.5h0M394.8 161.5h0M394.7 193.3h0M384.7 170.1h0M390.7 188.4h0M387.7 187.7h0M388.3 182.5h0M390.3 171.7h0M384.3 165.8h0M383.9 200.2h0M386.1 180.6h0M383.4 189.6h0M393.5 148.6h0M385.3 161.5h0M380.5 197.6h0M389.6 179.2h0M395.7 153.8h0M388.2 172.4h0M384.1 188.9h0M394.2 204.3h0M389.5 183.2h0M389.4 182.0h0M386.8 166.3h0M391.9 169.4h0M390.2 188.0h0M388.2 173.9h0M384.9 202.8h0M392.1 202.7h0M394.4 149.8h0M381.3 201.1h0M380.4 195.4h0M381.4 183.2h0M393.7 190.2h0M389.3 193.0h0M385.8 165.3h0M395.5 174.5h0M395.0 184.4h0M386.2 165.7h0M385.4 191.6h0M388.0 168.7h0M388.9 157.8h0M393.1 165.4h0M393.8 183.1h0M384.1 171.6h0M393.4 181.9h0M381.1 198.2h0M383.0 195.0h0M386.2 186.3h0M381.1 176.1h0M385.1 157.7h0M380.4 165.0h0M392.5 154.3h0M390.3 186.4h0M383.8 189.1h0M387.8 164.5h0M385.7 169.2h0M392.7 167.1h0M384.3 204.8h0M383.4 204.5h0M392.0 167.2h0M391.6 204.1h0M390.8 149.8h0M380.9 154.4h0M380.6 188.9h0M394.7 179.4h0M395.5 177.4h0M382.9 165.9h0M387.3 197.9h0M386.9 164.8h0M384.1 183.4h0M381.1 199.1h0M383.6 170.8h0M395.3 190.8h0M386.5 185.8h0M383.0 164.8h0M381.1 192.1h0M389.8 193.9h0M393.1 178.2h0M383.6 178.0h0M391.6 163.5h0M380.3 190.2h0M381.8 163.7h0M389.7 190.0h0M381.3 179.0h0M386.9 159.0h0M387.2 182.2h0M380.4 192.2h0M392.8 160.0h0M391.3 201.1h0M392.2 197.1h0M389.9 172.5h0M384.1 178.2h0M390.6 172.8h0M388.6 198.9h0M389.4 197.7h0M391.6 178.7h0M384.2 146.2h0M394.4 187.0h0M386.8 189.1h0M384.6 160.7h0M387.9 182.3h0M395.5 170.0h0M390.8 178.8h0M381.3 174.1h0M384.0 165.7h0M390.2 142.0h0M395.2 189.2h0M388.0 186.7h0M388.1 177.0h0M380.0 200.0h0M382.2 182.2h0M392.5 161.6h0M383.5 191.8h0M388.0 187.5h0M390.4 177.0h0M389.0 197.4h0M391.8 169.0h0M389.8 200.6h0M384.5 153.5h0M388.8 181.7h0M390.6 182.3h0M381.0 164.4h0M395.4 192.9h0M389.4 202.4h0M395.5 143.6h0M393.5 200.7h0M380.4 170.0h0M381.2 158.6h0M393.4 165.6h0M383.5 185.2h0M394.4 176.4h0M395.6 175.8h0M391.9 175.9h0M389.4 175.8h0M386.5 193.8h0M394.3 173.0h0M389.5 185.8h0M381.3 201.6h0M391.1 190.1h0M384.8 188.9h0M381.9 199.8h0M385.4 197.4h0M393.4 193.9h0M391.4 168.3h0M385.6 171.9h0M392.8 171.7h0M388.4 170.9h0M384.9 167.4h0M381.4 191.8h0M390.4 176.8h0M383.6 187.0h0M387.5 170.8h0M383.4 184.9h0M389.5 177.9h0M380.8 161.6h0M384.0 195.8h0M389.5 171.5h0M393.2 198.8h0M391.2 182.3h0M384.2 202.5h0M385.8 186.9h0M387.5 186.1h0M395.0 165.1h0M382.5 202.6h0M392.2 192.3h0M381.6 194.2h0M393.1 182.8h0M381.6 181.7h0M385.6 166.8h0M385.4 180.5h0M390.1 190.2h0M384.6 195.0h0M392.5 154.9h0M395.7 185.2h0M391.0 168.3h0M380.3 172.5h0M381.4 164.8h0M392.5 192.0h0M386.0 189.5h0M387.6 184.5h0M393.2 197.5h0M390.9 162.4h0M387.9 178.2h0M384.4 171.0h0M381.1 182.5h0M381.6 186.0h0M380.7 172.6h0M385.9 168.1h0M395.0 185.9h0M381.6 167.2h0M387.7 203.4h0M389.3 197.3h0M394.9 185.9h0M395.9 170.6h0M390.0 186.9h0M388.7 203.0h0M390.8 173.1h0M386.4 159.8h0M392.1 184.5h0M393.0 165.4h0M383.1 155.2h0M387.9 176.2h0M384.5 202.6h0M381.8 203.6h0M386.2 194.7h0M389.1 180.1h0M387.7 176.1h0M385.6 196.0h0M388.3 184.3h0M387.5 151.5h0M380.4 197.9h0M390.5 153.9h0M392.2 196.1h0M386.8 166.8h0M389.9 173.7h0M383.5 191.1h0M391.2 199.4h0M386.7 146.1h0M389.7 188.7h0M390.2 197.2h0M386.4 202.7h0M382.7 175.3h0M394.9 183.6h0M392.9 198.1h0M385.6 195.4h0M385.5 196.1h0M393.2 158.7h0M391.6 144.3h0M384.0 199.8h0M392.8 202.7h0M384.9 203.0h0M393.1 174.2h0M381.6 197.5h0M395.0 168.8h0M385.3 162.4h0M394.5 158.6h0M383.6 169.1h0M385.5 156.9h0M383.7 162.8h0M388.8 204.1h0M383.7 157.5h0M390.3 154.5h0M390.4 190.9h0M391.8 194.1h0M386.7 156.0h0M386.3 154.3h0M383.6 203.5h0M387.2 177.1h0M387.9 167.9h0M384.0 176.0h0M388.4 180.4h0M382.5 170.6h0M386.2 194.7h0M384.7 183.9h0M388.0 166.3h0M392.0 155.7h0M380.4 171.1h0M386.5 180.2h0M381.4 148.1h0M385.2 189.2h0M391.3 148.2h0M389.6 182.7h0M391.0 202.0h0M392.6 170.3h0M385.0 187.2h0M385.5 202.0h0M382.7 188.8h0M384.8 153.5h0M389.3 191.7h0M390.2 149.9h0M390.9 167.7h0M388.0 174.5h0M380.7 163.1h0M389.8 195.2h0M393.2 169.5h0M393.7 168.1h0M380.3 155.3h0M385.5 194.6h0M387.3 172.4h0M389.4 189.5h0M392.3 179.2h0M380.4 199.5h0M394.2 192.0h0M386.4 154.0h0M395.4 203.6h0M392.2 200.1h0M385.8 150.1h0M395.1 191.5h0M386.9 157.4h0M381.5 203.6h0M382.9 185.8h0M388.0 167.2h0M391.7 184.9h0M384.5 170.5h0M394.9 182.7h0M383.7 203.9h0M395.6 179.1h0M389.8 187.8h0M391.3 192.5h0M385.7 174.5h0M387.9 187.9h0M385.1 165.8h0M387.5 169.1h0M393.1 185.8h0M391.8 193.9h0M392.8 197.8h0M386.1 198.5h0M384.3 195.1h0M388.9 141.2h0M395.1 189.9h0M390.8 162.5h0M383.3 188.6h0M392.3 191.4h0M393.9 201.1h0M391.3 171.2h0M391.1 159.6h0M390.3 190.8h0M388.5 188.6h0M385.8 174.6h0M391.0 159.1h0M386.2 181.0h0M382.5 149.5h0M394.1 178.6h0M394.5 181.2h0M381.8 198.4h0M392.5 202.6h0M389.4 199.0h0M384.8 182.4h0M384.8 182.7h0M382.1 164.5h0M386.6 193.3h0M383.0 198.5h0M390.2 153.6h0M395.0 164.9h0M384.3 174.1h0M383.7 196.9h0M387.8 190.3h0M381.6 190.1h0M382.0 155.9h0M382.5 205.3h0M392.9 194.0h0M387.5 181.1h0M392.2 149.6h0M393.0 194.2h0M384.4 177.2h0M382.5 185.8h0M380.9 202.6h0M391.3 199.9h0M388.0 203.4h0M393.3 150.0h0M390.0 180.8h0M382.4 191.8h0M387.2 166.2h0M386.0 204.3h0M381.7 198.2h0M382.0 177.8h0M390.8 198.5h0M390.0 190.6h0M386.2 159.7h0M381.8 173.0h0M383.7 175.7h0M386.5 167.1h0M391.4 170.8h0M386.1 202.4h0M391.6 203.1h0M385.3 200.9h0M389.1 168.1h0M391.5 160.4h0M386.2 188.8h0M386.9 203.4h0M380.8 187.9h0M381.6 181.2h0M390.4 161.6h0M381.4 182.9h0M382.7 195.0h0M387.2 146.8h0M394.7 187.0h0M395.9 138.7h0M392.0 195.0h0M385.3 153.3h0M382.5 185.5h0M386.0 191.3h0M380.9 159.8h0M384.1 196.7h0M390.8 188.6h0M389.4 178.8h0M394.7 195.6h0M384.6 204.1h0M386.1 148.6h0M391.3 185.7h0M383.6 204.0h0M383.4 196.0h0M395.6 177.6h0M385.1 201.1h0M393.7 155.4h0M385.9 196.8h0M394.2 162.2h0M392.9 192.2h0M384.2 170.4h0M380.7 202.9h0M390.1 185.1h0M385.0 194.9h0M384.8 177.2h0M391.0 178.1h0M386.0 177.5h0M384.0 164.9h0M393.5 172.1h0M392.3 187.2h0M392.5 189.6h0M384.7 198.3h0M395.6 200.9h0M387.6 199.8h0M384.6 196.9h0M382.0 159.9h0M392.6 194.6h0M390.8 165.5h0M394.8 188.5h0M381.3 186.6h0M380.8 182.3h0M394.0 169.8h0M383.6 195.6h0M384.8 180.2h0M381.8 162.1h0M387.5 186.5h0M383.0 171.4h0M380.8 177.1h0M395.2 182.0h0M382.0 178.7h0M385.4 149.2h0M382.9 197.4h0M392.8 189.4h0M392.1 177.4h0M394.5 169.9h0M387.0 192.2h0M392.2 193.8h0M392.6 200.2h0M393.1 203.8h0M382.2 184.6h0M387.3 154.4h0M389.9 163.7h0M384.4 171.6h0M392.1 200.4h0M389.6 194.1h0M392.5 161.6h0M391.4 178.6h0M386.4 149.7h0M381.7 190.2h0M383.5 199.4h0M387.4 141.6h0M395.1 169.0h0M383.0 167.4h0M392.7 159.2h0M383.7 173.9h0M388.8 180.2h0M394.2 184.1h0M386.6 195.4h0M383.2 171.0h0M384.5 203.0h0M391.5 186.0h0M390.2 188.3h0M389.5 149.9h0M383.1 202.6h0M391.6 191.5h0M393.1 160.1h0M386.8 184.7h0M384.0 182.5h0M389.2 177.9h0M392.2 154.3h0M386.7 177.9h0M388.4 177.1h0M391.5 185.1h0M394.5 174.5h0M381.1 184.7h0M390.5 183.1h0M380.9 197.2h0M383.9 165.5h0M390.4 185.9h0M382.5 178.8h0M390.1 149.1h0M392.1 199.3h0M390.4 204.0h0M392.8 177.1h0M389.2 173.8h0M387.5 151.5h0M395.7 162.0h0M385.0 158.8h0M382.5 158.9h0M387.4 179.0h0M388.8 194.9h0M385.3 181.6h0M395.1 158.2h0M384.8 166.8h0M382.7 152.7h0M388.0 161.1h0M383.2 196.1h0M389.5 187.5h0M384.2 186.6h0M385.4 183.1h0M390.5 164.0h0M390.3 176.9h0M380.7 196.0h0M388.5 150.5h0M388.5 181.6h0M385.2 191.4h0M385.4 158.5h0M389.1 195.8h0M392.1 168.5h0M392.1 139.6h0M393.2 195.5h0M387.9 189.2h0M383.7 156.1h0M391.2 169.1h0M382.3 172.1h0M380.3 166.9h0M382.0 176.2h0M380.8 199.8h0M386.2 189.0h0M385.8 155.6h0M395.3 142.6h0M393.3 178.7h0M392.9 161.4h0M391.3 161.8h0M382.6 172.1h0M382.2 171.0h0M392.7 154.1h0M391.8 162.3h0M380.7 199.4h0M386.1 164.5h0M383.9 158.1h0M388.3 151.6h0M386.7 196.8h0M386.9 201.6h0M389.4 177.3h0M392.0 179.0h0M394.0 143.6h0M387.2 202.1h0M385.5 158.7h0M393.4 193.8h0M380.3 197.5h0M391.9 182.8h0M380.8 187.1h0M384.3 172.9h0M394.6 168.8h0M384.5 170.9h0M380.7 195.4h0M381.8 197.6h0M395.2 148.1h0M386.0 197.0h0M385.4 148.6h0M394.3 148.2h0M393.3 198.4h0M383.6 184.6h0M381.7 200.0h0M394.1 164.1h0M385.6 203.9h0M386.8 197.4h0M382.2 182.9h0M386.0 192.3h0M394.1 189.4h0M394.3 138.4h0M382.7 185.4h0M389.7 174.5h0M382.0 190.8h0M387.5 196.5h0M392.1 159.5h0M383.7 180.9h0M388.9 146.9h0M382.8 181.7h0M384.0 168.3h0M389.7 162.9h0M384.9 172.5h0M383.1 159.7h0M384.7 184.2h0M391.7 192.6h0M386.1 170.9h0M389.1 196.6h0M383.8 173.5h0M389.4 156.7h0M380.6 187.9h0M380.8 195.3h0M383.1 163.7h0M392.2 199.3h0M382.5 175.0h0M386.2 180.5h0M395.9 199.3h0M383.3 200.1h0M382.1 146.7h0M384.0 199.0h0M387.9 182.6h0M394.1 191.7h0M380.4 161.8h0M387.9 179.8h0M380.2 193.7h0M395.8 152.8h0M386.7 196.0h0M390.3 177.5h0M383.7 157.8h0M387.0 190.6h0M392.8 196.9h0M381.7 172.4h0M383.1 188.6h0M384.4 162.8h0M392.8 174.6h0M394.2 146.6h0M391.5 148.6h0M383.5 174.1h0M384.6 155.6h0M391.3 181.7h0M386.6 157.0h0M385.1 184.7h0M395.9 142.1h0M383.7 189.7h0M392.0 151.8h0M382.5 163.5h0M394.4 149.4h0M384.1 166.1h0M394.6 169.3h0M390.9 166.7h0M393.7 173.2h0M389.6 171.5h0M381.5 193.6h0M385.8 158.0h0M395.6 197.6h0M381.8 167.5h0M387.9 191.6h0M387.8 186.6h0M386.4 166.7h0M384.1 202.6h0M384.5 198.9h0M382.9 186.8h0M383.8 176.7h0M380.5 179.2h0M391.5 157.8h0M394.0 196.1h0M383.2 172.8h0M380.8 185.9h0M385.6 174.3h0M381.5 201.9h0M386.3 191.8h0M383.7 173.5h0M388.7 171.9h0M391.4 193.9h0M393.7 173.1h0M391.0 189.5h0M392.9 141.6h0M395.9 144.6h0M385.9 176.8h0M382.2 166.2h0M382.4 176.0h0M386.9 188.8h0M390.6 182.4h0M392.9 193.3h0M382.4 185.6h0M387.8 197.5h0M381.1 180.1h0M388.6 152.5h0M393.5 190.8h0M385.0 189.4h0M390.3 195.7h0M389.6 179.1h0M390.1 185.9h0M382.6 173.8h0M387.6 190.2h0M380.8 203.9h0M386.1 177.6h0M380.8 184.8h0M395.4 170.2h0M385.0 157.0h0M383.6 170.6h0M394.2 162.3h0M386.4 187.7h0M387.6 170.5h0M393.6 152.6h0M387.8 201.7h0M385.8 175.0h0M391.3 196.9h0M384.4 171.2h0M382.2 189.8h0M391.0 191.5h0M387.4 165.7h0M396.0 179.7h0M388.2 187.9h0M394.1 199.4h0M380.6 167.2h0M380.3 156.6h0M385.1 195.2h0M393.0 166.6h0M387.0 169.1h0M389.2 146.4h0M385.3 203.2h0M385.0 168.6h0M384.8 179.6h0M384.1 194.7h0M380.5 187.2h0M390.3 149.9h0M384.5 204.6h0M394.5 170.0h0M388.9 161.2h0M382.2 194.4h0M384.3 171.1h0M382.6 170.8h0M391.6 166.3h0M383.6 194.9h0M388.4 203.0h0M386.4 186.9h0M385.4 202.0h0M393.6 147.3h0M387.6 144.5h0M384.5 194.1h0M382.4 175.3h0M384.3 197.7h0M382.7 182.2h0M390.1 193.5h0M391.4 153.0h0M389.0 185.1h0M390.9 202.3h0M391.5 164.1h0M388.6 198.9h0M382.7 176.3h0M389.7 196.8h0M380.3 191.5h0M387.1 174.6h0M382.3 181.7h0M390.6 150.4h0M390.2 200.0h0M384.8 179.8h0M388.8 171.8h0M390.9 162.4h0M387.6 162.0h0M383.7 198.0h0M381.6 172.5h0M393.7 166.0h0M381.2 165.1h0M382.8 186.0h0M392.1 202.5h0M380.7 166.0h0M382.0 193.4h0M385.4 152.0h0M382.2 156.1h0M380.6 167.5h0M392.0 162.0h0M382.5 197.3h0M394.4 187.7h0M380.7 166.4h0M384.0 196.9h0M388.6 156.7h0M381.4 167.3h0M387.1 159.7h0M387.2 167.0h0M389.0 166.1h0M394.6 200.3h0M386.0 166.2h0M394.3 182.0h0M383.1 160.8h0M389.9 163.3h0M386.3 195.3h0M392.0 186.1h0M387.8 195.3h0M393.3 177.3h0M382.2 194.3h0M383.8 159.3h0M388.1 179.2h0M389.6 169.4h0M385.5 202.4h0M392.5 191.4h0M385.5 189.1h0M394.8 182.9h0M394.7 175.4h0M380.6 189.3h0M389.7 199.5h0M393.5 187.7h0M380.7 153.7h0M391.3 202.1h0M388.8 180.3h0M387.7 172.8h0M384.0 171.1h0M391.3 195.5h0M383.2 186.4h0M382.6 187.0h0M385.1 190.1h0M395.8 163.0h0M386.0 165.5h0M382.0 161.1h0M385.9 176.0h0M391.8 194.8h0M389.4 149.3h0M391.0 196.3h0M392.9 204.1h0M384.2 176.0h0M400.9 177.2h0M409.3 168.1h0M401.5 196.2h0M403.5 162.4h0M408.9 166.5h0M405.4 185.7h0M410.3 129.2h0M396.2 193.9h0M405.2 195.8h0M403.5 179.4h0M401.9 190.0h0M400.2 191.6h0M401.4 193.5h0M408.6 173.4h0M402.9 184.5h0M399.1 152.8h0M406.5 166.9h0M408.6 137.0h0M401.8 151.1h0M397.8 161.9h0M407.3 178.5h0M406.4 190.1h0M406.5 158.9h0M396.2 195.7h0M397.7 191.7h0M411.4 173.3h0M404.2 184.2h0M399.7 166.0h0M396.7 153.3h0M402.9 202.3h0M400.6 199.6h0M398.2 183.9h0M405.5 191.2h0M398.5 179.5h0M411.0 168.9h0M399.3 192.7h0M409.9 199.1h0M401.1 188.8h0M400.1 197.8h0M407.6 158.0h0M403.4 188.5h0M397.9 199.0h0M409.0 191.9h0M404.1 192.0h0M404.4 178.5h0M401.4 166.8h0M408.7 184.8h0M405.1 135.4h0M397.0 169.3h0M409.8 159.8h0M404.3 154.8h0M399.8 195.1h0M396.6 194.2h0M396.6 202.4h0M397.7 161.4h0M399.6 188.7h0M403.7 168.5h0M399.2 148.1h0M408.1 178.7h0M403.7 161.0h0M402.2 131.8h0M402.2 182.5h0M399.4 193.6h0M403.9 197.2h0M399.3 189.8h0M400.6 180.3h0M403.5 161.0h0M405.5 174.0h0M400.7 166.7h0M406.9 182.7h0M401.1 153.0h0M410.4 148.9h0M398.1 173.7h0M404.5 193.4h0M401.1 163.7h0M402.6 136.1h0M397.6 203.1h0M400.8 173.4h0M398.6 185.9h0M406.2 155.1h0M407.9 175.4h0M408.0 153.7h0M410.3 190.0h0M401.5 194.6h0M405.5 166.9h0M411.2 191.8h0M403.3 169.6h0M403.6 157.8h0M405.8 151.7h0M396.4 174.3h0M409.2 189.0h0M402.0 203.5h0M407.5 159.9h0M397.8 183.5h0M403.2 162.1h0M404.4 186.6h0M407.8 185.3h0M404.8 158.3h0M405.3 169.3h0M410.6 125.3h0M399.8 163.4h0M402.5 176.3h0M409.7 162.5h0M402.6 165.4h0M404.8 155.4h0M403.4 186.7h0M411.5 179.9h0M406.2 137.0h0M407.8 197.3h0M396.4 194.2h0M401.7 157.7h0M407.4 183.7h0M398.3 150.1h0M407.9 189.0h0M410.5 170.5h0M407.6 196.6h0M407.0 184.5h0M399.9 200.9h0M397.7 161.9h0M410.8 156.5h0M402.1 135.2h0M410.1 202.0h0M406.0 159.7h0M410.7 134.9h0M396.3 196.7h0M408.3 196.7h0M407.2 151.1h0M404.3 154.8h0M398.3 151.5h0M398.8 178.1h0M410.6 141.3h0M401.6 157.8h0M407.5 143.4h0M411.5 129.1h0M399.2 143.3h0M396.9 186.1h0M396.5 189.9h0M402.2 149.4h0M408.7 172.2h0M408.3 186.3h0M404.7 181.1h0M396.0 171.9h0M399.5 202.2h0M398.1 185.7h0M398.2 158.8h0M397.8 170.0h0M396.5 142.8h0M403.4 183.9h0M400.9 198.2h0M401.0 178.2h0M399.9 144.7h0M408.1 129.1h0M400.1 187.0h0M398.2 186.7h0M400.0 131.6h0M399.5 157.2h0M400.9 165.7h0M401.4 142.0h0M399.2 180.9h0M405.4 172.4h0M398.1 156.8h0M410.3 147.8h0M409.8 179.4h0M403.2 144.1h0M407.1 200.2h0M399.0 194.2h0M400.1 158.0h0M410.3 161.2h0M402.9 178.2h0M407.3 159.1h0M408.5 185.2h0M406.6 161.6h0M402.6 141.2h0M401.4 170.5h0M396.8 171.4h0M409.5 197.4h0M406.4 161.9h0M396.9 187.4h0M408.9 126.0h0M400.0 200.1h0M409.2 184.0h0M398.1 158.3h0M396.3 185.5h0M409.3 179.8h0M409.9 191.3h0M403.2 184.7h0M410.3 176.5h0M397.2 172.4h0M398.1 153.4h0M411.4 175.2h0M410.8 141.3h0M406.5 173.0h0M400.8 168.4h0M406.8 191.7h0M396.0 172.7h0M401.1 160.6h0M409.2 191.6h0M399.2 176.4h0M397.8 176.5h0M403.2 150.9h0M406.1 194.9h0M400.4 147.1h0M408.6 162.0h0M410.2 164.7h0M399.0 201.8h0M401.5 166.6h0M408.9 187.0h0M403.3 160.3h0M407.4 168.1h0M400.4 178.1h0M408.6 198.5h0M408.9 173.2h0M407.9 162.2h0M409.7 195.2h0M401.6 180.9h0M403.5 163.9h0M408.4 175.2h0M406.9 157.0h0M403.9 165.8h0M396.5 167.3h0M399.0 185.8h0M402.6 173.9h0M407.5 184.4h0M410.2 154.4h0M411.7 166.4h0M401.5 169.6h0M411.3 175.2h0M401.5 177.2h0M398.5 202.1h0M410.6 194.9h0M397.5 197.9h0M402.9 180.2h0M407.9 187.3h0M405.3 132.2h0M409.2 143.0h0M403.8 140.9h0M402.4 158.6h0M400.8 193.5h0M405.3 149.4h0M404.3 184.8h0M403.4 165.9h0M406.2 166.6h0M403.4 166.6h0M406.5 162.7h0M403.3 147.0h0M407.9 150.1h0M398.8 188.1h0M401.1 172.6h0M400.3 133.2h0M409.7 191.3h0M404.6 166.9h0M410.9 179.0h0M404.2 203.4h0M410.8 160.5h0M407.2 173.5h0M410.0 183.8h0M400.2 169.2h0M411.9 151.9h0M400.2 194.9h0M407.4 154.4h0M405.2 189.3h0M401.1 148.0h0M397.4 199.5h0M396.6 150.6h0M396.1 198.3h0M404.1 181.4h0M404.3 200.7h0M397.5 182.6h0M396.5 152.4h0M396.3 182.3h0M404.6 197.1h0M407.5 173.2h0M410.1 144.3h0M402.8 179.6h0M407.3 161.4h0M399.3 139.6h0M396.7 183.3h0M404.5 142.9h0M400.6 196.5h0M401.8 143.9h0M397.6 187.1h0M406.4 193.3h0M409.8 200.4h0M407.3 136.1h0M397.9 201.4h0M399.8 198.3h0M398.7 174.5h0M411.8 152.4h0M401.6 187.0h0M398.0 192.6h0M408.5 127.4h0M399.0 200.8h0M397.1 198.8h0M401.3 148.6h0M396.5 185.8h0M402.6 185.9h0M402.3 161.9h0M400.4 183.0h0M404.2 186.5h0M408.1 159.8h0M400.9 160.7h0M399.8 187.1h0M405.5 133.7h0M402.1 183.3h0M399.6 191.9h0M411.0 177.4h0M398.9 200.0h0M401.7 180.2h0M400.1 157.0h0M408.4 187.6h0M406.0 157.0h0M410.3 151.7h0M399.8 190.3h0M408.7 127.0h0M406.0 175.8h0M397.6 176.4h0M399.5 174.6h0M409.0 170.6h0M402.3 151.6h0M398.2 149.4h0M397.8 150.5h0M400.1 160.6h0M405.7 193.3h0M397.9 185.4h0M398.2 177.5h0M409.3 148.8h0M399.7 173.1h0M406.2 191.7h0M408.9 174.0h0M407.4 201.0h0M405.3 168.0h0M402.5 169.0h0M406.6 169.5h0M401.2 157.7h0M407.7 160.0h0M406.5 180.6h0M397.6 188.2h0M396.1 174.4h0M406.0 158.0h0M402.9 151.1h0M405.0 141.2h0M406.0 180.1h0M402.8 163.3h0M397.8 148.6h0M404.6 151.4h0M400.1 197.5h0M403.3 179.6h0M396.4 157.6h0M411.2 158.1h0M398.5 188.5h0M411.9 146.6h0M408.2 153.6h0M401.5 171.7h0M404.3 160.8h0M399.1 180.3h0M396.2 199.8h0M403.2 170.5h0M397.0 185.0h0M398.5 152.6h0M396.9 187.5h0M404.1 188.9h0M406.0 175.4h0M411.2 172.8h0M399.4 169.0h0M409.0 136.4h0M404.7 150.0h0M396.2 199.6h0M401.2 175.2h0M411.6 142.9h0M407.1 152.0h0M406.0 179.4h0M406.6 174.3h0M411.2 188.5h0M403.9 186.7h0M397.9 156.9h0M396.7 153.9h0M404.4 135.2h0M398.5 137.4h0M410.8 168.7h0M411.5 123.2h0M404.3 167.7h0M405.1 141.0h0M397.8 188.3h0M408.5 158.6h0M402.1 186.6h0M407.5 152.2h0M402.2 193.7h0M408.3 149.3h0M397.7 144.3h0M411.5 187.1h0M406.3 185.2h0M400.9 176.1h0M401.9 135.6h0M399.0 166.5h0M403.4 191.6h0M410.0 196.2h0M402.9 192.0h0M400.7 171.4h0M402.7 188.9h0M402.0 167.5h0M402.1 176.3h0M403.6 154.9h0M406.9 174.6h0M406.8 189.4h0M396.4 178.0h0M410.9 182.3h0M401.0 162.1h0M402.4 188.8h0M403.5 160.3h0M410.2 185.7h0M396.6 204.5h0M409.1 169.7h0M406.2 162.1h0M403.9 147.0h0M401.8 176.7h0M403.9 176.8h0M406.6 155.6h0M402.5 186.4h0M410.6 153.3h0M404.4 165.9h0M402.6 195.7h0M410.3 171.7h0M396.4 177.4h0M410.1 179.1h0M403.1 156.3h0M397.9 173.8h0M406.5 188.9h0M399.5 181.4h0M403.0 191.5h0M403.9 171.8h0M411.4 170.8h0M406.2 180.3h0M402.6 157.6h0M405.7 140.6h0M405.8 180.6h0M398.1 186.0h0M401.5 163.2h0M398.4 140.6h0M397.6 187.5h0M400.7 166.4h0M396.5 158.6h0M398.6 173.8h0M398.6 183.3h0M404.0 158.3h0M402.2 155.8h0M397.5 179.4h0M411.9 163.1h0M407.4 161.0h0M406.3 160.0h0M405.6 159.9h0M407.1 175.1h0M398.7 201.0h0M407.1 152.3h0M401.3 186.4h0M398.8 195.4h0M400.1 184.6h0M408.8 175.8h0M401.9 200.2h0M409.7 140.3h0M411.9 189.7h0M410.9 140.1h0M403.0 151.6h0M404.3 136.1h0M405.0 165.9h0M397.3 186.9h0M407.6 199.4h0M408.4 199.4h0M398.8 154.4h0M400.9 188.9h0M405.5 184.5h0M411.2 181.6h0M401.1 193.6h0M409.7 132.6h0M397.0 175.6h0M404.1 178.9h0M400.3 179.3h0M409.4 180.6h0M398.6 201.1h0M397.3 147.1h0M401.5 189.4h0M407.6 152.8h0M407.2 162.0h0M400.9 173.0h0M407.1 170.7h0M398.1 179.4h0M402.5 192.4h0M409.7 176.9h0M398.3 193.7h0M399.4 152.5h0M401.2 146.2h0M399.0 200.6h0M403.8 135.1h0M402.1 146.5h0M404.8 170.3h0M396.3 190.2h0M408.6 195.8h0M401.7 201.2h0M396.9 178.1h0M405.2 156.0h0M398.4 145.8h0M399.0 173.9h0M407.5 186.4h0M397.0 163.4h0M411.0 142.9h0M399.5 185.3h0M405.0 171.9h0M397.7 137.2h0M412.0 176.0h0M411.1 169.6h0M405.8 159.5h0M399.8 167.6h0M401.2 155.9h0M404.6 149.6h0M399.9 147.6h0M404.7 182.3h0M410.2 138.5h0M398.0 192.4h0M399.8 162.2h0M411.3 149.7h0M409.4 152.1h0M396.5 190.1h0M397.4 174.7h0M405.7 176.6h0M408.9 166.7h0M411.6 133.0h0M397.8 183.7h0M402.9 166.7h0M403.5 190.6h0M409.2 183.7h0M403.1 166.0h0M396.5 153.6h0M397.0 166.5h0M403.3 176.8h0M397.9 148.9h0M403.5 197.5h0M404.7 155.4h0M403.4 194.5h0M404.5 184.4h0M396.2 176.8h0M406.5 189.1h0M396.5 165.7h0M403.3 133.8h0M398.1 168.9h0M401.8 141.1h0M408.4 168.5h0M409.0 137.1h0M409.8 139.0h0M406.5 158.3h0M403.8 196.9h0M408.3 142.5h0M397.0 189.1h0M396.4 180.0h0M409.8 176.6h0M406.9 173.2h0M402.2 156.5h0M399.6 151.5h0M411.5 163.2h0M399.0 178.4h0M399.6 192.2h0M410.9 149.2h0M407.6 183.6h0M409.2 193.8h0M410.8 148.6h0M411.2 160.3h0M401.6 147.9h0M399.5 174.7h0M404.3 180.9h0M401.5 200.7h0M400.8 180.8h0M404.5 182.5h0M410.0 152.3h0M404.0 195.9h0M400.8 158.0h0M398.6 194.9h0M408.9 200.1h0M405.5 190.6h0M399.0 184.8h0M408.5 176.8h0M397.1 152.9h0M397.2 201.9h0M400.1 144.3h0M408.0 186.6h0M403.7 188.1h0M406.4 185.4h0M410.2 193.9h0M411.7 181.1h0M409.0 199.6h0M402.3 161.8h0M404.0 138.3h0M396.0 185.5h0M397.1 199.5h0M402.3 161.9h0M400.6 160.3h0M403.7 187.2h0M396.1 196.4h0M411.0 128.1h0M403.0 185.4h0M398.3 161.6h0M405.5 187.3h0M404.5 170.9h0M406.7 132.2h0M411.8 161.4h0M402.4 180.5h0M396.0 172.6h0M398.8 150.9h0M401.9 143.3h0M399.5 186.8h0M403.1 157.1h0M405.4 167.7h0M403.7 164.6h0M396.7 176.8h0M396.3 185.6h0M396.4 181.7h0M406.3 151.0h0M401.8 131.7h0M404.1 158.5h0M401.7 175.6h0M406.4 150.2h0M411.8 175.7h0M405.1 198.1h0M398.9 147.3h0M407.0 188.5h0M399.0 162.7h0M406.4 200.0h0M404.5 171.3h0M396.2 205.4h0M398.6 170.4h0M399.2 181.1h0M401.4 179.7h0M409.8 162.9h0M406.7 190.8h0M403.0 144.5h0M401.8 197.6h0M396.4 172.0h0M399.0 171.2h0M409.7 192.4h0M401.4 165.2h0M399.9 197.3h0M410.9 134.2h0M399.1 165.3h0M408.3 159.7h0M401.5 154.9h0M401.2 133.1h0M400.7 200.5h0M399.8 176.6h0M399.7 183.7h0M400.0 188.6h0M402.7 200.2h0M402.4 149.8h0M396.3 168.4h0M401.7 182.6h0M408.6 190.7h0M407.5 173.0h0M397.7 135.7h0M398.9 148.1h0M405.4 143.7h0M405.4 140.8h0M396.7 202.6h0M400.4 197.4h0M403.5 192.2h0M406.3 166.9h0M404.3 182.2h0M405.6 139.5h0M409.9 165.6h0M409.7 150.1h0M398.8 144.8h0M409.5 183.7h0M399.0 183.4h0M396.0 199.5h0M408.0 141.8h0M410.2 192.1h0M397.4 137.0h0M407.5 133.3h0M397.1 156.9h0M410.4 154.2h0M402.7 173.7h0M403.1 183.2h0M410.3 174.0h0M400.3 174.3h0M403.9 152.0h0M397.4 188.7h0M398.5 185.9h0M403.8 174.4h0M409.5 189.1h0M401.3 172.4h0M396.1 159.6h0M399.3 189.8h0M403.3 146.7h0M396.9 166.0h0M398.0 136.2h0M399.1 173.2h0M409.1 134.8h0M402.2 164.8h0M397.9 140.6h0M403.9 171.8h0M404.5 176.0h0M405.2 153.9h0M407.2 149.7h0M404.4 165.2h0M396.7 182.3h0M420.7 126.4h0M420.9 164.6h0M419.2 132.1h0M414.0 162.7h0M414.8 126.1h0M421.2 172.0h0M423.7 171.4h0M413.0 153.2h0M423.5 136.1h0M418.4 166.8h0M421.2 129.2h0M423.9 169.3h0M413.1 136.8h0M422.9 161.8h0M423.2 160.2h0M418.7 158.5h0M415.5 130.4h0M420.4 174.4h0M420.6 165.1h0M417.7 118.3h0M419.6 163.7h0M423.1 154.2h0M424.1 138.6h0M426.9 151.6h0M427.5 123.5h0M412.3 175.8h0M426.1 181.2h0M425.7 169.6h0M427.9 173.5h0M424.0 151.5h0M426.9 149.6h0M427.6 123.7h0M413.8 119.7h0M413.6 188.3h0M420.1 171.6h0M426.3 155.1h0M419.7 141.1h0M419.3 142.8h0M425.2 119.9h0M420.5 158.5h0M424.6 145.4h0M420.8 183.1h0M419.4 143.1h0M419.1 168.9h0M424.1 173.8h0M413.7 140.5h0M416.7 135.9h0M413.3 189.3h0M421.7 145.0h0M417.7 135.0h0M425.9 166.0h0M416.8 178.5h0M426.4 115.8h0M416.3 179.7h0M426.9 109.2h0M426.0 152.9h0M416.0 130.9h0M419.7 169.8h0M413.0 159.6h0M421.1 132.4h0M422.1 128.0h0M418.6 123.3h0M418.1 126.2h0M419.1 134.6h0M424.0 160.5h0M414.7 181.1h0M424.8 139.8h0M422.7 130.7h0M417.6 161.2h0M427.5 176.6h0M420.5 159.7h0M419.3 166.2h0M419.6 167.9h0M416.8 191.6h0M419.6 150.4h0M413.3 173.8h0M420.9 120.9h0M416.7 152.4h0M421.8 154.6h0M420.8 129.6h0M427.8 150.8h0M423.1 172.7h0M412.1 168.7h0M413.6 173.0h0M419.1 148.5h0M419.8 136.5h0M418.8 152.3h0M423.0 178.8h0M426.7 140.4h0M412.8 157.3h0M421.2 159.4h0M416.0 147.4h0M417.5 164.2h0M427.1 147.4h0M412.9 136.1h0M414.8 136.9h0M419.2 145.1h0M423.3 163.7h0M427.0 129.4h0M427.5 119.9h0M426.6 156.6h0M423.8 155.0h0M418.4 179.3h0M415.9 177.5h0M425.3 118.6h0M423.3 150.3h0M422.6 154.7h0M423.7 150.1h0M426.4 154.9h0M419.9 168.8h0M415.5 170.5h0M412.2 123.2h0M415.3 161.0h0M421.7 117.5h0M417.2 141.0h0M414.7 138.2h0M413.8 166.2h0M412.5 139.4h0M420.3 128.8h0M421.7 161.6h0M427.1 108.5h0M423.9 126.3h0M414.1 168.1h0M414.8 127.1h0M427.3 165.6h0M416.0 154.5h0M419.8 153.7h0M424.3 171.3h0M421.4 162.5h0M412.5 192.6h0M418.7 144.8h0M419.7 149.7h0M419.8 129.3h0M413.5 120.3h0M427.3 146.2h0M419.2 136.7h0M422.0 165.3h0M423.6 150.8h0M415.5 177.7h0M412.3 170.2h0M421.0 184.7h0M426.2 154.2h0M425.8 129.6h0M425.6 169.6h0M414.8 144.1h0M425.7 138.2h0M413.0 159.4h0M415.9 185.1h0M424.6 167.9h0M413.2 183.4h0M423.8 161.7h0M424.1 169.7h0M426.2 149.2h0M425.2 160.7h0M422.7 153.9h0M414.3 146.8h0M413.6 169.4h0M413.1 143.0h0M416.3 139.2h0M416.3 144.1h0M427.8 137.3h0M425.2 135.4h0M413.3 165.1h0M418.7 137.6h0M424.2 144.6h0M417.5 133.9h0M419.5 173.7h0M425.6 135.2h0M426.4 154.8h0M414.3 155.4h0M424.6 130.8h0M418.4 164.0h0M412.3 190.2h0M416.2 180.1h0M425.8 126.8h0M414.5 184.0h0M414.2 176.4h0M427.1 167.5h0M418.1 179.0h0M426.3 134.0h0M415.9 178.8h0M412.8 191.5h0M426.3 141.2h0M416.4 122.7h0M426.8 129.0h0M422.0 152.9h0M424.8 122.7h0M416.4 145.0h0M422.7 142.5h0M424.5 163.2h0M422.1 162.3h0M426.5 191.9h0M426.2 157.9h0M420.2 143.7h0M426.9 140.3h0M422.7 175.5h0M426.2 139.9h0M413.9 144.9h0M416.1 169.8h0M414.0 124.3h0M412.3 122.4h0M421.7 155.2h0M427.4 174.0h0M421.2 180.9h0M427.5 165.8h0M424.6 129.7h0M421.1 169.1h0M417.6 156.5h0M414.7 175.8h0M427.1 172.9h0M426.8 106.5h0M426.0 166.9h0M416.6 136.3h0M423.3 168.1h0M419.7 152.1h0M424.6 166.7h0M420.2 136.1h0M412.2 180.9h0M415.8 164.9h0M415.7 155.1h0M416.6 163.9h0M416.8 168.0h0M412.2 130.5h0M419.3 156.2h0M426.8 149.2h0M421.0 169.4h0M414.9 153.2h0M427.4 145.5h0M425.6 137.4h0M425.7 149.8h0M413.6 131.9h0M422.5 184.0h0M416.6 158.5h0M424.1 142.7h0M417.3 176.0h0M415.4 151.4h0M427.4 126.8h0M425.2 124.6h0M421.6 162.2h0M418.9 161.6h0M420.2 182.5h0M421.7 166.0h0M418.1 160.0h0M417.8 182.5h0M415.7 142.8h0M421.2 143.5h0M415.9 161.8h0M417.9 134.0h0M416.0 156.3h0M426.3 143.7h0M419.5 167.6h0M414.0 148.0h0M413.6 124.2h0M423.7 162.8h0M426.8 150.3h0M415.1 159.5h0M420.3 143.9h0M419.0 177.8h0M418.2 158.3h0M422.4 179.7h0M424.3 158.8h0M424.5 135.5h0M415.0 127.9h0M420.8 134.3h0M414.1 194.2h0M414.5 139.4h0M416.8 175.9h0M420.3 121.6h0M419.0 151.2h0M412.6 160.0h0M419.0 129.8h0M414.3 177.4h0M414.3 137.7h0M425.3 153.5h0M421.6 131.7h0M415.4 158.7h0M423.7 119.4h0M427.6 168.3h0M425.2 128.9h0M414.0 164.0h0M421.8 155.3h0M417.8 150.3h0M418.2 154.4h0M414.5 126.4h0M413.7 136.1h0M427.5 176.1h0M418.5 163.9h0M414.2 178.5h0M418.6 131.6h0M418.5 148.7h0M414.1 153.8h0M423.1 133.6h0M421.2 149.1h0M422.8 161.3h0M424.9 179.8h0M425.6 143.0h0M428.0 145.4h0M422.5 123.9h0M427.6 135.3h0M427.8 143.3h0M414.6 142.3h0M417.5 164.0h0M418.9 131.0h0M418.7 135.8h0M413.3 167.0h0M417.5 161.6h0M424.0 122.1h0M419.3 129.1h0M421.9 119.5h0M422.3 177.1h0M421.2 186.0h0M412.2 167.5h0M417.4 179.0h0M423.3 161.9h0M417.1 123.2h0M427.4 176.2h0M427.2 141.2h0M419.4 143.6h0M427.6 139.5h0M414.8 178.8h0M418.9 179.5h0M426.5 129.6h0M413.2 170.9h0M419.3 178.3h0M417.9 165.0h0M417.5 188.7h0M418.1 190.6h0M420.8 138.1h0M426.5 123.9h0M412.7 163.3h0M414.0 173.8h0M422.2 144.0h0M419.8 147.5h0M422.8 159.1h0M425.0 157.8h0M424.6 129.7h0M416.4 186.9h0M415.0 131.9h0M421.1 124.2h0M412.7 138.9h0M420.7 141.6h0M421.1 157.5h0M418.9 156.8h0M425.2 147.5h0M412.9 186.5h0M412.3 176.1h0M426.7 130.2h0M425.0 128.2h0M412.5 132.9h0M422.8 139.2h0M420.6 184.5h0M413.9 183.8h0M417.8 176.4h0M420.7 176.4h0M420.9 141.0h0M414.7 164.4h0M412.2 131.4h0M412.8 142.1h0M415.3 137.3h0M416.3 137.2h0M414.8 176.4h0M416.8 156.6h0M413.4 155.0h0M417.5 142.6h0M416.7 146.0h0M416.1 178.9h0M417.3 174.8h0M425.3 145.5h0M424.0 179.8h0M413.7 124.6h0M413.3 180.1h0M420.2 174.7h0M413.2 149.9h0M424.4 184.1h0M417.2 120.3h0M427.6 161.8h0M417.1 169.2h0M419.8 168.3h0M412.8 171.0h0M414.3 187.1h0M414.5 181.9h0M426.8 147.5h0M427.9 143.2h0M421.4 142.9h0M421.2 117.6h0M423.5 134.5h0M418.3 136.9h0M426.7 183.4h0M415.2 174.7h0M426.3 146.0h0M412.3 140.8h0M420.6 127.5h0M421.0 153.6h0M423.5 137.3h0M414.5 180.4h0M416.8 139.8h0M426.4 178.6h0M414.7 147.8h0M416.1 139.5h0M420.4 161.2h0M427.8 149.4h0M416.6 137.3h0M414.3 176.7h0M413.7 186.0h0M427.7 132.9h0M415.5 191.0h0M423.2 152.2h0M413.0 150.1h0M418.1 132.5h0M420.5 169.1h0M423.0 162.6h0M421.3 126.8h0M418.0 180.8h0M414.2 141.8h0M417.9 195.1h0M418.6 147.2h0M416.4 145.4h0M414.0 163.1h0M425.7 137.1h0M414.6 125.5h0M417.3 162.6h0M418.6 173.5h0M414.2 192.4h0M423.9 148.3h0M414.2 141.5h0M424.8 192.5h0M412.3 163.5h0M412.3 173.3h0M419.4 119.8h0M419.7 159.3h0M418.5 122.4h0M426.4 120.2h0M423.3 174.3h0M424.6 123.2h0M423.8 146.9h0M424.6 129.8h0M424.3 134.5h0M425.8 174.1h0M423.4 167.0h0M414.5 133.8h0M419.4 185.5h0M422.5 130.9h0M419.3 143.2h0M419.3 123.5h0M416.5 141.3h0M414.3 176.6h0M426.1 130.9h0M417.1 149.8h0M412.3 159.2h0M417.0 153.4h0M444.0 151.2h0M428.3 113.0h0M443.8 116.2h0M430.6 134.6h0M428.5 171.7h0M443.9 107.7h0M431.6 113.0h0M443.5 141.9h0M431.6 123.9h0M432.9 159.8h0M443.6 114.2h0M431.5 138.9h0M440.6 147.4h0M440.9 109.2h0M433.6 121.0h0M429.6 154.7h0M440.3 106.7h0M430.1 136.1h0M433.2 135.7h0M430.7 137.1h0M442.0 101.7h0M431.9 154.0h0M435.9 121.6h0M438.0 191.0h0M431.6 130.4h0M436.3 151.9h0M438.7 128.5h0M443.7 94.8h0M434.1 129.0h0M432.8 110.5h0M432.9 140.5h0M436.1 145.0h0M432.4 143.0h0M433.8 148.9h0M437.4 106.1h0M439.1 127.8h0M438.8 145.3h0M437.7 133.6h0M429.9 155.3h0M438.0 139.0h0M430.9 146.0h0M441.1 135.8h0M442.0 113.5h0M431.8 139.0h0M443.1 119.4h0M437.3 116.1h0M439.0 102.3h0M438.9 159.0h0M437.9 103.8h0M429.9 115.7h0M436.6 102.4h0M443.5 116.4h0M440.6 127.4h0M434.4 168.5h0M443.6 118.5h0M442.0 111.6h0M434.3 147.5h0M441.1 123.7h0M431.7 193.7h0M430.0 142.8h0M435.2 122.8h0M440.4 135.4h0M438.4 144.2h0M432.3 141.9h0M435.1 120.7h0M439.7 133.5h0M439.0 132.6h0M443.0 127.0h0M430.0 129.3h0M439.1 145.0h0M437.9 138.7h0M431.9 131.6h0M443.2 141.9h0M435.1 138.5h0M437.4 106.2h0M443.9 127.4h0M435.8 141.3h0M437.8 121.4h0M436.5 127.2h0M440.9 118.0h0M438.0 143.5h0M430.0 146.5h0M428.7 137.5h0M442.1 142.6h0M439.4 114.1h0M429.7 171.1h0M441.5 147.7h0M437.8 154.3h0M436.9 152.8h0M439.3 137.2h0M442.6 103.6h0M432.2 129.8h0M428.7 147.2h0M438.1 138.4h0M432.3 171.1h0M438.8 125.3h0M438.2 155.3h0M438.0 113.3h0M440.4 121.6h0M430.1 145.5h0M430.5 155.0h0M435.5 157.0h0M430.3 130.9h0M435.2 119.8h0M431.7 158.9h0M443.7 123.5h0M440.9 103.4h0M440.0 97.3h0M441.4 139.1h0M431.4 140.7h0M435.7 157.8h0M437.0 144.8h0M428.7 108.0h0M431.4 123.5h0M440.6 118.8h0M431.5 139.4h0M442.1 153.2h0M434.7 138.4h0M435.2 115.1h0M429.7 144.9h0M441.2 153.5h0M433.8 125.9h0M431.0 160.0h0M430.3 113.0h0M430.2 145.1h0M439.8 108.5h0M433.1 157.6h0M436.6 161.1h0M432.8 103.1h0M442.5 123.1h0M435.4 139.9h0M434.6 153.7h0M442.9 145.0h0M440.5 130.4h0M443.6 133.8h0M439.6 129.0h0M431.1 113.1h0M434.6 139.1h0M440.0 116.1h0M431.2 163.7h0M434.3 171.1h0M429.7 127.3h0M434.3 124.8h0M436.1 137.3h0M430.4 187.5h0M436.7 163.1h0M430.0 139.8h0M435.1 140.5h0M438.3 154.1h0M439.0 131.7h0M434.1 131.5h0M430.3 127.2h0M443.5 145.0h0M435.9 107.3h0M435.0 136.9h0M428.5 133.5h0M439.5 116.2h0M440.0 126.8h0M438.8 130.1h0M434.5 143.6h0M434.6 157.9h0M440.6 114.9h0M442.7 172.7h0M436.7 119.0h0M437.4 104.4h0M440.9 126.4h0M432.7 134.1h0M430.4 115.6h0M439.3 111.4h0M437.0 161.2h0M432.8 146.0h0M440.9 154.4h0M439.4 117.0h0M428.4 131.6h0M435.3 112.5h0M438.5 131.8h0M442.2 138.8h0M438.6 116.8h0M431.2 131.5h0M430.0 103.3h0M443.3 97.2h0M441.3 133.4h0M434.0 107.7h0M433.8 146.7h0M439.6 135.5h0M437.5 124.9h0M431.6 139.5h0M434.9 120.3h0M443.6 115.8h0M434.4 154.1h0M428.3 167.9h0M429.4 159.0h0M430.1 141.5h0M437.6 135.6h0M433.2 120.1h0M437.8 126.7h0M432.0 118.5h0M440.0 111.3h0M435.1 114.4h0M442.7 158.6h0M439.6 188.7h0M434.8 114.5h0M443.5 135.3h0M432.5 129.9h0M434.7 157.6h0M433.0 126.0h0M428.4 120.0h0M432.3 117.3h0M429.0 153.1h0M429.5 160.8h0M429.6 167.9h0M433.2 150.3h0M436.1 155.5h0M436.2 123.3h0M437.4 128.8h0M430.5 116.1h0M432.0 156.2h0M429.7 139.0h0M442.1 129.2h0M430.1 124.8h0M437.3 152.9h0M435.1 104.1h0M429.0 151.4h0M440.7 124.6h0M435.3 120.4h0M436.1 143.7h0M439.3 137.5h0M432.2 116.8h0M433.5 131.7h0M429.9 130.3h0M441.6 115.5h0M433.4 151.9h0M441.1 146.2h0M441.1 125.2h0M433.7 145.3h0M436.7 146.6h0M431.3 112.3h0M434.9 132.9h0M432.4 147.9h0M442.6 122.2h0M437.9 149.6h0M442.0 126.1h0M431.4 118.5h0M430.8 132.9h0M428.0 123.4h0M436.6 128.5h0M432.1 158.8h0M431.8 111.3h0M434.4 106.4h0M436.3 142.4h0M439.3 145.4h0M441.8 123.3h0M430.6 144.7h0M435.1 131.1h0M442.4 116.6h0M432.4 154.7h0M436.0 145.6h0M434.3 116.8h0M439.3 143.2h0M438.9 143.0h0M433.6 150.5h0M431.7 132.6h0M437.3 122.4h0M442.7 142.0h0M433.7 143.9h0M435.2 129.8h0M431.4 122.3h0M441.8 137.6h0M428.7 159.0h0M433.4 164.2h0M429.2 131.7h0M434.3 154.7h0M436.8 133.4h0M429.5 118.7h0M437.9 134.8h0M431.7 148.1h0M430.9 162.0h0M432.7 149.5h0M442.6 144.9h0M441.7 178.8h0M432.2 122.7h0M428.4 151.0h0M429.3 159.2h0M434.4 141.9h0M428.3 121.7h0M438.2 112.9h0M436.8 107.8h0M433.8 143.6h0M430.0 141.5h0M443.1 137.5h0M433.2 128.5h0M431.4 160.8h0M443.7 137.8h0M439.3 105.7h0M435.8 110.0h0M432.9 150.1h0M440.3 166.4h0M438.5 145.0h0M441.7 135.2h0M443.5 110.0h0M452.4 99.2h0M456.6 104.2h0M458.3 93.6h0M446.8 136.5h0M453.2 122.1h0M457.0 105.0h0M456.1 92.1h0M455.1 94.3h0M450.5 117.4h0M457.3 136.8h0M451.0 107.3h0M448.0 89.2h0M450.3 130.0h0M456.6 116.0h0M445.0 116.7h0M444.2 107.0h0M444.8 121.8h0M445.8 117.8h0M447.1 106.7h0M445.8 141.9h0M444.2 131.5h0M447.7 124.0h0M452.8 127.3h0M455.1 107.9h0M450.7 133.7h0M458.5 79.3h0M444.6 113.4h0M457.6 117.9h0M444.6 134.7h0M452.7 92.7h0M446.8 96.4h0M454.7 90.2h0M455.2 120.9h0M456.4 90.7h0M448.0 94.1h0M446.1 121.6h0M455.4 137.3h0M454.2 110.9h0M450.4 130.7h0M450.1 135.6h0M451.1 115.0h0M459.1 124.9h0M445.7 190.7h0M452.6 115.1h0M457.2 119.1h0M445.4 111.2h0M455.1 109.9h0M456.5 160.0h0M447.4 123.6h0M448.7 192.3h0M450.0 118.8h0M459.8 92.8h0M458.2 117.8h0M458.6 105.3h0M449.1 129.7h0M457.7 98.6h0M451.0 113.9h0M452.7 114.5h0M453.7 127.6h0M455.0 90.3h0M448.6 117.4h0M449.2 137.8h0M445.7 144.1h0M457.4 117.8h0M450.4 94.9h0M459.2 165.8h0M447.6 117.6h0M453.2 123.4h0M459.9 117.5h0M454.4 130.4h0M457.9 101.6h0M458.6 122.9h0M451.7 125.7h0M446.4 92.0h0M453.2 93.3h0M453.6 128.7h0M448.4 121.0h0M446.5 106.7h0M448.8 97.8h0M455.8 117.2h0M448.4 126.4h0M456.1 123.6h0M449.0 98.8h0M456.2 122.6h0M452.9 123.5h0M458.8 108.4h0M447.1 105.2h0M455.6 109.6h0M450.3 101.1h0M446.8 103.4h0M446.2 127.9h0M447.4 125.5h0M454.0 119.6h0M457.1 115.3h0M448.2 113.2h0M448.7 126.8h0M445.6 134.0h0M451.6 122.9h0M445.5 141.5h0M448.3 105.1h0M458.1 140.1h0M451.4 97.0h0M448.3 91.6h0M455.3 104.6h0M444.0 138.1h0M455.1 104.7h0M456.3 98.9h0M450.9 123.2h0M446.9 102.8h0M447.0 98.8h0M458.0 100.7h0M454.7 118.4h0M459.5 89.4h0M446.6 98.6h0M449.9 106.8h0M455.8 107.0h0M452.5 118.8h0M450.9 101.4h0M445.8 130.3h0M458.8 85.7h0M446.9 142.8h0M454.7 124.3h0M452.8 109.2h0M455.8 101.6h0M455.6 104.6h0M450.5 121.0h0M451.7 107.2h0M445.0 115.4h0M455.3 113.1h0M447.9 113.9h0M445.6 112.5h0M444.6 122.7h0M448.0 120.0h0M445.7 105.1h0M446.3 150.3h0M449.6 133.9h0M448.8 104.1h0M447.7 118.8h0M446.4 125.4h0M452.9 133.4h0M451.7 95.1h0M449.4 141.1h0M446.6 111.8h0M455.9 92.4h0M445.3 112.2h0M449.3 95.8h0M446.8 147.8h0M454.8 100.4h0M451.7 153.0h0M458.2 90.3h0M453.8 106.7h0M453.4 108.9h0M445.0 104.6h0M444.2 114.6h0M453.4 183.8h0M455.9 137.2h0M457.3 104.0h0M459.8 90.2h0M457.6 105.3h0M451.9 103.5h0M454.2 88.1h0M448.9 126.5h0M459.5 93.5h0M459.5 119.8h0M454.5 106.6h0M447.1 138.1h0M452.1 123.6h0M454.1 124.7h0M456.4 119.4h0M453.4 120.0h0M456.1 120.4h0M455.7 137.1h0M453.6 113.8h0M445.5 108.0h0M455.0 92.2h0M450.6 106.6h0M456.1 124.5h0M445.4 104.0h0M451.0 109.6h0M448.4 109.9h0M450.8 108.5h0M459.6 117.3h0M455.6 107.0h0M457.6 106.2h0M456.8 98.9h0M444.8 122.8h0M454.7 106.7h0M455.1 108.6h0M455.4 129.7h0M447.4 101.1h0M465.2 109.3h0M469.5 108.1h0M463.7 146.5h0M467.2 99.2h0M465.8 102.7h0M461.0 132.1h0M460.9 112.7h0M462.8 111.5h0M466.4 102.4h0M474.3 76.6h0M471.5 102.2h0M464.2 183.3h0M471.9 89.1h0M472.3 89.9h0M474.5 96.7h0M470.4 84.1h0M469.0 82.8h0M469.9 75.1h0M461.0 108.2h0M468.6 89.9h0M460.6 100.3h0M469.3 96.9h0M469.8 111.4h0M465.2 112.0h0M462.3 95.3h0M467.3 99.0h0M462.1 173.3h0M465.3 89.5h0M470.5 139.6h0M460.4 95.2h0M474.7 79.7h0M473.7 96.7h0M465.1 97.6h0M472.5 92.0h0M472.4 91.7h0M470.5 94.4h0M465.9 82.3h0M465.0 97.4h0M462.7 101.8h0M472.2 99.0h0M469.9 87.2h0M475.3 95.3h0M469.0 101.6h0M460.1 96.3h0M462.7 99.1h0M460.6 106.0h0M464.0 88.4h0M468.3 90.9h0M467.9 89.4h0M468.8 104.3h0M465.1 94.0h0M474.3 84.7h0M466.1 108.3h0M463.2 88.8h0M465.8 83.0h0M465.4 122.3h0M462.4 129.9h0M468.3 103.1h0M467.5 88.7h0M460.2 99.8h0M464.1 124.3h0M461.6 93.6h0M464.7 103.2h0M462.2 99.6h0M460.9 141.3h0M465.2 90.9h0M460.5 103.1h0M460.9 140.1h0M470.8 106.2h0M463.0 95.0h0M471.5 83.3h0M465.8 114.6h0M468.2 96.5h0M472.8 96.5h0M461.4 90.2h0M460.3 112.4h0M464.9 92.5h0M475.1 90.3h0M465.0 103.7h0M465.7 101.0h0M468.8 95.7h0M460.0 107.7h0M468.6 88.2h0M469.6 127.3h0M474.2 78.9h0M469.4 117.4h0M469.8 91.5h0M461.2 109.6h0M466.2 107.2h0M462.8 108.9h0M464.2 108.2h0M461.0 157.5h0M465.4 153.8h0M462.0 111.3h0M464.1 80.5h0M460.4 167.9h0M475.5 92.9h0M465.7 105.5h0M464.6 100.8h0M470.2 109.3h0M471.2 92.5h0M470.0 82.1h0M464.3 89.5h0M467.8 92.8h0M466.0 93.3h0M471.3 103.1h0M465.5 95.9h0M474.5 146.4h0M465.8 90.1h0M463.0 109.8h0M473.4 67.8h0M460.9 97.9h0M475.9 81.7h0M475.8 120.1h0M467.0 92.8h0M464.4 99.9h0M461.5 97.9h0M466.3 77.2h0M470.7 76.6h0M462.8 95.2h0M486.2 116.7h0M480.3 70.3h0M483.8 100.0h0M488.0 70.8h0M482.9 72.1h0M485.7 78.7h0M480.8 99.2h0M484.4 79.9h0M488.4 83.4h0M489.7 66.8h0M491.0 68.6h0M479.9 84.2h0M477.4 71.7h0M476.4 95.7h0M478.1 89.8h0M486.7 57.3h0M478.5 72.7h0M487.6 73.5h0M476.7 116.0h0M487.9 97.0h0M481.7 66.0h0M478.1 80.3h0M484.6 58.4h0M487.3 78.8h0M476.8 131.0h0M481.8 79.5h0M477.3 84.7h0M491.1 58.0h0M482.0 84.9h0M482.7 69.0h0M484.7 76.7h0M488.5 76.0h0M490.8 60.2h0M481.6 75.1h0M481.9 78.6h0M488.8 75.4h0M487.1 78.6h0M486.1 78.8h0M488.2 71.2h0M490.6 60.6h0M476.7 122.2h0M484.2 82.2h0M479.6 95.0h0M490.4 59.1h0M476.3 77.4h0M481.6 93.3h0M482.7 78.5h0M477.1 68.7h0M480.6 83.1h0M481.3 86.3h0M477.4 82.8h0M487.6 59.3h0M480.9 70.7h0M482.6 89.2h0M488.2 75.4h0M490.3 57.9h0M479.5 84.3h0M487.3 71.7h0M480.1 73.6h0M491.0 66.6h0M490.5 68.3h0M483.1 78.4h0M477.2 88.5h0M489.1 79.7h0M486.1 86.4h0M488.0 80.7h0M483.3 82.0h0M491.2 69.2h0M481.0 95.7h0M487.6 79.5h0M477.3 136.8h0M490.4 64.7h0M480.7 78.3h0M477.9 90.0h0M481.9 83.8h0M493.4 70.3h0M498.7 48.2h0M499.6 54.5h0M494.5 53.1h0M492.9 67.8h0M503.1 49.8h0M500.3 54.5h0M499.4 51.6h0M505.5 45.0h0M493.1 62.9h0M498.1 63.8h0M492.5 55.3h0M503.5 48.2h0M503.0 49.6h0M496.4 61.7h0M499.0 50.7h0M501.3 51.2h0M499.8 56.1h0M500.5 50.9h0M494.8 87.4h0M501.0 49.7h0M501.3 48.0h0M497.5 53.7h0M498.3 60.3h0M496.5 69.4h0M499.3 54.9h0M504.4 45.7h0M492.4 87.2h0M501.7 49.0h0M501.1 53.3h0M496.9 61.8h0M494.2 67.8h0M499.5 56.4h0M501.6 49.8h0M493.6 59.9h0M498.6 54.1h0M501.3 50.6h0M494.9 54.9h0M502.7 47.4h0M498.3 61.9h0M492.8 58.9h0M502.9 50.0h0M492.3 69.7h0M502.7 47.4h0M498.4 56.4h0M470.2 183.4h0M472.2 194.1h0M462.3 199.8h0M446.2 191.9h0M486 145.8h0M481.7 116.5h0M479.6 170.9h0M468 126h0" fill="none" stroke="#1d71ca" stroke-width="1.7" stroke-linecap="round"/>
<path d="M496.8 51.4L506.4 43.0" stroke="#1d71ca" stroke-width="1.2" stroke-linecap="round"/>
</g>
</svg></body></html>
